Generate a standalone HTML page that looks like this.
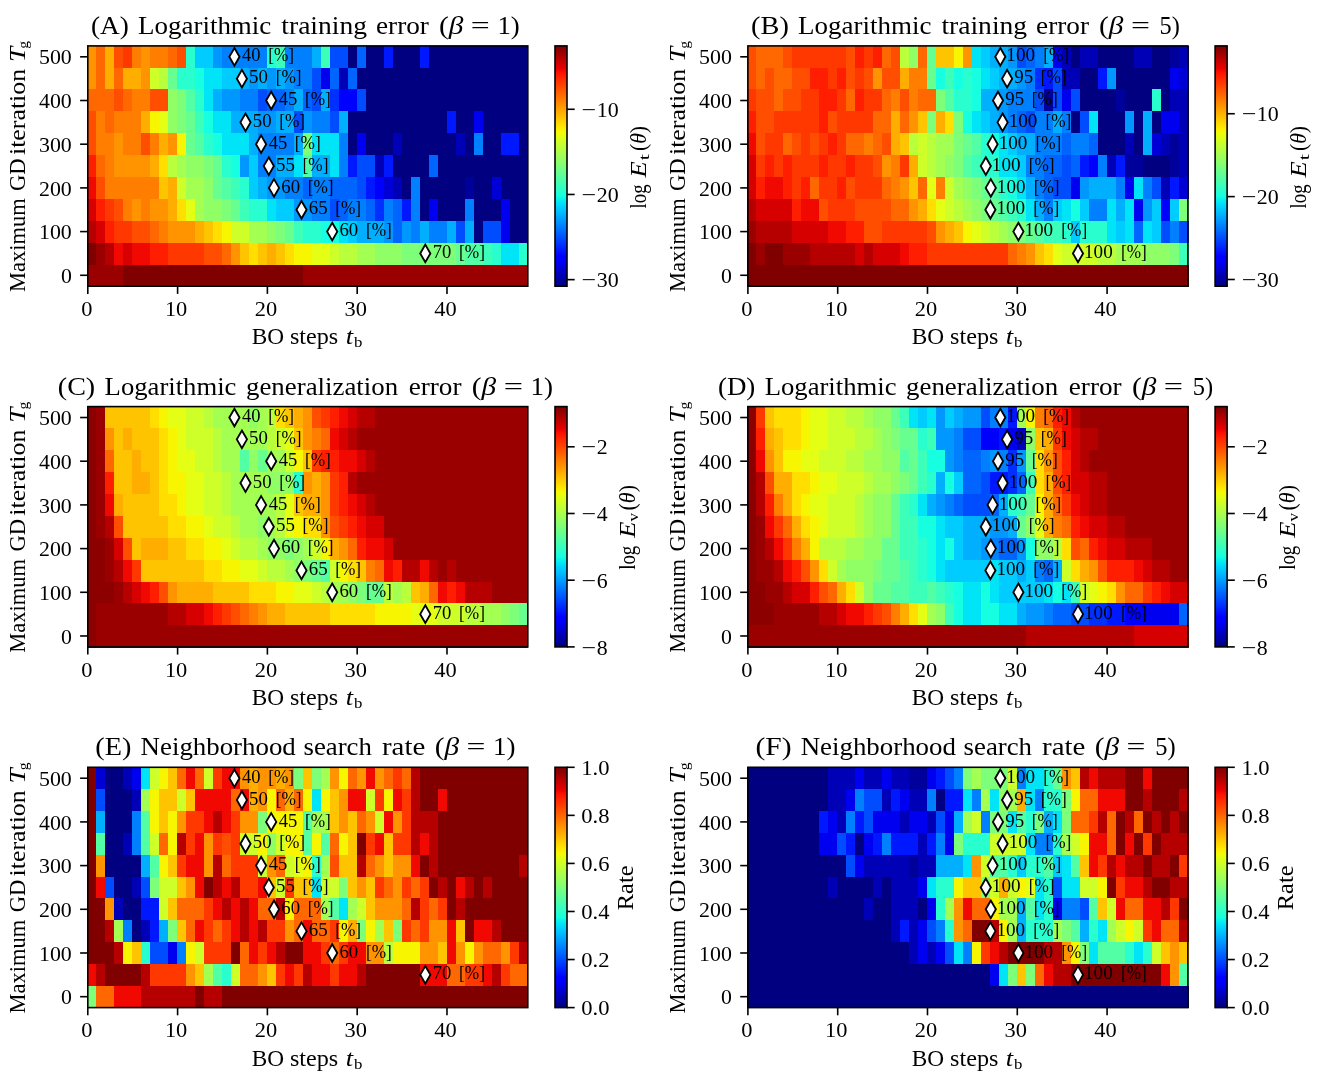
<!DOCTYPE html>
<html lang="en"><head><meta charset="utf-8"><title>Figure</title>
<style>html,body{margin:0;padding:0;background:#fff}svg{display:block}text{font-family:"Liberation Serif", "DejaVu Serif", serif;fill:#000}.t{font-size:21.5px}.l{font-size:22.5px}.ti{font-size:26px}.s{font-size:15px}.a{font-size:18.5px}</style></head><body>
<svg width="1324" height="1080" viewBox="0 0 1324 1080">
<rect width="1324" height="1080" fill="#fff"/>
<defs><linearGradient id="jet" x1="0" y1="1" x2="0" y2="0">
<stop offset="0.0000" stop-color="#000080"/>
<stop offset="0.0156" stop-color="#000092"/>
<stop offset="0.0312" stop-color="#0000a4"/>
<stop offset="0.0469" stop-color="#0000b6"/>
<stop offset="0.0625" stop-color="#0000c8"/>
<stop offset="0.0781" stop-color="#0000da"/>
<stop offset="0.0938" stop-color="#0000ed"/>
<stop offset="0.1094" stop-color="#0000ff"/>
<stop offset="0.1250" stop-color="#0000ff"/>
<stop offset="0.1406" stop-color="#0010ff"/>
<stop offset="0.1562" stop-color="#0020ff"/>
<stop offset="0.1719" stop-color="#0030ff"/>
<stop offset="0.1875" stop-color="#0040ff"/>
<stop offset="0.2031" stop-color="#0050ff"/>
<stop offset="0.2188" stop-color="#0060ff"/>
<stop offset="0.2344" stop-color="#0070ff"/>
<stop offset="0.2500" stop-color="#0080ff"/>
<stop offset="0.2656" stop-color="#0090ff"/>
<stop offset="0.2812" stop-color="#00a0ff"/>
<stop offset="0.2969" stop-color="#00b0ff"/>
<stop offset="0.3125" stop-color="#00c0ff"/>
<stop offset="0.3281" stop-color="#00d0ff"/>
<stop offset="0.3438" stop-color="#00e0fb"/>
<stop offset="0.3594" stop-color="#09f0ee"/>
<stop offset="0.3750" stop-color="#16ffe1"/>
<stop offset="0.3906" stop-color="#23ffd4"/>
<stop offset="0.4062" stop-color="#30ffc7"/>
<stop offset="0.4219" stop-color="#3cffba"/>
<stop offset="0.4375" stop-color="#49ffad"/>
<stop offset="0.4531" stop-color="#56ffa0"/>
<stop offset="0.4688" stop-color="#63ff94"/>
<stop offset="0.4844" stop-color="#70ff87"/>
<stop offset="0.5000" stop-color="#7dff7a"/>
<stop offset="0.5156" stop-color="#8aff6d"/>
<stop offset="0.5312" stop-color="#97ff60"/>
<stop offset="0.5469" stop-color="#a4ff53"/>
<stop offset="0.5625" stop-color="#b1ff46"/>
<stop offset="0.5781" stop-color="#beff39"/>
<stop offset="0.5938" stop-color="#caff2c"/>
<stop offset="0.6094" stop-color="#d7ff1f"/>
<stop offset="0.6250" stop-color="#e4ff13"/>
<stop offset="0.6406" stop-color="#f1fc06"/>
<stop offset="0.6562" stop-color="#feed00"/>
<stop offset="0.6719" stop-color="#ffde00"/>
<stop offset="0.6875" stop-color="#ffd000"/>
<stop offset="0.7031" stop-color="#ffc100"/>
<stop offset="0.7188" stop-color="#ffb200"/>
<stop offset="0.7344" stop-color="#ffa300"/>
<stop offset="0.7500" stop-color="#ff9400"/>
<stop offset="0.7656" stop-color="#ff8600"/>
<stop offset="0.7812" stop-color="#ff7700"/>
<stop offset="0.7969" stop-color="#ff6800"/>
<stop offset="0.8125" stop-color="#ff5900"/>
<stop offset="0.8281" stop-color="#ff4a00"/>
<stop offset="0.8438" stop-color="#ff3b00"/>
<stop offset="0.8594" stop-color="#ff2d00"/>
<stop offset="0.8750" stop-color="#ff1e00"/>
<stop offset="0.8906" stop-color="#fa0f00"/>
<stop offset="0.9062" stop-color="#e80000"/>
<stop offset="0.9219" stop-color="#d60000"/>
<stop offset="0.9375" stop-color="#c40000"/>
<stop offset="0.9531" stop-color="#b20000"/>
<stop offset="0.9688" stop-color="#9f0000"/>
<stop offset="0.9844" stop-color="#8d0000"/>
<stop offset="1.0000" stop-color="#800000"/>
</linearGradient></defs>
<g shape-rendering="crispEdges">
<rect x="87.00" y="45.60" width="9.40" height="22.30" fill="#ff9400"/>
<rect x="96.00" y="45.60" width="9.40" height="22.30" fill="#ff6800"/>
<rect x="105.00" y="45.60" width="9.40" height="22.30" fill="#ffae00"/>
<rect x="114.00" y="45.60" width="9.40" height="22.30" fill="#ff4e00"/>
<rect x="123.00" y="45.60" width="9.40" height="22.30" fill="#ff3800"/>
<rect x="132.00" y="45.60" width="9.40" height="22.30" fill="#ff7e00"/>
<rect x="141.00" y="45.60" width="9.40" height="22.30" fill="#ff9400"/>
<rect x="150.00" y="45.60" width="18.40" height="22.30" fill="#ff7e00"/>
<rect x="168.00" y="45.60" width="9.40" height="22.30" fill="#ff6800"/>
<rect x="177.00" y="45.60" width="9.40" height="22.30" fill="#ff4e00"/>
<rect x="186.00" y="45.60" width="9.40" height="22.30" fill="#29ffce"/>
<rect x="195.00" y="45.60" width="18.40" height="22.30" fill="#00ccff"/>
<rect x="213.00" y="45.60" width="9.40" height="22.30" fill="#0098ff"/>
<rect x="222.00" y="45.60" width="45.40" height="22.30" fill="#0080ff"/>
<rect x="267.00" y="45.60" width="9.40" height="22.30" fill="#29ffce"/>
<rect x="276.00" y="45.60" width="9.40" height="22.30" fill="#3cffba"/>
<rect x="285.00" y="45.60" width="27.40" height="22.30" fill="#0080ff"/>
<rect x="312.00" y="45.60" width="9.40" height="22.30" fill="#00b0ff"/>
<rect x="321.00" y="45.60" width="9.40" height="22.30" fill="#3cffba"/>
<rect x="330.00" y="45.60" width="18.40" height="22.30" fill="#004cff"/>
<rect x="348.00" y="45.60" width="9.40" height="22.30" fill="#000080"/>
<rect x="357.00" y="45.60" width="9.40" height="22.30" fill="#0064ff"/>
<rect x="366.00" y="45.60" width="18.40" height="22.30" fill="#000080"/>
<rect x="384.00" y="45.60" width="9.40" height="22.30" fill="#0018ff"/>
<rect x="393.00" y="45.60" width="27.40" height="22.30" fill="#000080"/>
<rect x="420.00" y="45.60" width="9.40" height="22.30" fill="#0018ff"/>
<rect x="429.00" y="45.60" width="99.40" height="22.30" fill="#000080"/>
<rect x="87.00" y="67.50" width="9.40" height="22.30" fill="#ff9400"/>
<rect x="96.00" y="67.50" width="9.40" height="22.30" fill="#ff6800"/>
<rect x="105.00" y="67.50" width="9.40" height="22.30" fill="#ffae00"/>
<rect x="114.00" y="67.50" width="9.40" height="22.30" fill="#ff6800"/>
<rect x="123.00" y="67.50" width="18.40" height="22.30" fill="#ffae00"/>
<rect x="141.00" y="67.50" width="9.40" height="22.30" fill="#ff9400"/>
<rect x="150.00" y="67.50" width="9.40" height="22.30" fill="#ceff29"/>
<rect x="159.00" y="67.50" width="9.40" height="22.30" fill="#baff3c"/>
<rect x="168.00" y="67.50" width="9.40" height="22.30" fill="#66ff90"/>
<rect x="177.00" y="67.50" width="18.40" height="22.30" fill="#29ffce"/>
<rect x="195.00" y="67.50" width="9.40" height="22.30" fill="#16ffe1"/>
<rect x="204.00" y="67.50" width="18.40" height="22.30" fill="#00e4f8"/>
<rect x="222.00" y="67.50" width="18.40" height="22.30" fill="#00ccff"/>
<rect x="240.00" y="67.50" width="9.40" height="22.30" fill="#00b0ff"/>
<rect x="249.00" y="67.50" width="9.40" height="22.30" fill="#0098ff"/>
<rect x="258.00" y="67.50" width="9.40" height="22.30" fill="#00b0ff"/>
<rect x="267.00" y="67.50" width="9.40" height="22.30" fill="#0098ff"/>
<rect x="276.00" y="67.50" width="9.40" height="22.30" fill="#00b0ff"/>
<rect x="285.00" y="67.50" width="9.40" height="22.30" fill="#0098ff"/>
<rect x="294.00" y="67.50" width="18.40" height="22.30" fill="#0080ff"/>
<rect x="312.00" y="67.50" width="9.40" height="22.30" fill="#004cff"/>
<rect x="321.00" y="67.50" width="9.40" height="22.30" fill="#0000f1"/>
<rect x="330.00" y="67.50" width="9.40" height="22.30" fill="#0064ff"/>
<rect x="339.00" y="67.50" width="9.40" height="22.30" fill="#0000b6"/>
<rect x="348.00" y="67.50" width="9.40" height="22.30" fill="#0064ff"/>
<rect x="357.00" y="67.50" width="171.40" height="22.30" fill="#000080"/>
<rect x="87.00" y="89.40" width="27.40" height="22.30" fill="#ff6800"/>
<rect x="114.00" y="89.40" width="9.40" height="22.30" fill="#ff4e00"/>
<rect x="123.00" y="89.40" width="9.40" height="22.30" fill="#ff6800"/>
<rect x="132.00" y="89.40" width="18.40" height="22.30" fill="#ff7e00"/>
<rect x="150.00" y="89.40" width="18.40" height="22.30" fill="#ff4e00"/>
<rect x="168.00" y="89.40" width="9.40" height="22.30" fill="#90ff66"/>
<rect x="177.00" y="89.40" width="9.40" height="22.30" fill="#7dff7a"/>
<rect x="186.00" y="89.40" width="9.40" height="22.30" fill="#53ffa4"/>
<rect x="195.00" y="89.40" width="9.40" height="22.30" fill="#29ffce"/>
<rect x="204.00" y="89.40" width="9.40" height="22.30" fill="#00e4f8"/>
<rect x="213.00" y="89.40" width="9.40" height="22.30" fill="#00b0ff"/>
<rect x="222.00" y="89.40" width="18.40" height="22.30" fill="#0098ff"/>
<rect x="240.00" y="89.40" width="18.40" height="22.30" fill="#0080ff"/>
<rect x="258.00" y="89.40" width="9.40" height="22.30" fill="#004cff"/>
<rect x="267.00" y="89.40" width="18.40" height="22.30" fill="#0064ff"/>
<rect x="285.00" y="89.40" width="9.40" height="22.30" fill="#0080ff"/>
<rect x="294.00" y="89.40" width="9.40" height="22.30" fill="#00b0ff"/>
<rect x="303.00" y="89.40" width="9.40" height="22.30" fill="#0064ff"/>
<rect x="312.00" y="89.40" width="9.40" height="22.30" fill="#004cff"/>
<rect x="321.00" y="89.40" width="9.40" height="22.30" fill="#00b0ff"/>
<rect x="330.00" y="89.40" width="9.40" height="22.30" fill="#0030ff"/>
<rect x="339.00" y="89.40" width="18.40" height="22.30" fill="#0000ff"/>
<rect x="357.00" y="89.40" width="9.40" height="22.30" fill="#004cff"/>
<rect x="366.00" y="89.40" width="162.40" height="22.30" fill="#000080"/>
<rect x="87.00" y="111.30" width="9.40" height="22.30" fill="#ff4e00"/>
<rect x="96.00" y="111.30" width="9.40" height="22.30" fill="#ff7e00"/>
<rect x="105.00" y="111.30" width="9.40" height="22.30" fill="#ff6800"/>
<rect x="114.00" y="111.30" width="27.40" height="22.30" fill="#ff7e00"/>
<rect x="141.00" y="111.30" width="9.40" height="22.30" fill="#ffae00"/>
<rect x="150.00" y="111.30" width="9.40" height="22.30" fill="#f8f500"/>
<rect x="159.00" y="111.30" width="9.40" height="22.30" fill="#e4ff13"/>
<rect x="168.00" y="111.30" width="9.40" height="22.30" fill="#90ff66"/>
<rect x="177.00" y="111.30" width="9.40" height="22.30" fill="#7dff7a"/>
<rect x="186.00" y="111.30" width="9.40" height="22.30" fill="#66ff90"/>
<rect x="195.00" y="111.30" width="9.40" height="22.30" fill="#3cffba"/>
<rect x="204.00" y="111.30" width="9.40" height="22.30" fill="#16ffe1"/>
<rect x="213.00" y="111.30" width="18.40" height="22.30" fill="#00e4f8"/>
<rect x="231.00" y="111.30" width="27.40" height="22.30" fill="#00b0ff"/>
<rect x="258.00" y="111.30" width="18.40" height="22.30" fill="#0098ff"/>
<rect x="276.00" y="111.30" width="18.40" height="22.30" fill="#00b0ff"/>
<rect x="294.00" y="111.30" width="9.40" height="22.30" fill="#004cff"/>
<rect x="303.00" y="111.30" width="9.40" height="22.30" fill="#0098ff"/>
<rect x="312.00" y="111.30" width="18.40" height="22.30" fill="#0080ff"/>
<rect x="330.00" y="111.30" width="9.40" height="22.30" fill="#004cff"/>
<rect x="339.00" y="111.30" width="9.40" height="22.30" fill="#00b0ff"/>
<rect x="348.00" y="111.30" width="99.40" height="22.30" fill="#000080"/>
<rect x="447.00" y="111.30" width="9.40" height="22.30" fill="#0018ff"/>
<rect x="456.00" y="111.30" width="18.40" height="22.30" fill="#000080"/>
<rect x="474.00" y="111.30" width="9.40" height="22.30" fill="#0000f1"/>
<rect x="483.00" y="111.30" width="45.40" height="22.30" fill="#000080"/>
<rect x="87.00" y="133.20" width="9.40" height="22.30" fill="#ff4e00"/>
<rect x="96.00" y="133.20" width="18.40" height="22.30" fill="#ff7e00"/>
<rect x="114.00" y="133.20" width="9.40" height="22.30" fill="#ff9400"/>
<rect x="123.00" y="133.20" width="18.40" height="22.30" fill="#ff7e00"/>
<rect x="141.00" y="133.20" width="9.40" height="22.30" fill="#ff4e00"/>
<rect x="150.00" y="133.20" width="9.40" height="22.30" fill="#ff7e00"/>
<rect x="159.00" y="133.20" width="9.40" height="22.30" fill="#ffae00"/>
<rect x="168.00" y="133.20" width="9.40" height="22.30" fill="#ff9400"/>
<rect x="177.00" y="133.20" width="9.40" height="22.30" fill="#f8f500"/>
<rect x="186.00" y="133.20" width="9.40" height="22.30" fill="#66ff90"/>
<rect x="195.00" y="133.20" width="9.40" height="22.30" fill="#53ffa4"/>
<rect x="204.00" y="133.20" width="9.40" height="22.30" fill="#29ffce"/>
<rect x="213.00" y="133.20" width="9.40" height="22.30" fill="#16ffe1"/>
<rect x="222.00" y="133.20" width="27.40" height="22.30" fill="#00e4f8"/>
<rect x="249.00" y="133.20" width="9.40" height="22.30" fill="#00b0ff"/>
<rect x="258.00" y="133.20" width="36.40" height="22.30" fill="#0080ff"/>
<rect x="294.00" y="133.20" width="9.40" height="22.30" fill="#00b0ff"/>
<rect x="303.00" y="133.20" width="9.40" height="22.30" fill="#7dff7a"/>
<rect x="312.00" y="133.20" width="27.40" height="22.30" fill="#00e4f8"/>
<rect x="339.00" y="133.20" width="9.40" height="22.30" fill="#0080ff"/>
<rect x="348.00" y="133.20" width="9.40" height="22.30" fill="#000080"/>
<rect x="357.00" y="133.20" width="9.40" height="22.30" fill="#0000f1"/>
<rect x="366.00" y="133.20" width="27.40" height="22.30" fill="#000080"/>
<rect x="393.00" y="133.20" width="9.40" height="22.30" fill="#0000b6"/>
<rect x="402.00" y="133.20" width="54.40" height="22.30" fill="#000080"/>
<rect x="456.00" y="133.20" width="9.40" height="22.30" fill="#0000b6"/>
<rect x="465.00" y="133.20" width="9.40" height="22.30" fill="#000080"/>
<rect x="474.00" y="133.20" width="9.40" height="22.30" fill="#0080ff"/>
<rect x="483.00" y="133.20" width="18.40" height="22.30" fill="#000080"/>
<rect x="501.00" y="133.20" width="18.40" height="22.30" fill="#0018ff"/>
<rect x="519.00" y="133.20" width="9.40" height="22.30" fill="#000080"/>
<rect x="87.00" y="155.10" width="9.40" height="22.30" fill="#ff1e00"/>
<rect x="96.00" y="155.10" width="9.40" height="22.30" fill="#ff6800"/>
<rect x="105.00" y="155.10" width="9.40" height="22.30" fill="#ff7e00"/>
<rect x="114.00" y="155.10" width="36.40" height="22.30" fill="#ff9400"/>
<rect x="150.00" y="155.10" width="9.40" height="22.30" fill="#ffae00"/>
<rect x="159.00" y="155.10" width="9.40" height="22.30" fill="#ffde00"/>
<rect x="168.00" y="155.10" width="9.40" height="22.30" fill="#baff3c"/>
<rect x="177.00" y="155.10" width="9.40" height="22.30" fill="#a4ff53"/>
<rect x="186.00" y="155.10" width="18.40" height="22.30" fill="#90ff66"/>
<rect x="204.00" y="155.10" width="9.40" height="22.30" fill="#7dff7a"/>
<rect x="213.00" y="155.10" width="9.40" height="22.30" fill="#66ff90"/>
<rect x="222.00" y="155.10" width="9.40" height="22.30" fill="#29ffce"/>
<rect x="231.00" y="155.10" width="9.40" height="22.30" fill="#16ffe1"/>
<rect x="240.00" y="155.10" width="9.40" height="22.30" fill="#0098ff"/>
<rect x="249.00" y="155.10" width="9.40" height="22.30" fill="#00ccff"/>
<rect x="258.00" y="155.10" width="18.40" height="22.30" fill="#0080ff"/>
<rect x="276.00" y="155.10" width="18.40" height="22.30" fill="#00b0ff"/>
<rect x="294.00" y="155.10" width="9.40" height="22.30" fill="#00e4f8"/>
<rect x="303.00" y="155.10" width="9.40" height="22.30" fill="#53ffa4"/>
<rect x="312.00" y="155.10" width="18.40" height="22.30" fill="#00b0ff"/>
<rect x="330.00" y="155.10" width="9.40" height="22.30" fill="#00e4f8"/>
<rect x="339.00" y="155.10" width="9.40" height="22.30" fill="#0080ff"/>
<rect x="348.00" y="155.10" width="9.40" height="22.30" fill="#0018ff"/>
<rect x="357.00" y="155.10" width="18.40" height="22.30" fill="#004cff"/>
<rect x="375.00" y="155.10" width="9.40" height="22.30" fill="#0000b6"/>
<rect x="384.00" y="155.10" width="9.40" height="22.30" fill="#0018ff"/>
<rect x="393.00" y="155.10" width="36.40" height="22.30" fill="#000080"/>
<rect x="429.00" y="155.10" width="9.40" height="22.30" fill="#0064ff"/>
<rect x="438.00" y="155.10" width="90.40" height="22.30" fill="#000080"/>
<rect x="87.00" y="177.00" width="9.40" height="22.30" fill="#f10800"/>
<rect x="96.00" y="177.00" width="9.40" height="22.30" fill="#ff4e00"/>
<rect x="105.00" y="177.00" width="54.40" height="22.30" fill="#ff7e00"/>
<rect x="159.00" y="177.00" width="9.40" height="22.30" fill="#ffc400"/>
<rect x="168.00" y="177.00" width="9.40" height="22.30" fill="#ffae00"/>
<rect x="177.00" y="177.00" width="9.40" height="22.30" fill="#ceff29"/>
<rect x="186.00" y="177.00" width="18.40" height="22.30" fill="#a4ff53"/>
<rect x="204.00" y="177.00" width="9.40" height="22.30" fill="#90ff66"/>
<rect x="213.00" y="177.00" width="9.40" height="22.30" fill="#66ff90"/>
<rect x="222.00" y="177.00" width="9.40" height="22.30" fill="#53ffa4"/>
<rect x="231.00" y="177.00" width="9.40" height="22.30" fill="#3cffba"/>
<rect x="240.00" y="177.00" width="9.40" height="22.30" fill="#29ffce"/>
<rect x="249.00" y="177.00" width="9.40" height="22.30" fill="#00ccff"/>
<rect x="258.00" y="177.00" width="9.40" height="22.30" fill="#00b0ff"/>
<rect x="267.00" y="177.00" width="18.40" height="22.30" fill="#0098ff"/>
<rect x="285.00" y="177.00" width="18.40" height="22.30" fill="#0080ff"/>
<rect x="303.00" y="177.00" width="9.40" height="22.30" fill="#0064ff"/>
<rect x="312.00" y="177.00" width="18.40" height="22.30" fill="#0080ff"/>
<rect x="330.00" y="177.00" width="27.40" height="22.30" fill="#0064ff"/>
<rect x="357.00" y="177.00" width="9.40" height="22.30" fill="#004cff"/>
<rect x="366.00" y="177.00" width="9.40" height="22.30" fill="#0018ff"/>
<rect x="375.00" y="177.00" width="9.40" height="22.30" fill="#0000ff"/>
<rect x="384.00" y="177.00" width="9.40" height="22.30" fill="#0000d6"/>
<rect x="393.00" y="177.00" width="9.40" height="22.30" fill="#0000b6"/>
<rect x="402.00" y="177.00" width="9.40" height="22.30" fill="#000080"/>
<rect x="411.00" y="177.00" width="9.40" height="22.30" fill="#0080ff"/>
<rect x="420.00" y="177.00" width="45.40" height="22.30" fill="#000080"/>
<rect x="465.00" y="177.00" width="9.40" height="22.30" fill="#00009b"/>
<rect x="474.00" y="177.00" width="18.40" height="22.30" fill="#000080"/>
<rect x="492.00" y="177.00" width="9.40" height="22.30" fill="#0000d6"/>
<rect x="501.00" y="177.00" width="27.40" height="22.30" fill="#000080"/>
<rect x="87.00" y="198.90" width="9.40" height="22.30" fill="#d60000"/>
<rect x="96.00" y="198.90" width="9.40" height="22.30" fill="#ff1e00"/>
<rect x="105.00" y="198.90" width="9.40" height="22.30" fill="#ff3800"/>
<rect x="114.00" y="198.90" width="9.40" height="22.30" fill="#ff4e00"/>
<rect x="123.00" y="198.90" width="9.40" height="22.30" fill="#ff7e00"/>
<rect x="132.00" y="198.90" width="9.40" height="22.30" fill="#ff9400"/>
<rect x="141.00" y="198.90" width="9.40" height="22.30" fill="#ff7e00"/>
<rect x="150.00" y="198.90" width="18.40" height="22.30" fill="#ff9400"/>
<rect x="168.00" y="198.90" width="9.40" height="22.30" fill="#ffae00"/>
<rect x="177.00" y="198.90" width="9.40" height="22.30" fill="#ffde00"/>
<rect x="186.00" y="198.90" width="9.40" height="22.30" fill="#e4ff13"/>
<rect x="195.00" y="198.90" width="9.40" height="22.30" fill="#a4ff53"/>
<rect x="204.00" y="198.90" width="18.40" height="22.30" fill="#90ff66"/>
<rect x="222.00" y="198.90" width="9.40" height="22.30" fill="#7dff7a"/>
<rect x="231.00" y="198.90" width="9.40" height="22.30" fill="#66ff90"/>
<rect x="240.00" y="198.90" width="9.40" height="22.30" fill="#3cffba"/>
<rect x="249.00" y="198.90" width="18.40" height="22.30" fill="#29ffce"/>
<rect x="267.00" y="198.90" width="9.40" height="22.30" fill="#00e4f8"/>
<rect x="276.00" y="198.90" width="18.40" height="22.30" fill="#00ccff"/>
<rect x="294.00" y="198.90" width="18.40" height="22.30" fill="#0098ff"/>
<rect x="312.00" y="198.90" width="18.40" height="22.30" fill="#0080ff"/>
<rect x="330.00" y="198.90" width="9.40" height="22.30" fill="#004cff"/>
<rect x="339.00" y="198.90" width="9.40" height="22.30" fill="#0064ff"/>
<rect x="348.00" y="198.90" width="18.40" height="22.30" fill="#0080ff"/>
<rect x="366.00" y="198.90" width="9.40" height="22.30" fill="#0064ff"/>
<rect x="375.00" y="198.90" width="9.40" height="22.30" fill="#0030ff"/>
<rect x="384.00" y="198.90" width="9.40" height="22.30" fill="#0080ff"/>
<rect x="393.00" y="198.90" width="9.40" height="22.30" fill="#0064ff"/>
<rect x="402.00" y="198.90" width="9.40" height="22.30" fill="#0018ff"/>
<rect x="411.00" y="198.90" width="9.40" height="22.30" fill="#0080ff"/>
<rect x="420.00" y="198.90" width="9.40" height="22.30" fill="#000080"/>
<rect x="429.00" y="198.90" width="9.40" height="22.30" fill="#0000f1"/>
<rect x="438.00" y="198.90" width="27.40" height="22.30" fill="#000080"/>
<rect x="465.00" y="198.90" width="9.40" height="22.30" fill="#0080ff"/>
<rect x="474.00" y="198.90" width="27.40" height="22.30" fill="#000080"/>
<rect x="501.00" y="198.90" width="9.40" height="22.30" fill="#0000f1"/>
<rect x="510.00" y="198.90" width="18.40" height="22.30" fill="#000080"/>
<rect x="87.00" y="220.80" width="9.40" height="22.30" fill="#b60000"/>
<rect x="96.00" y="220.80" width="9.40" height="22.30" fill="#d60000"/>
<rect x="105.00" y="220.80" width="9.40" height="22.30" fill="#ff1e00"/>
<rect x="114.00" y="220.80" width="18.40" height="22.30" fill="#ff3800"/>
<rect x="132.00" y="220.80" width="18.40" height="22.30" fill="#ff4e00"/>
<rect x="150.00" y="220.80" width="9.40" height="22.30" fill="#ff6800"/>
<rect x="159.00" y="220.80" width="9.40" height="22.30" fill="#ff7e00"/>
<rect x="168.00" y="220.80" width="27.40" height="22.30" fill="#ff9400"/>
<rect x="195.00" y="220.80" width="9.40" height="22.30" fill="#ffae00"/>
<rect x="204.00" y="220.80" width="9.40" height="22.30" fill="#ffc400"/>
<rect x="213.00" y="220.80" width="9.40" height="22.30" fill="#ffde00"/>
<rect x="222.00" y="220.80" width="9.40" height="22.30" fill="#f8f500"/>
<rect x="231.00" y="220.80" width="18.40" height="22.30" fill="#ceff29"/>
<rect x="249.00" y="220.80" width="18.40" height="22.30" fill="#a4ff53"/>
<rect x="267.00" y="220.80" width="9.40" height="22.30" fill="#90ff66"/>
<rect x="276.00" y="220.80" width="9.40" height="22.30" fill="#7dff7a"/>
<rect x="285.00" y="220.80" width="9.40" height="22.30" fill="#66ff90"/>
<rect x="294.00" y="220.80" width="9.40" height="22.30" fill="#3cffba"/>
<rect x="303.00" y="220.80" width="18.40" height="22.30" fill="#29ffce"/>
<rect x="321.00" y="220.80" width="18.40" height="22.30" fill="#16ffe1"/>
<rect x="339.00" y="220.80" width="9.40" height="22.30" fill="#00e4f8"/>
<rect x="348.00" y="220.80" width="9.40" height="22.30" fill="#00ccff"/>
<rect x="357.00" y="220.80" width="27.40" height="22.30" fill="#00b0ff"/>
<rect x="384.00" y="220.80" width="9.40" height="22.30" fill="#0098ff"/>
<rect x="393.00" y="220.80" width="9.40" height="22.30" fill="#0064ff"/>
<rect x="402.00" y="220.80" width="9.40" height="22.30" fill="#0098ff"/>
<rect x="411.00" y="220.80" width="9.40" height="22.30" fill="#0080ff"/>
<rect x="420.00" y="220.80" width="9.40" height="22.30" fill="#00b0ff"/>
<rect x="429.00" y="220.80" width="18.40" height="22.30" fill="#0080ff"/>
<rect x="447.00" y="220.80" width="9.40" height="22.30" fill="#00b0ff"/>
<rect x="456.00" y="220.80" width="9.40" height="22.30" fill="#004cff"/>
<rect x="465.00" y="220.80" width="9.40" height="22.30" fill="#00b0ff"/>
<rect x="474.00" y="220.80" width="9.40" height="22.30" fill="#000080"/>
<rect x="483.00" y="220.80" width="18.40" height="22.30" fill="#004cff"/>
<rect x="501.00" y="220.80" width="9.40" height="22.30" fill="#0000f1"/>
<rect x="510.00" y="220.80" width="18.40" height="22.30" fill="#000080"/>
<rect x="87.00" y="242.70" width="9.40" height="22.30" fill="#800000"/>
<rect x="96.00" y="242.70" width="9.40" height="22.30" fill="#9b0000"/>
<rect x="105.00" y="242.70" width="9.40" height="22.30" fill="#b60000"/>
<rect x="114.00" y="242.70" width="9.40" height="22.30" fill="#f10800"/>
<rect x="123.00" y="242.70" width="9.40" height="22.30" fill="#d60000"/>
<rect x="132.00" y="242.70" width="18.40" height="22.30" fill="#f10800"/>
<rect x="150.00" y="242.70" width="18.40" height="22.30" fill="#ff1e00"/>
<rect x="168.00" y="242.70" width="36.40" height="22.30" fill="#ff3800"/>
<rect x="204.00" y="242.70" width="18.40" height="22.30" fill="#ff4e00"/>
<rect x="222.00" y="242.70" width="9.40" height="22.30" fill="#ff6800"/>
<rect x="231.00" y="242.70" width="9.40" height="22.30" fill="#ff9400"/>
<rect x="240.00" y="242.70" width="9.40" height="22.30" fill="#ffc400"/>
<rect x="249.00" y="242.70" width="9.40" height="22.30" fill="#ffde00"/>
<rect x="258.00" y="242.70" width="9.40" height="22.30" fill="#ffc400"/>
<rect x="267.00" y="242.70" width="9.40" height="22.30" fill="#ffae00"/>
<rect x="276.00" y="242.70" width="9.40" height="22.30" fill="#ffc400"/>
<rect x="285.00" y="242.70" width="9.40" height="22.30" fill="#ffde00"/>
<rect x="294.00" y="242.70" width="18.40" height="22.30" fill="#f8f500"/>
<rect x="312.00" y="242.70" width="18.40" height="22.30" fill="#e4ff13"/>
<rect x="330.00" y="242.70" width="9.40" height="22.30" fill="#ceff29"/>
<rect x="339.00" y="242.70" width="18.40" height="22.30" fill="#baff3c"/>
<rect x="357.00" y="242.70" width="18.40" height="22.30" fill="#a4ff53"/>
<rect x="375.00" y="242.70" width="27.40" height="22.30" fill="#90ff66"/>
<rect x="402.00" y="242.70" width="54.40" height="22.30" fill="#7dff7a"/>
<rect x="456.00" y="242.70" width="9.40" height="22.30" fill="#66ff90"/>
<rect x="465.00" y="242.70" width="18.40" height="22.30" fill="#53ffa4"/>
<rect x="483.00" y="242.70" width="9.40" height="22.30" fill="#3cffba"/>
<rect x="492.00" y="242.70" width="9.40" height="22.30" fill="#29ffce"/>
<rect x="501.00" y="242.70" width="18.40" height="22.30" fill="#00e4f8"/>
<rect x="519.00" y="242.70" width="9.40" height="22.30" fill="#29ffce"/>
<rect x="87.00" y="264.60" width="36.40" height="22.30" fill="#9b0000"/>
<rect x="123.00" y="264.60" width="180.40" height="22.30" fill="#800000"/>
<rect x="303.00" y="264.60" width="225.40" height="22.30" fill="#9b0000"/>
</g>
<path d="M234.40 48.02L239.50 56.82L234.40 65.62L229.30 56.82Z" fill="#fff" stroke="#000" stroke-width="1.85" stroke-linejoin="miter"/>
<text class="a" x="241.98" y="61.42" textLength="18.5" lengthAdjust="spacingAndGlyphs">40</text>
<text class="a" x="268.13" y="61.42" textLength="25.9" lengthAdjust="spacingAndGlyphs">[%]</text>
<path d="M241.90 69.87L247.00 78.67L241.90 87.47L236.80 78.67Z" fill="#fff" stroke="#000" stroke-width="1.85" stroke-linejoin="miter"/>
<text class="a" x="249.14" y="83.27" textLength="18.8" lengthAdjust="spacingAndGlyphs">50</text>
<text class="a" x="275.63" y="83.27" textLength="25.9" lengthAdjust="spacingAndGlyphs">[%]</text>
<path d="M271.20 91.71L276.30 100.51L271.20 109.31L266.10 100.51Z" fill="#fff" stroke="#000" stroke-width="1.85" stroke-linejoin="miter"/>
<text class="a" x="278.78" y="105.11" textLength="18.6" lengthAdjust="spacingAndGlyphs">45</text>
<text class="a" x="304.93" y="105.11" textLength="25.9" lengthAdjust="spacingAndGlyphs">[%]</text>
<path d="M245.50 113.56L250.60 122.36L245.50 131.16L240.40 122.36Z" fill="#fff" stroke="#000" stroke-width="1.85" stroke-linejoin="miter"/>
<text class="a" x="252.75" y="126.96" textLength="18.8" lengthAdjust="spacingAndGlyphs">50</text>
<text class="a" x="279.23" y="126.96" textLength="25.9" lengthAdjust="spacingAndGlyphs">[%]</text>
<path d="M261.10 135.40L266.20 144.20L261.10 153.00L256.00 144.20Z" fill="#fff" stroke="#000" stroke-width="1.85" stroke-linejoin="miter"/>
<text class="a" x="268.68" y="148.80" textLength="18.6" lengthAdjust="spacingAndGlyphs">45</text>
<text class="a" x="294.83" y="148.80" textLength="25.9" lengthAdjust="spacingAndGlyphs">[%]</text>
<path d="M268.80 157.25L273.90 166.05L268.80 174.85L263.70 166.05Z" fill="#fff" stroke="#000" stroke-width="1.85" stroke-linejoin="miter"/>
<text class="a" x="276.05" y="170.65" textLength="18.9" lengthAdjust="spacingAndGlyphs">55</text>
<text class="a" x="302.53" y="170.65" textLength="25.9" lengthAdjust="spacingAndGlyphs">[%]</text>
<path d="M274.00 179.10L279.10 187.90L274.00 196.70L268.90 187.90Z" fill="#fff" stroke="#000" stroke-width="1.85" stroke-linejoin="miter"/>
<text class="a" x="281.25" y="192.50" textLength="18.8" lengthAdjust="spacingAndGlyphs">60</text>
<text class="a" x="307.73" y="192.50" textLength="25.9" lengthAdjust="spacingAndGlyphs">[%]</text>
<path d="M301.50 200.94L306.60 209.74L301.50 218.54L296.40 209.74Z" fill="#fff" stroke="#000" stroke-width="1.85" stroke-linejoin="miter"/>
<text class="a" x="308.75" y="214.34" textLength="18.9" lengthAdjust="spacingAndGlyphs">65</text>
<text class="a" x="335.23" y="214.34" textLength="25.9" lengthAdjust="spacingAndGlyphs">[%]</text>
<path d="M332.20 222.79L337.30 231.59L332.20 240.39L327.10 231.59Z" fill="#fff" stroke="#000" stroke-width="1.85" stroke-linejoin="miter"/>
<text class="a" x="339.44" y="236.19" textLength="18.8" lengthAdjust="spacingAndGlyphs">60</text>
<text class="a" x="365.93" y="236.19" textLength="25.9" lengthAdjust="spacingAndGlyphs">[%]</text>
<path d="M425.30 244.63L430.40 253.43L425.30 262.23L420.20 253.43Z" fill="#fff" stroke="#000" stroke-width="1.85" stroke-linejoin="miter"/>
<text class="a" x="432.73" y="258.03" textLength="18.6" lengthAdjust="spacingAndGlyphs">70</text>
<text class="a" x="459.03" y="258.03" textLength="25.9" lengthAdjust="spacingAndGlyphs">[%]</text>
<rect x="87.80" y="45.90" width="440.00" height="240.30" fill="none" stroke="#000" stroke-width="1.6"/>
<line x1="87.80" y1="286.20" x2="87.80" y2="293.90" stroke="#000" stroke-width="1.6"/>
<text class="t" x="86.75" y="316.00" text-anchor="middle" textLength="11.2" lengthAdjust="spacingAndGlyphs">0</text>
<line x1="177.60" y1="286.20" x2="177.60" y2="293.90" stroke="#000" stroke-width="1.6"/>
<text class="t" x="176.10" y="316.00" text-anchor="middle" textLength="22.4" lengthAdjust="spacingAndGlyphs">10</text>
<line x1="267.39" y1="286.20" x2="267.39" y2="293.90" stroke="#000" stroke-width="1.6"/>
<text class="t" x="265.89" y="316.00" text-anchor="middle" textLength="22.4" lengthAdjust="spacingAndGlyphs">20</text>
<line x1="357.19" y1="286.20" x2="357.19" y2="293.90" stroke="#000" stroke-width="1.6"/>
<text class="t" x="355.69" y="316.00" text-anchor="middle" textLength="22.4" lengthAdjust="spacingAndGlyphs">30</text>
<line x1="446.98" y1="286.20" x2="446.98" y2="293.90" stroke="#000" stroke-width="1.6"/>
<text class="t" x="445.48" y="316.00" text-anchor="middle" textLength="22.4" lengthAdjust="spacingAndGlyphs">40</text>
<line x1="80.10" y1="275.28" x2="87.80" y2="275.28" stroke="#000" stroke-width="1.6"/>
<text class="t" x="71.80" y="282.88" text-anchor="end" textLength="10.9" lengthAdjust="spacingAndGlyphs">0</text>
<line x1="80.10" y1="231.59" x2="87.80" y2="231.59" stroke="#000" stroke-width="1.6"/>
<text class="t" x="71.80" y="239.19" text-anchor="end" textLength="32.8" lengthAdjust="spacingAndGlyphs">100</text>
<line x1="80.10" y1="187.90" x2="87.80" y2="187.90" stroke="#000" stroke-width="1.6"/>
<text class="t" x="71.80" y="195.50" text-anchor="end" textLength="32.8" lengthAdjust="spacingAndGlyphs">200</text>
<line x1="80.10" y1="144.20" x2="87.80" y2="144.20" stroke="#000" stroke-width="1.6"/>
<text class="t" x="71.80" y="151.80" text-anchor="end" textLength="32.8" lengthAdjust="spacingAndGlyphs">300</text>
<line x1="80.10" y1="100.51" x2="87.80" y2="100.51" stroke="#000" stroke-width="1.6"/>
<text class="t" x="71.80" y="108.11" text-anchor="end" textLength="32.8" lengthAdjust="spacingAndGlyphs">400</text>
<line x1="80.10" y1="56.82" x2="87.80" y2="56.82" stroke="#000" stroke-width="1.6"/>
<text class="t" x="71.80" y="64.42" text-anchor="end" textLength="32.8" lengthAdjust="spacingAndGlyphs">500</text>
<text class="l" x="251.72" y="344.30" textLength="32.4" lengthAdjust="spacingAndGlyphs">BO</text>
<text class="l" x="289.98" y="344.30" textLength="48.3" lengthAdjust="spacingAndGlyphs">steps</text>
<text class="l" x="345.73" y="344.30" textLength="7.4" lengthAdjust="spacingAndGlyphs"><tspan font-style="italic">t</tspan></text>
<text class="s" x="353.91" y="347.30" textLength="8.4" lengthAdjust="spacingAndGlyphs">b</text>
<g transform="translate(25.20 166.05) rotate(-90)">
<text class="l" x="-126.07" y="0.00" textLength="93.8" lengthAdjust="spacingAndGlyphs">Maximum</text>
<text class="l" x="-24.88" y="0.00" textLength="32.6" lengthAdjust="spacingAndGlyphs">GD</text>
<text class="l" x="11.06" y="0.00" textLength="86.1" lengthAdjust="spacingAndGlyphs">iteration</text>
<text class="l" x="104.05" y="0.00" textLength="15.2" lengthAdjust="spacingAndGlyphs"><tspan font-style="italic">T</tspan></text>
<text class="s" x="117.19" y="3.20" textLength="7.8" lengthAdjust="spacingAndGlyphs">g</text>
</g>
<text class="ti" x="90.95" y="33.90" textLength="37.8" lengthAdjust="spacingAndGlyphs">(A)</text>
<text class="ti" x="138.00" y="33.90" textLength="133.3" lengthAdjust="spacingAndGlyphs">Logarithmic</text>
<text class="ti" x="281.30" y="33.90" textLength="85.7" lengthAdjust="spacingAndGlyphs">training</text>
<text class="ti" x="376.00" y="33.90" textLength="52.9" lengthAdjust="spacingAndGlyphs">error</text>
<text class="ti" x="439.00" y="33.90" textLength="24.4" lengthAdjust="spacingAndGlyphs">(<tspan font-style="italic">β</tspan></text>
<text class="ti" x="470.80" y="33.90" textLength="19.0" lengthAdjust="spacingAndGlyphs">=</text>
<text class="ti" x="497.40" y="33.90" textLength="22.4" lengthAdjust="spacingAndGlyphs">1)</text>
<rect x="555.00" y="45.90" width="12.00" height="240.30" fill="url(#jet)" stroke="#000" stroke-width="1.6"/>
<line x1="567.00" y1="109.28" x2="574.70" y2="109.28" stroke="#000" stroke-width="1.6"/>
<text class="t" x="581.60" y="116.88" textLength="14.6" lengthAdjust="spacingAndGlyphs">−</text>
<text class="t" x="596.70" y="116.88" textLength="21.9" lengthAdjust="spacingAndGlyphs">10</text>
<line x1="567.00" y1="194.46" x2="574.70" y2="194.46" stroke="#000" stroke-width="1.6"/>
<text class="t" x="581.60" y="202.06" textLength="14.6" lengthAdjust="spacingAndGlyphs">−</text>
<text class="t" x="596.70" y="202.06" textLength="21.9" lengthAdjust="spacingAndGlyphs">20</text>
<line x1="567.00" y1="279.64" x2="574.70" y2="279.64" stroke="#000" stroke-width="1.6"/>
<text class="t" x="581.60" y="287.24" textLength="14.6" lengthAdjust="spacingAndGlyphs">−</text>
<text class="t" x="596.70" y="287.24" textLength="21.9" lengthAdjust="spacingAndGlyphs">30</text>
<g transform="translate(645.60 166.05) rotate(-90)">
<text class="l" x="-42.35" y="0.00" textLength="23.9" lengthAdjust="spacingAndGlyphs">log</text>
<text class="l" x="-11.40" y="0.00" textLength="16.2" lengthAdjust="spacingAndGlyphs"><tspan font-style="italic">E</tspan></text>
<text class="s" x="5.92" y="3.20" textLength="6.2" lengthAdjust="spacingAndGlyphs">t</text>
<text class="l" x="14.98" y="0.00" textLength="25.2" lengthAdjust="spacingAndGlyphs">(<tspan font-style="italic">θ</tspan>)</text>
</g>
<g shape-rendering="crispEdges">
<rect x="747.10" y="45.60" width="9.40" height="22.30" fill="#ff4e00"/>
<rect x="756.10" y="45.60" width="27.40" height="22.30" fill="#ff6800"/>
<rect x="783.10" y="45.60" width="9.40" height="22.30" fill="#ff4e00"/>
<rect x="792.10" y="45.60" width="54.40" height="22.30" fill="#ff3800"/>
<rect x="846.10" y="45.60" width="9.40" height="22.30" fill="#ff4e00"/>
<rect x="855.10" y="45.60" width="9.40" height="22.30" fill="#ff1e00"/>
<rect x="864.10" y="45.60" width="9.40" height="22.30" fill="#ff3800"/>
<rect x="873.10" y="45.60" width="9.40" height="22.30" fill="#ff1e00"/>
<rect x="882.10" y="45.60" width="9.40" height="22.30" fill="#ff6800"/>
<rect x="891.10" y="45.60" width="9.40" height="22.30" fill="#ff4e00"/>
<rect x="900.10" y="45.60" width="9.40" height="22.30" fill="#baff3c"/>
<rect x="909.10" y="45.60" width="9.40" height="22.30" fill="#90ff66"/>
<rect x="918.10" y="45.60" width="9.40" height="22.30" fill="#ff6800"/>
<rect x="927.10" y="45.60" width="9.40" height="22.30" fill="#66ff90"/>
<rect x="936.10" y="45.60" width="18.40" height="22.30" fill="#ffc400"/>
<rect x="954.10" y="45.60" width="9.40" height="22.30" fill="#f8f500"/>
<rect x="963.10" y="45.60" width="9.40" height="22.30" fill="#ff9400"/>
<rect x="972.10" y="45.60" width="9.40" height="22.30" fill="#00e4f8"/>
<rect x="981.10" y="45.60" width="9.40" height="22.30" fill="#00ccff"/>
<rect x="990.10" y="45.60" width="18.40" height="22.30" fill="#00b0ff"/>
<rect x="1008.10" y="45.60" width="9.40" height="22.30" fill="#0098ff"/>
<rect x="1017.10" y="45.60" width="9.40" height="22.30" fill="#004cff"/>
<rect x="1026.10" y="45.60" width="9.40" height="22.30" fill="#0064ff"/>
<rect x="1035.10" y="45.60" width="9.40" height="22.30" fill="#0080ff"/>
<rect x="1044.10" y="45.60" width="9.40" height="22.30" fill="#00b0ff"/>
<rect x="1053.10" y="45.60" width="9.40" height="22.30" fill="#0000f1"/>
<rect x="1062.10" y="45.60" width="9.40" height="22.30" fill="#0000b6"/>
<rect x="1071.10" y="45.60" width="9.40" height="22.30" fill="#000080"/>
<rect x="1080.10" y="45.60" width="18.40" height="22.30" fill="#0000b6"/>
<rect x="1098.10" y="45.60" width="36.40" height="22.30" fill="#000080"/>
<rect x="1134.10" y="45.60" width="18.40" height="22.30" fill="#0000b6"/>
<rect x="1152.10" y="45.60" width="18.40" height="22.30" fill="#000080"/>
<rect x="1170.10" y="45.60" width="9.40" height="22.30" fill="#00009b"/>
<rect x="1179.10" y="45.60" width="9.40" height="22.30" fill="#0000b6"/>
<rect x="747.10" y="67.50" width="9.40" height="22.30" fill="#ff4e00"/>
<rect x="756.10" y="67.50" width="9.40" height="22.30" fill="#ff6800"/>
<rect x="765.10" y="67.50" width="9.40" height="22.30" fill="#ff4e00"/>
<rect x="774.10" y="67.50" width="18.40" height="22.30" fill="#ff6800"/>
<rect x="792.10" y="67.50" width="18.40" height="22.30" fill="#ff4e00"/>
<rect x="810.10" y="67.50" width="18.40" height="22.30" fill="#ff1e00"/>
<rect x="828.10" y="67.50" width="9.40" height="22.30" fill="#ff3800"/>
<rect x="837.10" y="67.50" width="9.40" height="22.30" fill="#ff1e00"/>
<rect x="846.10" y="67.50" width="9.40" height="22.30" fill="#ff4e00"/>
<rect x="855.10" y="67.50" width="9.40" height="22.30" fill="#ff3800"/>
<rect x="864.10" y="67.50" width="9.40" height="22.30" fill="#ff4e00"/>
<rect x="873.10" y="67.50" width="9.40" height="22.30" fill="#ff9400"/>
<rect x="882.10" y="67.50" width="18.40" height="22.30" fill="#ff4e00"/>
<rect x="900.10" y="67.50" width="9.40" height="22.30" fill="#ffae00"/>
<rect x="909.10" y="67.50" width="18.40" height="22.30" fill="#ff7e00"/>
<rect x="927.10" y="67.50" width="9.40" height="22.30" fill="#66ff90"/>
<rect x="936.10" y="67.50" width="9.40" height="22.30" fill="#16ffe1"/>
<rect x="945.10" y="67.50" width="9.40" height="22.30" fill="#3cffba"/>
<rect x="954.10" y="67.50" width="9.40" height="22.30" fill="#16ffe1"/>
<rect x="963.10" y="67.50" width="9.40" height="22.30" fill="#29ffce"/>
<rect x="972.10" y="67.50" width="9.40" height="22.30" fill="#16ffe1"/>
<rect x="981.10" y="67.50" width="9.40" height="22.30" fill="#00e4f8"/>
<rect x="990.10" y="67.50" width="9.40" height="22.30" fill="#00ccff"/>
<rect x="999.10" y="67.50" width="18.40" height="22.30" fill="#00b0ff"/>
<rect x="1017.10" y="67.50" width="9.40" height="22.30" fill="#0098ff"/>
<rect x="1026.10" y="67.50" width="9.40" height="22.30" fill="#0080ff"/>
<rect x="1035.10" y="67.50" width="9.40" height="22.30" fill="#0030ff"/>
<rect x="1044.10" y="67.50" width="9.40" height="22.30" fill="#0018ff"/>
<rect x="1053.10" y="67.50" width="9.40" height="22.30" fill="#004cff"/>
<rect x="1062.10" y="67.50" width="18.40" height="22.30" fill="#0000b6"/>
<rect x="1080.10" y="67.50" width="18.40" height="22.30" fill="#000080"/>
<rect x="1098.10" y="67.50" width="9.40" height="22.30" fill="#0018ff"/>
<rect x="1107.10" y="67.50" width="9.40" height="22.30" fill="#0098ff"/>
<rect x="1116.10" y="67.50" width="54.40" height="22.30" fill="#000080"/>
<rect x="1170.10" y="67.50" width="9.40" height="22.30" fill="#0000f1"/>
<rect x="1179.10" y="67.50" width="9.40" height="22.30" fill="#0000d6"/>
<rect x="747.10" y="89.40" width="9.40" height="22.30" fill="#ff3800"/>
<rect x="756.10" y="89.40" width="18.40" height="22.30" fill="#ff4e00"/>
<rect x="774.10" y="89.40" width="9.40" height="22.30" fill="#ff6800"/>
<rect x="783.10" y="89.40" width="18.40" height="22.30" fill="#ff4e00"/>
<rect x="801.10" y="89.40" width="18.40" height="22.30" fill="#ff3800"/>
<rect x="819.10" y="89.40" width="18.40" height="22.30" fill="#ff1e00"/>
<rect x="837.10" y="89.40" width="9.40" height="22.30" fill="#ff3800"/>
<rect x="846.10" y="89.40" width="9.40" height="22.30" fill="#ff6800"/>
<rect x="855.10" y="89.40" width="9.40" height="22.30" fill="#ff1e00"/>
<rect x="864.10" y="89.40" width="18.40" height="22.30" fill="#ff3800"/>
<rect x="882.10" y="89.40" width="9.40" height="22.30" fill="#ff6800"/>
<rect x="891.10" y="89.40" width="9.40" height="22.30" fill="#ff7e00"/>
<rect x="900.10" y="89.40" width="9.40" height="22.30" fill="#ff4e00"/>
<rect x="909.10" y="89.40" width="9.40" height="22.30" fill="#ff7e00"/>
<rect x="918.10" y="89.40" width="18.40" height="22.30" fill="#ff6800"/>
<rect x="936.10" y="89.40" width="9.40" height="22.30" fill="#7dff7a"/>
<rect x="945.10" y="89.40" width="9.40" height="22.30" fill="#53ffa4"/>
<rect x="954.10" y="89.40" width="18.40" height="22.30" fill="#29ffce"/>
<rect x="972.10" y="89.40" width="9.40" height="22.30" fill="#16ffe1"/>
<rect x="981.10" y="89.40" width="18.40" height="22.30" fill="#00b0ff"/>
<rect x="999.10" y="89.40" width="9.40" height="22.30" fill="#0098ff"/>
<rect x="1008.10" y="89.40" width="27.40" height="22.30" fill="#0080ff"/>
<rect x="1035.10" y="89.40" width="9.40" height="22.30" fill="#004cff"/>
<rect x="1044.10" y="89.40" width="9.40" height="22.30" fill="#00009b"/>
<rect x="1053.10" y="89.40" width="9.40" height="22.30" fill="#004cff"/>
<rect x="1062.10" y="89.40" width="9.40" height="22.30" fill="#0000f1"/>
<rect x="1071.10" y="89.40" width="9.40" height="22.30" fill="#004cff"/>
<rect x="1080.10" y="89.40" width="36.40" height="22.30" fill="#000080"/>
<rect x="1116.10" y="89.40" width="9.40" height="22.30" fill="#00009b"/>
<rect x="1125.10" y="89.40" width="27.40" height="22.30" fill="#000080"/>
<rect x="1152.10" y="89.40" width="9.40" height="22.30" fill="#29ffce"/>
<rect x="1161.10" y="89.40" width="9.40" height="22.30" fill="#000080"/>
<rect x="1170.10" y="89.40" width="18.40" height="22.30" fill="#0000b6"/>
<rect x="747.10" y="111.30" width="9.40" height="22.30" fill="#ff1e00"/>
<rect x="756.10" y="111.30" width="18.40" height="22.30" fill="#ff4e00"/>
<rect x="774.10" y="111.30" width="45.40" height="22.30" fill="#ff3800"/>
<rect x="819.10" y="111.30" width="9.40" height="22.30" fill="#ff1e00"/>
<rect x="828.10" y="111.30" width="9.40" height="22.30" fill="#ff4e00"/>
<rect x="837.10" y="111.30" width="36.40" height="22.30" fill="#ff3800"/>
<rect x="873.10" y="111.30" width="18.40" height="22.30" fill="#ff6800"/>
<rect x="891.10" y="111.30" width="9.40" height="22.30" fill="#ffae00"/>
<rect x="900.10" y="111.30" width="9.40" height="22.30" fill="#ff6800"/>
<rect x="909.10" y="111.30" width="9.40" height="22.30" fill="#ff9400"/>
<rect x="918.10" y="111.30" width="9.40" height="22.30" fill="#ffc400"/>
<rect x="927.10" y="111.30" width="9.40" height="22.30" fill="#7dff7a"/>
<rect x="936.10" y="111.30" width="9.40" height="22.30" fill="#ffae00"/>
<rect x="945.10" y="111.30" width="9.40" height="22.30" fill="#ffde00"/>
<rect x="954.10" y="111.30" width="9.40" height="22.30" fill="#7dff7a"/>
<rect x="963.10" y="111.30" width="9.40" height="22.30" fill="#16ffe1"/>
<rect x="972.10" y="111.30" width="9.40" height="22.30" fill="#00e4f8"/>
<rect x="981.10" y="111.30" width="9.40" height="22.30" fill="#00ccff"/>
<rect x="990.10" y="111.30" width="9.40" height="22.30" fill="#00b0ff"/>
<rect x="999.10" y="111.30" width="9.40" height="22.30" fill="#0098ff"/>
<rect x="1008.10" y="111.30" width="9.40" height="22.30" fill="#0080ff"/>
<rect x="1017.10" y="111.30" width="9.40" height="22.30" fill="#0064ff"/>
<rect x="1026.10" y="111.30" width="9.40" height="22.30" fill="#004cff"/>
<rect x="1035.10" y="111.30" width="18.40" height="22.30" fill="#0080ff"/>
<rect x="1053.10" y="111.30" width="9.40" height="22.30" fill="#00b0ff"/>
<rect x="1062.10" y="111.30" width="9.40" height="22.30" fill="#0080ff"/>
<rect x="1071.10" y="111.30" width="9.40" height="22.30" fill="#000080"/>
<rect x="1080.10" y="111.30" width="9.40" height="22.30" fill="#004cff"/>
<rect x="1089.10" y="111.30" width="9.40" height="22.30" fill="#00e4f8"/>
<rect x="1098.10" y="111.30" width="27.40" height="22.30" fill="#000080"/>
<rect x="1125.10" y="111.30" width="9.40" height="22.30" fill="#0098ff"/>
<rect x="1134.10" y="111.30" width="9.40" height="22.30" fill="#000080"/>
<rect x="1143.10" y="111.30" width="9.40" height="22.30" fill="#00b0ff"/>
<rect x="1152.10" y="111.30" width="9.40" height="22.30" fill="#000080"/>
<rect x="1161.10" y="111.30" width="18.40" height="22.30" fill="#0000f1"/>
<rect x="1179.10" y="111.30" width="9.40" height="22.30" fill="#0000b6"/>
<rect x="747.10" y="133.20" width="9.40" height="22.30" fill="#f10800"/>
<rect x="756.10" y="133.20" width="9.40" height="22.30" fill="#ff4e00"/>
<rect x="765.10" y="133.20" width="18.40" height="22.30" fill="#ff3800"/>
<rect x="783.10" y="133.20" width="9.40" height="22.30" fill="#ff6800"/>
<rect x="792.10" y="133.20" width="9.40" height="22.30" fill="#ff4e00"/>
<rect x="801.10" y="133.20" width="9.40" height="22.30" fill="#ff3800"/>
<rect x="810.10" y="133.20" width="9.40" height="22.30" fill="#ff4e00"/>
<rect x="819.10" y="133.20" width="9.40" height="22.30" fill="#ff3800"/>
<rect x="828.10" y="133.20" width="9.40" height="22.30" fill="#ff1e00"/>
<rect x="837.10" y="133.20" width="9.40" height="22.30" fill="#ff3800"/>
<rect x="846.10" y="133.20" width="18.40" height="22.30" fill="#ff6800"/>
<rect x="864.10" y="133.20" width="9.40" height="22.30" fill="#ff7e00"/>
<rect x="873.10" y="133.20" width="9.40" height="22.30" fill="#ff6800"/>
<rect x="882.10" y="133.20" width="9.40" height="22.30" fill="#ff4e00"/>
<rect x="891.10" y="133.20" width="9.40" height="22.30" fill="#ffae00"/>
<rect x="900.10" y="133.20" width="9.40" height="22.30" fill="#ffc400"/>
<rect x="909.10" y="133.20" width="9.40" height="22.30" fill="#baff3c"/>
<rect x="918.10" y="133.20" width="9.40" height="22.30" fill="#ceff29"/>
<rect x="927.10" y="133.20" width="9.40" height="22.30" fill="#baff3c"/>
<rect x="936.10" y="133.20" width="18.40" height="22.30" fill="#a4ff53"/>
<rect x="954.10" y="133.20" width="9.40" height="22.30" fill="#7dff7a"/>
<rect x="963.10" y="133.20" width="9.40" height="22.30" fill="#66ff90"/>
<rect x="972.10" y="133.20" width="9.40" height="22.30" fill="#53ffa4"/>
<rect x="981.10" y="133.20" width="9.40" height="22.30" fill="#29ffce"/>
<rect x="990.10" y="133.20" width="9.40" height="22.30" fill="#16ffe1"/>
<rect x="999.10" y="133.20" width="9.40" height="22.30" fill="#00e4f8"/>
<rect x="1008.10" y="133.20" width="9.40" height="22.30" fill="#00ccff"/>
<rect x="1017.10" y="133.20" width="18.40" height="22.30" fill="#00b0ff"/>
<rect x="1035.10" y="133.20" width="27.40" height="22.30" fill="#0080ff"/>
<rect x="1062.10" y="133.20" width="9.40" height="22.30" fill="#0064ff"/>
<rect x="1071.10" y="133.20" width="18.40" height="22.30" fill="#0080ff"/>
<rect x="1089.10" y="133.20" width="9.40" height="22.30" fill="#0064ff"/>
<rect x="1098.10" y="133.20" width="27.40" height="22.30" fill="#000080"/>
<rect x="1125.10" y="133.20" width="9.40" height="22.30" fill="#0000b6"/>
<rect x="1134.10" y="133.20" width="9.40" height="22.30" fill="#000080"/>
<rect x="1143.10" y="133.20" width="9.40" height="22.30" fill="#00b0ff"/>
<rect x="1152.10" y="133.20" width="9.40" height="22.30" fill="#0000d6"/>
<rect x="1161.10" y="133.20" width="9.40" height="22.30" fill="#0000b6"/>
<rect x="1170.10" y="133.20" width="9.40" height="22.30" fill="#00009b"/>
<rect x="1179.10" y="133.20" width="9.40" height="22.30" fill="#0000b6"/>
<rect x="747.10" y="155.10" width="9.40" height="22.30" fill="#d60000"/>
<rect x="756.10" y="155.10" width="9.40" height="22.30" fill="#ff3800"/>
<rect x="765.10" y="155.10" width="9.40" height="22.30" fill="#ff1e00"/>
<rect x="774.10" y="155.10" width="9.40" height="22.30" fill="#ff3800"/>
<rect x="783.10" y="155.10" width="9.40" height="22.30" fill="#ff1e00"/>
<rect x="792.10" y="155.10" width="27.40" height="22.30" fill="#ff3800"/>
<rect x="819.10" y="155.10" width="9.40" height="22.30" fill="#ff1e00"/>
<rect x="828.10" y="155.10" width="18.40" height="22.30" fill="#ff3800"/>
<rect x="846.10" y="155.10" width="9.40" height="22.30" fill="#ff1e00"/>
<rect x="855.10" y="155.10" width="18.40" height="22.30" fill="#ff3800"/>
<rect x="873.10" y="155.10" width="9.40" height="22.30" fill="#ff4e00"/>
<rect x="882.10" y="155.10" width="9.40" height="22.30" fill="#ff9400"/>
<rect x="891.10" y="155.10" width="9.40" height="22.30" fill="#ff7e00"/>
<rect x="900.10" y="155.10" width="9.40" height="22.30" fill="#ff3800"/>
<rect x="909.10" y="155.10" width="9.40" height="22.30" fill="#ffae00"/>
<rect x="918.10" y="155.10" width="9.40" height="22.30" fill="#ceff29"/>
<rect x="927.10" y="155.10" width="9.40" height="22.30" fill="#baff3c"/>
<rect x="936.10" y="155.10" width="9.40" height="22.30" fill="#a4ff53"/>
<rect x="945.10" y="155.10" width="9.40" height="22.30" fill="#90ff66"/>
<rect x="954.10" y="155.10" width="9.40" height="22.30" fill="#7dff7a"/>
<rect x="963.10" y="155.10" width="9.40" height="22.30" fill="#53ffa4"/>
<rect x="972.10" y="155.10" width="9.40" height="22.30" fill="#3cffba"/>
<rect x="981.10" y="155.10" width="18.40" height="22.30" fill="#29ffce"/>
<rect x="999.10" y="155.10" width="18.40" height="22.30" fill="#00e4f8"/>
<rect x="1017.10" y="155.10" width="9.40" height="22.30" fill="#00ccff"/>
<rect x="1026.10" y="155.10" width="18.40" height="22.30" fill="#0080ff"/>
<rect x="1044.10" y="155.10" width="18.40" height="22.30" fill="#0064ff"/>
<rect x="1062.10" y="155.10" width="9.40" height="22.30" fill="#004cff"/>
<rect x="1071.10" y="155.10" width="9.40" height="22.30" fill="#0064ff"/>
<rect x="1080.10" y="155.10" width="9.40" height="22.30" fill="#0018ff"/>
<rect x="1089.10" y="155.10" width="9.40" height="22.30" fill="#0000ff"/>
<rect x="1098.10" y="155.10" width="9.40" height="22.30" fill="#0080ff"/>
<rect x="1107.10" y="155.10" width="9.40" height="22.30" fill="#0000b6"/>
<rect x="1116.10" y="155.10" width="9.40" height="22.30" fill="#0018ff"/>
<rect x="1125.10" y="155.10" width="18.40" height="22.30" fill="#00009b"/>
<rect x="1143.10" y="155.10" width="27.40" height="22.30" fill="#000080"/>
<rect x="1170.10" y="155.10" width="9.40" height="22.30" fill="#00009b"/>
<rect x="1179.10" y="155.10" width="9.40" height="22.30" fill="#0000b6"/>
<rect x="747.10" y="177.00" width="9.40" height="22.30" fill="#d60000"/>
<rect x="756.10" y="177.00" width="9.40" height="22.30" fill="#ff1e00"/>
<rect x="765.10" y="177.00" width="18.40" height="22.30" fill="#f10800"/>
<rect x="783.10" y="177.00" width="9.40" height="22.30" fill="#ff1e00"/>
<rect x="792.10" y="177.00" width="9.40" height="22.30" fill="#ff3800"/>
<rect x="801.10" y="177.00" width="9.40" height="22.30" fill="#ff1e00"/>
<rect x="810.10" y="177.00" width="9.40" height="22.30" fill="#ff6800"/>
<rect x="819.10" y="177.00" width="18.40" height="22.30" fill="#ff3800"/>
<rect x="837.10" y="177.00" width="9.40" height="22.30" fill="#ff1e00"/>
<rect x="846.10" y="177.00" width="9.40" height="22.30" fill="#ff4e00"/>
<rect x="855.10" y="177.00" width="27.40" height="22.30" fill="#ff3800"/>
<rect x="882.10" y="177.00" width="9.40" height="22.30" fill="#ff6800"/>
<rect x="891.10" y="177.00" width="9.40" height="22.30" fill="#ff7e00"/>
<rect x="900.10" y="177.00" width="9.40" height="22.30" fill="#ff9400"/>
<rect x="909.10" y="177.00" width="9.40" height="22.30" fill="#ffc400"/>
<rect x="918.10" y="177.00" width="9.40" height="22.30" fill="#ff6800"/>
<rect x="927.10" y="177.00" width="9.40" height="22.30" fill="#e4ff13"/>
<rect x="936.10" y="177.00" width="9.40" height="22.30" fill="#ff7e00"/>
<rect x="945.10" y="177.00" width="9.40" height="22.30" fill="#ceff29"/>
<rect x="954.10" y="177.00" width="9.40" height="22.30" fill="#a4ff53"/>
<rect x="963.10" y="177.00" width="9.40" height="22.30" fill="#90ff66"/>
<rect x="972.10" y="177.00" width="9.40" height="22.30" fill="#7dff7a"/>
<rect x="981.10" y="177.00" width="9.40" height="22.30" fill="#66ff90"/>
<rect x="990.10" y="177.00" width="9.40" height="22.30" fill="#53ffa4"/>
<rect x="999.10" y="177.00" width="9.40" height="22.30" fill="#29ffce"/>
<rect x="1008.10" y="177.00" width="9.40" height="22.30" fill="#16ffe1"/>
<rect x="1017.10" y="177.00" width="9.40" height="22.30" fill="#00e4f8"/>
<rect x="1026.10" y="177.00" width="9.40" height="22.30" fill="#00b0ff"/>
<rect x="1035.10" y="177.00" width="9.40" height="22.30" fill="#0080ff"/>
<rect x="1044.10" y="177.00" width="9.40" height="22.30" fill="#0064ff"/>
<rect x="1053.10" y="177.00" width="18.40" height="22.30" fill="#004cff"/>
<rect x="1071.10" y="177.00" width="9.40" height="22.30" fill="#0000f1"/>
<rect x="1080.10" y="177.00" width="9.40" height="22.30" fill="#0098ff"/>
<rect x="1089.10" y="177.00" width="27.40" height="22.30" fill="#00b0ff"/>
<rect x="1116.10" y="177.00" width="9.40" height="22.30" fill="#0080ff"/>
<rect x="1125.10" y="177.00" width="9.40" height="22.30" fill="#0000f1"/>
<rect x="1134.10" y="177.00" width="9.40" height="22.30" fill="#00e4f8"/>
<rect x="1143.10" y="177.00" width="9.40" height="22.30" fill="#0080ff"/>
<rect x="1152.10" y="177.00" width="9.40" height="22.30" fill="#004cff"/>
<rect x="1161.10" y="177.00" width="9.40" height="22.30" fill="#0000b6"/>
<rect x="1170.10" y="177.00" width="9.40" height="22.30" fill="#0018ff"/>
<rect x="1179.10" y="177.00" width="9.40" height="22.30" fill="#0000d6"/>
<rect x="747.10" y="198.90" width="9.40" height="22.30" fill="#b60000"/>
<rect x="756.10" y="198.90" width="36.40" height="22.30" fill="#d60000"/>
<rect x="792.10" y="198.90" width="9.40" height="22.30" fill="#ff1e00"/>
<rect x="801.10" y="198.90" width="18.40" height="22.30" fill="#f10800"/>
<rect x="819.10" y="198.90" width="9.40" height="22.30" fill="#ff4e00"/>
<rect x="828.10" y="198.90" width="27.40" height="22.30" fill="#ff3800"/>
<rect x="855.10" y="198.90" width="36.40" height="22.30" fill="#ff4e00"/>
<rect x="891.10" y="198.90" width="18.40" height="22.30" fill="#ff6800"/>
<rect x="909.10" y="198.90" width="9.40" height="22.30" fill="#ff9400"/>
<rect x="918.10" y="198.90" width="9.40" height="22.30" fill="#ffae00"/>
<rect x="927.10" y="198.90" width="9.40" height="22.30" fill="#ffde00"/>
<rect x="936.10" y="198.90" width="9.40" height="22.30" fill="#e4ff13"/>
<rect x="945.10" y="198.90" width="9.40" height="22.30" fill="#ceff29"/>
<rect x="954.10" y="198.90" width="9.40" height="22.30" fill="#baff3c"/>
<rect x="963.10" y="198.90" width="9.40" height="22.30" fill="#a4ff53"/>
<rect x="972.10" y="198.90" width="9.40" height="22.30" fill="#90ff66"/>
<rect x="981.10" y="198.90" width="9.40" height="22.30" fill="#7dff7a"/>
<rect x="990.10" y="198.90" width="9.40" height="22.30" fill="#66ff90"/>
<rect x="999.10" y="198.90" width="9.40" height="22.30" fill="#53ffa4"/>
<rect x="1008.10" y="198.90" width="9.40" height="22.30" fill="#3cffba"/>
<rect x="1017.10" y="198.90" width="9.40" height="22.30" fill="#29ffce"/>
<rect x="1026.10" y="198.90" width="9.40" height="22.30" fill="#00e4f8"/>
<rect x="1035.10" y="198.90" width="9.40" height="22.30" fill="#00b0ff"/>
<rect x="1044.10" y="198.90" width="9.40" height="22.30" fill="#0080ff"/>
<rect x="1053.10" y="198.90" width="9.40" height="22.30" fill="#00ccff"/>
<rect x="1062.10" y="198.90" width="9.40" height="22.30" fill="#00e4f8"/>
<rect x="1071.10" y="198.90" width="9.40" height="22.30" fill="#16ffe1"/>
<rect x="1080.10" y="198.90" width="9.40" height="22.30" fill="#00ccff"/>
<rect x="1089.10" y="198.90" width="18.40" height="22.30" fill="#0080ff"/>
<rect x="1107.10" y="198.90" width="9.40" height="22.30" fill="#00e4f8"/>
<rect x="1116.10" y="198.90" width="9.40" height="22.30" fill="#00b0ff"/>
<rect x="1125.10" y="198.90" width="9.40" height="22.30" fill="#00e4f8"/>
<rect x="1134.10" y="198.90" width="9.40" height="22.30" fill="#0000f1"/>
<rect x="1143.10" y="198.90" width="9.40" height="22.30" fill="#0098ff"/>
<rect x="1152.10" y="198.90" width="9.40" height="22.30" fill="#00ccff"/>
<rect x="1161.10" y="198.90" width="9.40" height="22.30" fill="#0000ff"/>
<rect x="1170.10" y="198.90" width="9.40" height="22.30" fill="#00ccff"/>
<rect x="1179.10" y="198.90" width="9.40" height="22.30" fill="#7dff7a"/>
<rect x="747.10" y="220.80" width="9.40" height="22.30" fill="#9b0000"/>
<rect x="756.10" y="220.80" width="36.40" height="22.30" fill="#b60000"/>
<rect x="792.10" y="220.80" width="36.40" height="22.30" fill="#d60000"/>
<rect x="828.10" y="220.80" width="18.40" height="22.30" fill="#f10800"/>
<rect x="846.10" y="220.80" width="18.40" height="22.30" fill="#ff1e00"/>
<rect x="864.10" y="220.80" width="18.40" height="22.30" fill="#ff4e00"/>
<rect x="882.10" y="220.80" width="45.40" height="22.30" fill="#ff3800"/>
<rect x="927.10" y="220.80" width="9.40" height="22.30" fill="#ff4e00"/>
<rect x="936.10" y="220.80" width="9.40" height="22.30" fill="#ff9400"/>
<rect x="945.10" y="220.80" width="9.40" height="22.30" fill="#ffae00"/>
<rect x="954.10" y="220.80" width="9.40" height="22.30" fill="#ffc400"/>
<rect x="963.10" y="220.80" width="9.40" height="22.30" fill="#f8f500"/>
<rect x="972.10" y="220.80" width="9.40" height="22.30" fill="#e4ff13"/>
<rect x="981.10" y="220.80" width="9.40" height="22.30" fill="#ceff29"/>
<rect x="990.10" y="220.80" width="9.40" height="22.30" fill="#baff3c"/>
<rect x="999.10" y="220.80" width="9.40" height="22.30" fill="#a4ff53"/>
<rect x="1008.10" y="220.80" width="9.40" height="22.30" fill="#90ff66"/>
<rect x="1017.10" y="220.80" width="9.40" height="22.30" fill="#7dff7a"/>
<rect x="1026.10" y="220.80" width="9.40" height="22.30" fill="#66ff90"/>
<rect x="1035.10" y="220.80" width="9.40" height="22.30" fill="#53ffa4"/>
<rect x="1044.10" y="220.80" width="18.40" height="22.30" fill="#3cffba"/>
<rect x="1062.10" y="220.80" width="9.40" height="22.30" fill="#29ffce"/>
<rect x="1071.10" y="220.80" width="9.40" height="22.30" fill="#00ccff"/>
<rect x="1080.10" y="220.80" width="27.40" height="22.30" fill="#29ffce"/>
<rect x="1107.10" y="220.80" width="9.40" height="22.30" fill="#00e4f8"/>
<rect x="1116.10" y="220.80" width="9.40" height="22.30" fill="#00ccff"/>
<rect x="1125.10" y="220.80" width="9.40" height="22.30" fill="#00e4f8"/>
<rect x="1134.10" y="220.80" width="9.40" height="22.30" fill="#0064ff"/>
<rect x="1143.10" y="220.80" width="9.40" height="22.30" fill="#00e4f8"/>
<rect x="1152.10" y="220.80" width="9.40" height="22.30" fill="#00ccff"/>
<rect x="1161.10" y="220.80" width="9.40" height="22.30" fill="#004cff"/>
<rect x="1170.10" y="220.80" width="9.40" height="22.30" fill="#0080ff"/>
<rect x="1179.10" y="220.80" width="9.40" height="22.30" fill="#004cff"/>
<rect x="747.10" y="242.70" width="9.40" height="22.30" fill="#800000"/>
<rect x="756.10" y="242.70" width="9.40" height="22.30" fill="#9b0000"/>
<rect x="765.10" y="242.70" width="18.40" height="22.30" fill="#800000"/>
<rect x="783.10" y="242.70" width="27.40" height="22.30" fill="#9b0000"/>
<rect x="810.10" y="242.70" width="45.40" height="22.30" fill="#b60000"/>
<rect x="855.10" y="242.70" width="9.40" height="22.30" fill="#d60000"/>
<rect x="864.10" y="242.70" width="9.40" height="22.30" fill="#b60000"/>
<rect x="873.10" y="242.70" width="27.40" height="22.30" fill="#d60000"/>
<rect x="900.10" y="242.70" width="9.40" height="22.30" fill="#f10800"/>
<rect x="909.10" y="242.70" width="18.40" height="22.30" fill="#ff1e00"/>
<rect x="927.10" y="242.70" width="81.40" height="22.30" fill="#ff3800"/>
<rect x="1008.10" y="242.70" width="9.40" height="22.30" fill="#ff6800"/>
<rect x="1017.10" y="242.70" width="9.40" height="22.30" fill="#ff7e00"/>
<rect x="1026.10" y="242.70" width="9.40" height="22.30" fill="#ff9400"/>
<rect x="1035.10" y="242.70" width="9.40" height="22.30" fill="#ffc400"/>
<rect x="1044.10" y="242.70" width="9.40" height="22.30" fill="#ffde00"/>
<rect x="1053.10" y="242.70" width="9.40" height="22.30" fill="#e4ff13"/>
<rect x="1062.10" y="242.70" width="36.40" height="22.30" fill="#ceff29"/>
<rect x="1098.10" y="242.70" width="18.40" height="22.30" fill="#baff3c"/>
<rect x="1116.10" y="242.70" width="27.40" height="22.30" fill="#a4ff53"/>
<rect x="1143.10" y="242.70" width="27.40" height="22.30" fill="#90ff66"/>
<rect x="1170.10" y="242.70" width="9.40" height="22.30" fill="#7dff7a"/>
<rect x="1179.10" y="242.70" width="9.40" height="22.30" fill="#3cffba"/>
<rect x="747.10" y="264.60" width="441.40" height="22.30" fill="#800000"/>
</g>
<path d="M1000.30 48.02L1005.40 56.82L1000.30 65.62L995.20 56.82Z" fill="#fff" stroke="#000" stroke-width="1.85" stroke-linejoin="miter"/>
<text class="a" x="1006.37" y="61.42" textLength="28.7" lengthAdjust="spacingAndGlyphs">100</text>
<text class="a" x="1043.23" y="61.42" textLength="25.8" lengthAdjust="spacingAndGlyphs">[%]</text>
<path d="M1007.10 69.87L1012.20 78.67L1007.10 87.47L1002.00 78.67Z" fill="#fff" stroke="#000" stroke-width="1.85" stroke-linejoin="miter"/>
<text class="a" x="1014.34" y="83.27" textLength="18.9" lengthAdjust="spacingAndGlyphs">95</text>
<text class="a" x="1040.84" y="83.27" textLength="25.9" lengthAdjust="spacingAndGlyphs">[%]</text>
<path d="M998.00 91.71L1003.10 100.51L998.00 109.31L992.90 100.51Z" fill="#fff" stroke="#000" stroke-width="1.85" stroke-linejoin="miter"/>
<text class="a" x="1005.25" y="105.11" textLength="18.9" lengthAdjust="spacingAndGlyphs">95</text>
<text class="a" x="1031.74" y="105.11" textLength="25.9" lengthAdjust="spacingAndGlyphs">[%]</text>
<path d="M1002.60 113.56L1007.70 122.36L1002.60 131.16L997.50 122.36Z" fill="#fff" stroke="#000" stroke-width="1.85" stroke-linejoin="miter"/>
<text class="a" x="1008.66" y="126.96" textLength="28.7" lengthAdjust="spacingAndGlyphs">100</text>
<text class="a" x="1045.53" y="126.96" textLength="25.8" lengthAdjust="spacingAndGlyphs">[%]</text>
<path d="M992.60 135.40L997.70 144.20L992.60 153.00L987.50 144.20Z" fill="#fff" stroke="#000" stroke-width="1.85" stroke-linejoin="miter"/>
<text class="a" x="998.66" y="148.80" textLength="28.7" lengthAdjust="spacingAndGlyphs">100</text>
<text class="a" x="1035.53" y="148.80" textLength="25.8" lengthAdjust="spacingAndGlyphs">[%]</text>
<path d="M985.80 157.25L990.90 166.05L985.80 174.85L980.70 166.05Z" fill="#fff" stroke="#000" stroke-width="1.85" stroke-linejoin="miter"/>
<text class="a" x="991.87" y="170.65" textLength="28.7" lengthAdjust="spacingAndGlyphs">100</text>
<text class="a" x="1028.73" y="170.65" textLength="25.8" lengthAdjust="spacingAndGlyphs">[%]</text>
<path d="M990.80 179.10L995.90 187.90L990.80 196.70L985.70 187.90Z" fill="#fff" stroke="#000" stroke-width="1.85" stroke-linejoin="miter"/>
<text class="a" x="996.87" y="192.50" textLength="28.7" lengthAdjust="spacingAndGlyphs">100</text>
<text class="a" x="1033.73" y="192.50" textLength="25.8" lengthAdjust="spacingAndGlyphs">[%]</text>
<path d="M990.40 200.94L995.50 209.74L990.40 218.54L985.30 209.74Z" fill="#fff" stroke="#000" stroke-width="1.85" stroke-linejoin="miter"/>
<text class="a" x="996.47" y="214.34" textLength="28.7" lengthAdjust="spacingAndGlyphs">100</text>
<text class="a" x="1033.34" y="214.34" textLength="25.8" lengthAdjust="spacingAndGlyphs">[%]</text>
<path d="M1018.40 222.79L1023.50 231.59L1018.40 240.39L1013.30 231.59Z" fill="#fff" stroke="#000" stroke-width="1.85" stroke-linejoin="miter"/>
<text class="a" x="1024.46" y="236.19" textLength="28.7" lengthAdjust="spacingAndGlyphs">100</text>
<text class="a" x="1061.34" y="236.19" textLength="25.8" lengthAdjust="spacingAndGlyphs">[%]</text>
<path d="M1078.00 244.63L1083.10 253.43L1078.00 262.23L1072.90 253.43Z" fill="#fff" stroke="#000" stroke-width="1.85" stroke-linejoin="miter"/>
<text class="a" x="1084.06" y="258.03" textLength="28.7" lengthAdjust="spacingAndGlyphs">100</text>
<text class="a" x="1120.93" y="258.03" textLength="25.8" lengthAdjust="spacingAndGlyphs">[%]</text>
<rect x="747.90" y="45.90" width="440.00" height="240.30" fill="none" stroke="#000" stroke-width="1.6"/>
<line x1="747.90" y1="286.20" x2="747.90" y2="293.90" stroke="#000" stroke-width="1.6"/>
<text class="t" x="746.85" y="316.00" text-anchor="middle" textLength="11.2" lengthAdjust="spacingAndGlyphs">0</text>
<line x1="837.70" y1="286.20" x2="837.70" y2="293.90" stroke="#000" stroke-width="1.6"/>
<text class="t" x="836.20" y="316.00" text-anchor="middle" textLength="22.4" lengthAdjust="spacingAndGlyphs">10</text>
<line x1="927.49" y1="286.20" x2="927.49" y2="293.90" stroke="#000" stroke-width="1.6"/>
<text class="t" x="925.99" y="316.00" text-anchor="middle" textLength="22.4" lengthAdjust="spacingAndGlyphs">20</text>
<line x1="1017.29" y1="286.20" x2="1017.29" y2="293.90" stroke="#000" stroke-width="1.6"/>
<text class="t" x="1015.79" y="316.00" text-anchor="middle" textLength="22.4" lengthAdjust="spacingAndGlyphs">30</text>
<line x1="1107.08" y1="286.20" x2="1107.08" y2="293.90" stroke="#000" stroke-width="1.6"/>
<text class="t" x="1105.58" y="316.00" text-anchor="middle" textLength="22.4" lengthAdjust="spacingAndGlyphs">40</text>
<line x1="740.20" y1="275.28" x2="747.90" y2="275.28" stroke="#000" stroke-width="1.6"/>
<text class="t" x="731.90" y="282.88" text-anchor="end" textLength="10.9" lengthAdjust="spacingAndGlyphs">0</text>
<line x1="740.20" y1="231.59" x2="747.90" y2="231.59" stroke="#000" stroke-width="1.6"/>
<text class="t" x="731.90" y="239.19" text-anchor="end" textLength="32.8" lengthAdjust="spacingAndGlyphs">100</text>
<line x1="740.20" y1="187.90" x2="747.90" y2="187.90" stroke="#000" stroke-width="1.6"/>
<text class="t" x="731.90" y="195.50" text-anchor="end" textLength="32.8" lengthAdjust="spacingAndGlyphs">200</text>
<line x1="740.20" y1="144.20" x2="747.90" y2="144.20" stroke="#000" stroke-width="1.6"/>
<text class="t" x="731.90" y="151.80" text-anchor="end" textLength="32.8" lengthAdjust="spacingAndGlyphs">300</text>
<line x1="740.20" y1="100.51" x2="747.90" y2="100.51" stroke="#000" stroke-width="1.6"/>
<text class="t" x="731.90" y="108.11" text-anchor="end" textLength="32.8" lengthAdjust="spacingAndGlyphs">400</text>
<line x1="740.20" y1="56.82" x2="747.90" y2="56.82" stroke="#000" stroke-width="1.6"/>
<text class="t" x="731.90" y="64.42" text-anchor="end" textLength="32.8" lengthAdjust="spacingAndGlyphs">500</text>
<text class="l" x="911.82" y="344.30" textLength="32.4" lengthAdjust="spacingAndGlyphs">BO</text>
<text class="l" x="950.08" y="344.30" textLength="48.3" lengthAdjust="spacingAndGlyphs">steps</text>
<text class="l" x="1005.83" y="344.30" textLength="7.4" lengthAdjust="spacingAndGlyphs"><tspan font-style="italic">t</tspan></text>
<text class="s" x="1014.01" y="347.30" textLength="8.4" lengthAdjust="spacingAndGlyphs">b</text>
<g transform="translate(685.30 166.05) rotate(-90)">
<text class="l" x="-126.07" y="0.00" textLength="93.8" lengthAdjust="spacingAndGlyphs">Maximum</text>
<text class="l" x="-24.88" y="0.00" textLength="32.6" lengthAdjust="spacingAndGlyphs">GD</text>
<text class="l" x="11.06" y="0.00" textLength="86.1" lengthAdjust="spacingAndGlyphs">iteration</text>
<text class="l" x="104.05" y="0.00" textLength="15.2" lengthAdjust="spacingAndGlyphs"><tspan font-style="italic">T</tspan></text>
<text class="s" x="117.19" y="3.20" textLength="7.8" lengthAdjust="spacingAndGlyphs">g</text>
</g>
<text class="ti" x="751.05" y="33.90" textLength="37.8" lengthAdjust="spacingAndGlyphs">(B)</text>
<text class="ti" x="798.10" y="33.90" textLength="133.3" lengthAdjust="spacingAndGlyphs">Logarithmic</text>
<text class="ti" x="941.40" y="33.90" textLength="85.7" lengthAdjust="spacingAndGlyphs">training</text>
<text class="ti" x="1036.10" y="33.90" textLength="52.9" lengthAdjust="spacingAndGlyphs">error</text>
<text class="ti" x="1099.10" y="33.90" textLength="24.4" lengthAdjust="spacingAndGlyphs">(<tspan font-style="italic">β</tspan></text>
<text class="ti" x="1130.90" y="33.90" textLength="19.0" lengthAdjust="spacingAndGlyphs">=</text>
<text class="ti" x="1159.60" y="33.90" textLength="20.3" lengthAdjust="spacingAndGlyphs">5)</text>
<rect x="1215.10" y="45.90" width="12.00" height="240.30" fill="url(#jet)" stroke="#000" stroke-width="1.6"/>
<line x1="1227.10" y1="113.73" x2="1234.80" y2="113.73" stroke="#000" stroke-width="1.6"/>
<text class="t" x="1241.70" y="121.33" textLength="14.6" lengthAdjust="spacingAndGlyphs">−</text>
<text class="t" x="1256.80" y="121.33" textLength="21.9" lengthAdjust="spacingAndGlyphs">10</text>
<line x1="1227.10" y1="196.61" x2="1234.80" y2="196.61" stroke="#000" stroke-width="1.6"/>
<text class="t" x="1241.70" y="204.21" textLength="14.6" lengthAdjust="spacingAndGlyphs">−</text>
<text class="t" x="1256.80" y="204.21" textLength="21.9" lengthAdjust="spacingAndGlyphs">20</text>
<line x1="1227.10" y1="279.49" x2="1234.80" y2="279.49" stroke="#000" stroke-width="1.6"/>
<text class="t" x="1241.70" y="287.09" textLength="14.6" lengthAdjust="spacingAndGlyphs">−</text>
<text class="t" x="1256.80" y="287.09" textLength="21.9" lengthAdjust="spacingAndGlyphs">30</text>
<g transform="translate(1305.70 166.05) rotate(-90)">
<text class="l" x="-42.35" y="0.00" textLength="23.9" lengthAdjust="spacingAndGlyphs">log</text>
<text class="l" x="-11.40" y="0.00" textLength="16.2" lengthAdjust="spacingAndGlyphs"><tspan font-style="italic">E</tspan></text>
<text class="s" x="5.92" y="3.20" textLength="6.2" lengthAdjust="spacingAndGlyphs">t</text>
<text class="l" x="14.98" y="0.00" textLength="25.2" lengthAdjust="spacingAndGlyphs">(<tspan font-style="italic">θ</tspan>)</text>
</g>
<g shape-rendering="crispEdges">
<rect x="87.00" y="406.30" width="9.40" height="22.30" fill="#8d0000"/>
<rect x="96.00" y="406.30" width="9.40" height="22.30" fill="#9b0000"/>
<rect x="105.00" y="406.30" width="45.40" height="22.30" fill="#ffc400"/>
<rect x="150.00" y="406.30" width="9.40" height="22.30" fill="#ffde00"/>
<rect x="159.00" y="406.30" width="9.40" height="22.30" fill="#f8f500"/>
<rect x="168.00" y="406.30" width="18.40" height="22.30" fill="#e4ff13"/>
<rect x="186.00" y="406.30" width="18.40" height="22.30" fill="#ceff29"/>
<rect x="204.00" y="406.30" width="9.40" height="22.30" fill="#baff3c"/>
<rect x="213.00" y="406.30" width="36.40" height="22.30" fill="#a4ff53"/>
<rect x="249.00" y="406.30" width="9.40" height="22.30" fill="#90ff66"/>
<rect x="258.00" y="406.30" width="9.40" height="22.30" fill="#a4ff53"/>
<rect x="267.00" y="406.30" width="9.40" height="22.30" fill="#baff3c"/>
<rect x="276.00" y="406.30" width="9.40" height="22.30" fill="#ffde00"/>
<rect x="285.00" y="406.30" width="9.40" height="22.30" fill="#ffc400"/>
<rect x="294.00" y="406.30" width="9.40" height="22.30" fill="#ffae00"/>
<rect x="303.00" y="406.30" width="9.40" height="22.30" fill="#ff9400"/>
<rect x="312.00" y="406.30" width="9.40" height="22.30" fill="#ff4e00"/>
<rect x="321.00" y="406.30" width="9.40" height="22.30" fill="#ff3800"/>
<rect x="330.00" y="406.30" width="9.40" height="22.30" fill="#ff1e00"/>
<rect x="339.00" y="406.30" width="9.40" height="22.30" fill="#f10800"/>
<rect x="348.00" y="406.30" width="9.40" height="22.30" fill="#d60000"/>
<rect x="357.00" y="406.30" width="18.40" height="22.30" fill="#b60000"/>
<rect x="375.00" y="406.30" width="153.40" height="22.30" fill="#9b0000"/>
<rect x="87.00" y="428.20" width="9.40" height="22.30" fill="#8d0000"/>
<rect x="96.00" y="428.20" width="9.40" height="22.30" fill="#9b0000"/>
<rect x="105.00" y="428.20" width="9.40" height="22.30" fill="#ff9400"/>
<rect x="114.00" y="428.20" width="9.40" height="22.30" fill="#ffc400"/>
<rect x="123.00" y="428.20" width="9.40" height="22.30" fill="#ffae00"/>
<rect x="132.00" y="428.20" width="27.40" height="22.30" fill="#ffc400"/>
<rect x="159.00" y="428.20" width="9.40" height="22.30" fill="#ffde00"/>
<rect x="168.00" y="428.20" width="9.40" height="22.30" fill="#f8f500"/>
<rect x="177.00" y="428.20" width="9.40" height="22.30" fill="#e4ff13"/>
<rect x="186.00" y="428.20" width="27.40" height="22.30" fill="#ceff29"/>
<rect x="213.00" y="428.20" width="9.40" height="22.30" fill="#baff3c"/>
<rect x="222.00" y="428.20" width="45.40" height="22.30" fill="#a4ff53"/>
<rect x="267.00" y="428.20" width="9.40" height="22.30" fill="#baff3c"/>
<rect x="276.00" y="428.20" width="9.40" height="22.30" fill="#ceff29"/>
<rect x="285.00" y="428.20" width="9.40" height="22.30" fill="#e4ff13"/>
<rect x="294.00" y="428.20" width="9.40" height="22.30" fill="#ffc400"/>
<rect x="303.00" y="428.20" width="9.40" height="22.30" fill="#ff9400"/>
<rect x="312.00" y="428.20" width="9.40" height="22.30" fill="#ff7e00"/>
<rect x="321.00" y="428.20" width="9.40" height="22.30" fill="#ff6800"/>
<rect x="330.00" y="428.20" width="9.40" height="22.30" fill="#f10800"/>
<rect x="339.00" y="428.20" width="9.40" height="22.30" fill="#d60000"/>
<rect x="348.00" y="428.20" width="9.40" height="22.30" fill="#b60000"/>
<rect x="357.00" y="428.20" width="171.40" height="22.30" fill="#9b0000"/>
<rect x="87.00" y="450.10" width="9.40" height="22.30" fill="#8d0000"/>
<rect x="96.00" y="450.10" width="9.40" height="22.30" fill="#9b0000"/>
<rect x="105.00" y="450.10" width="9.40" height="22.30" fill="#ff6800"/>
<rect x="114.00" y="450.10" width="18.40" height="22.30" fill="#ffc400"/>
<rect x="132.00" y="450.10" width="9.40" height="22.30" fill="#ffae00"/>
<rect x="141.00" y="450.10" width="18.40" height="22.30" fill="#ffc400"/>
<rect x="159.00" y="450.10" width="9.40" height="22.30" fill="#ffde00"/>
<rect x="168.00" y="450.10" width="9.40" height="22.30" fill="#f8f500"/>
<rect x="177.00" y="450.10" width="18.40" height="22.30" fill="#e4ff13"/>
<rect x="195.00" y="450.10" width="18.40" height="22.30" fill="#ceff29"/>
<rect x="213.00" y="450.10" width="9.40" height="22.30" fill="#baff3c"/>
<rect x="222.00" y="450.10" width="18.40" height="22.30" fill="#a4ff53"/>
<rect x="240.00" y="450.10" width="9.40" height="22.30" fill="#53ffa4"/>
<rect x="249.00" y="450.10" width="9.40" height="22.30" fill="#90ff66"/>
<rect x="258.00" y="450.10" width="9.40" height="22.30" fill="#66ff90"/>
<rect x="267.00" y="450.10" width="18.40" height="22.30" fill="#a4ff53"/>
<rect x="285.00" y="450.10" width="9.40" height="22.30" fill="#ceff29"/>
<rect x="294.00" y="450.10" width="9.40" height="22.30" fill="#f8f500"/>
<rect x="303.00" y="450.10" width="9.40" height="22.30" fill="#ffc400"/>
<rect x="312.00" y="450.10" width="9.40" height="22.30" fill="#ff3800"/>
<rect x="321.00" y="450.10" width="18.40" height="22.30" fill="#ff1e00"/>
<rect x="339.00" y="450.10" width="18.40" height="22.30" fill="#f10800"/>
<rect x="357.00" y="450.10" width="9.40" height="22.30" fill="#d60000"/>
<rect x="366.00" y="450.10" width="9.40" height="22.30" fill="#b60000"/>
<rect x="375.00" y="450.10" width="153.40" height="22.30" fill="#9b0000"/>
<rect x="87.00" y="472.00" width="9.40" height="22.30" fill="#8d0000"/>
<rect x="96.00" y="472.00" width="9.40" height="22.30" fill="#9b0000"/>
<rect x="105.00" y="472.00" width="9.40" height="22.30" fill="#ff1e00"/>
<rect x="114.00" y="472.00" width="18.40" height="22.30" fill="#ffc400"/>
<rect x="132.00" y="472.00" width="18.40" height="22.30" fill="#ffae00"/>
<rect x="150.00" y="472.00" width="9.40" height="22.30" fill="#ffc400"/>
<rect x="159.00" y="472.00" width="9.40" height="22.30" fill="#ffde00"/>
<rect x="168.00" y="472.00" width="18.40" height="22.30" fill="#f8f500"/>
<rect x="186.00" y="472.00" width="18.40" height="22.30" fill="#e4ff13"/>
<rect x="204.00" y="472.00" width="18.40" height="22.30" fill="#ceff29"/>
<rect x="222.00" y="472.00" width="9.40" height="22.30" fill="#baff3c"/>
<rect x="231.00" y="472.00" width="36.40" height="22.30" fill="#a4ff53"/>
<rect x="267.00" y="472.00" width="27.40" height="22.30" fill="#90ff66"/>
<rect x="294.00" y="472.00" width="9.40" height="22.30" fill="#29ffce"/>
<rect x="303.00" y="472.00" width="9.40" height="22.30" fill="#ff9400"/>
<rect x="312.00" y="472.00" width="9.40" height="22.30" fill="#ffae00"/>
<rect x="321.00" y="472.00" width="9.40" height="22.30" fill="#ff9400"/>
<rect x="330.00" y="472.00" width="9.40" height="22.30" fill="#ff3800"/>
<rect x="339.00" y="472.00" width="9.40" height="22.30" fill="#ff1e00"/>
<rect x="348.00" y="472.00" width="9.40" height="22.30" fill="#b60000"/>
<rect x="357.00" y="472.00" width="171.40" height="22.30" fill="#9b0000"/>
<rect x="87.00" y="493.90" width="9.40" height="22.30" fill="#8d0000"/>
<rect x="96.00" y="493.90" width="9.40" height="22.30" fill="#9b0000"/>
<rect x="105.00" y="493.90" width="9.40" height="22.30" fill="#f10800"/>
<rect x="114.00" y="493.90" width="9.40" height="22.30" fill="#ffae00"/>
<rect x="123.00" y="493.90" width="36.40" height="22.30" fill="#ffc400"/>
<rect x="159.00" y="493.90" width="18.40" height="22.30" fill="#ffde00"/>
<rect x="177.00" y="493.90" width="9.40" height="22.30" fill="#f8f500"/>
<rect x="186.00" y="493.90" width="18.40" height="22.30" fill="#e4ff13"/>
<rect x="204.00" y="493.90" width="18.40" height="22.30" fill="#ceff29"/>
<rect x="222.00" y="493.90" width="9.40" height="22.30" fill="#baff3c"/>
<rect x="231.00" y="493.90" width="45.40" height="22.30" fill="#a4ff53"/>
<rect x="276.00" y="493.90" width="9.40" height="22.30" fill="#baff3c"/>
<rect x="285.00" y="493.90" width="9.40" height="22.30" fill="#e4ff13"/>
<rect x="294.00" y="493.90" width="9.40" height="22.30" fill="#ffc400"/>
<rect x="303.00" y="493.90" width="18.40" height="22.30" fill="#ffae00"/>
<rect x="321.00" y="493.90" width="9.40" height="22.30" fill="#ff9400"/>
<rect x="330.00" y="493.90" width="9.40" height="22.30" fill="#ff3800"/>
<rect x="339.00" y="493.90" width="9.40" height="22.30" fill="#ff1e00"/>
<rect x="348.00" y="493.90" width="9.40" height="22.30" fill="#f10800"/>
<rect x="357.00" y="493.90" width="9.40" height="22.30" fill="#d60000"/>
<rect x="366.00" y="493.90" width="9.40" height="22.30" fill="#b60000"/>
<rect x="375.00" y="493.90" width="153.40" height="22.30" fill="#9b0000"/>
<rect x="87.00" y="515.80" width="9.40" height="22.30" fill="#8d0000"/>
<rect x="96.00" y="515.80" width="9.40" height="22.30" fill="#9b0000"/>
<rect x="105.00" y="515.80" width="9.40" height="22.30" fill="#b60000"/>
<rect x="114.00" y="515.80" width="9.40" height="22.30" fill="#ff4e00"/>
<rect x="123.00" y="515.80" width="45.40" height="22.30" fill="#ffc400"/>
<rect x="168.00" y="515.80" width="18.40" height="22.30" fill="#ffde00"/>
<rect x="186.00" y="515.80" width="18.40" height="22.30" fill="#f8f500"/>
<rect x="204.00" y="515.80" width="9.40" height="22.30" fill="#e4ff13"/>
<rect x="213.00" y="515.80" width="18.40" height="22.30" fill="#ceff29"/>
<rect x="231.00" y="515.80" width="9.40" height="22.30" fill="#baff3c"/>
<rect x="240.00" y="515.80" width="18.40" height="22.30" fill="#a4ff53"/>
<rect x="258.00" y="515.80" width="9.40" height="22.30" fill="#90ff66"/>
<rect x="267.00" y="515.80" width="9.40" height="22.30" fill="#a4ff53"/>
<rect x="276.00" y="515.80" width="9.40" height="22.30" fill="#baff3c"/>
<rect x="285.00" y="515.80" width="9.40" height="22.30" fill="#e4ff13"/>
<rect x="294.00" y="515.80" width="9.40" height="22.30" fill="#f8f500"/>
<rect x="303.00" y="515.80" width="18.40" height="22.30" fill="#ffde00"/>
<rect x="321.00" y="515.80" width="9.40" height="22.30" fill="#ff9400"/>
<rect x="330.00" y="515.80" width="9.40" height="22.30" fill="#ff4e00"/>
<rect x="339.00" y="515.80" width="9.40" height="22.30" fill="#ff3800"/>
<rect x="348.00" y="515.80" width="9.40" height="22.30" fill="#ff1e00"/>
<rect x="357.00" y="515.80" width="9.40" height="22.30" fill="#f10800"/>
<rect x="366.00" y="515.80" width="18.40" height="22.30" fill="#d60000"/>
<rect x="384.00" y="515.80" width="144.40" height="22.30" fill="#9b0000"/>
<rect x="87.00" y="537.70" width="18.40" height="22.30" fill="#8d0000"/>
<rect x="105.00" y="537.70" width="9.40" height="22.30" fill="#9b0000"/>
<rect x="114.00" y="537.70" width="9.40" height="22.30" fill="#d60000"/>
<rect x="123.00" y="537.70" width="9.40" height="22.30" fill="#ff4e00"/>
<rect x="132.00" y="537.70" width="9.40" height="22.30" fill="#ffc400"/>
<rect x="141.00" y="537.70" width="27.40" height="22.30" fill="#ffae00"/>
<rect x="168.00" y="537.70" width="18.40" height="22.30" fill="#ffc400"/>
<rect x="186.00" y="537.70" width="18.40" height="22.30" fill="#ffde00"/>
<rect x="204.00" y="537.70" width="18.40" height="22.30" fill="#f8f500"/>
<rect x="222.00" y="537.70" width="9.40" height="22.30" fill="#e4ff13"/>
<rect x="231.00" y="537.70" width="9.40" height="22.30" fill="#ceff29"/>
<rect x="240.00" y="537.70" width="18.40" height="22.30" fill="#baff3c"/>
<rect x="258.00" y="537.70" width="9.40" height="22.30" fill="#a4ff53"/>
<rect x="267.00" y="537.70" width="18.40" height="22.30" fill="#90ff66"/>
<rect x="285.00" y="537.70" width="9.40" height="22.30" fill="#7dff7a"/>
<rect x="294.00" y="537.70" width="9.40" height="22.30" fill="#90ff66"/>
<rect x="303.00" y="537.70" width="9.40" height="22.30" fill="#a4ff53"/>
<rect x="312.00" y="537.70" width="9.40" height="22.30" fill="#ceff29"/>
<rect x="321.00" y="537.70" width="9.40" height="22.30" fill="#f8f500"/>
<rect x="330.00" y="537.70" width="9.40" height="22.30" fill="#ffae00"/>
<rect x="339.00" y="537.70" width="9.40" height="22.30" fill="#ff9400"/>
<rect x="348.00" y="537.70" width="9.40" height="22.30" fill="#ff6800"/>
<rect x="357.00" y="537.70" width="9.40" height="22.30" fill="#ff1e00"/>
<rect x="366.00" y="537.70" width="18.40" height="22.30" fill="#f10800"/>
<rect x="384.00" y="537.70" width="9.40" height="22.30" fill="#d60000"/>
<rect x="393.00" y="537.70" width="135.40" height="22.30" fill="#9b0000"/>
<rect x="87.00" y="559.60" width="18.40" height="22.30" fill="#8d0000"/>
<rect x="105.00" y="559.60" width="9.40" height="22.30" fill="#9b0000"/>
<rect x="114.00" y="559.60" width="9.40" height="22.30" fill="#b60000"/>
<rect x="123.00" y="559.60" width="9.40" height="22.30" fill="#f10800"/>
<rect x="132.00" y="559.60" width="9.40" height="22.30" fill="#ff3800"/>
<rect x="141.00" y="559.60" width="63.40" height="22.30" fill="#ffc400"/>
<rect x="204.00" y="559.60" width="18.40" height="22.30" fill="#ffde00"/>
<rect x="222.00" y="559.60" width="18.40" height="22.30" fill="#f8f500"/>
<rect x="240.00" y="559.60" width="18.40" height="22.30" fill="#e4ff13"/>
<rect x="258.00" y="559.60" width="9.40" height="22.30" fill="#ceff29"/>
<rect x="267.00" y="559.60" width="18.40" height="22.30" fill="#baff3c"/>
<rect x="285.00" y="559.60" width="9.40" height="22.30" fill="#a4ff53"/>
<rect x="294.00" y="559.60" width="9.40" height="22.30" fill="#90ff66"/>
<rect x="303.00" y="559.60" width="9.40" height="22.30" fill="#7dff7a"/>
<rect x="312.00" y="559.60" width="9.40" height="22.30" fill="#66ff90"/>
<rect x="321.00" y="559.60" width="9.40" height="22.30" fill="#53ffa4"/>
<rect x="330.00" y="559.60" width="9.40" height="22.30" fill="#ceff29"/>
<rect x="339.00" y="559.60" width="9.40" height="22.30" fill="#f8f500"/>
<rect x="348.00" y="559.60" width="9.40" height="22.30" fill="#ffde00"/>
<rect x="357.00" y="559.60" width="9.40" height="22.30" fill="#ffc400"/>
<rect x="366.00" y="559.60" width="9.40" height="22.30" fill="#ff7e00"/>
<rect x="375.00" y="559.60" width="9.40" height="22.30" fill="#ff6800"/>
<rect x="384.00" y="559.60" width="9.40" height="22.30" fill="#f10800"/>
<rect x="393.00" y="559.60" width="9.40" height="22.30" fill="#ff1e00"/>
<rect x="402.00" y="559.60" width="18.40" height="22.30" fill="#b60000"/>
<rect x="420.00" y="559.60" width="9.40" height="22.30" fill="#f10800"/>
<rect x="429.00" y="559.60" width="9.40" height="22.30" fill="#b60000"/>
<rect x="438.00" y="559.60" width="9.40" height="22.30" fill="#9b0000"/>
<rect x="447.00" y="559.60" width="9.40" height="22.30" fill="#b60000"/>
<rect x="456.00" y="559.60" width="72.40" height="22.30" fill="#9b0000"/>
<rect x="87.00" y="581.50" width="27.40" height="22.30" fill="#8d0000"/>
<rect x="114.00" y="581.50" width="9.40" height="22.30" fill="#9b0000"/>
<rect x="123.00" y="581.50" width="9.40" height="22.30" fill="#b60000"/>
<rect x="132.00" y="581.50" width="9.40" height="22.30" fill="#d60000"/>
<rect x="141.00" y="581.50" width="9.40" height="22.30" fill="#f10800"/>
<rect x="150.00" y="581.50" width="9.40" height="22.30" fill="#ff1e00"/>
<rect x="159.00" y="581.50" width="9.40" height="22.30" fill="#ff4e00"/>
<rect x="168.00" y="581.50" width="9.40" height="22.30" fill="#ff9400"/>
<rect x="177.00" y="581.50" width="36.40" height="22.30" fill="#ffae00"/>
<rect x="213.00" y="581.50" width="36.40" height="22.30" fill="#ffc400"/>
<rect x="249.00" y="581.50" width="27.40" height="22.30" fill="#ffde00"/>
<rect x="276.00" y="581.50" width="18.40" height="22.30" fill="#f8f500"/>
<rect x="294.00" y="581.50" width="18.40" height="22.30" fill="#e4ff13"/>
<rect x="312.00" y="581.50" width="9.40" height="22.30" fill="#ceff29"/>
<rect x="321.00" y="581.50" width="9.40" height="22.30" fill="#baff3c"/>
<rect x="330.00" y="581.50" width="18.40" height="22.30" fill="#a4ff53"/>
<rect x="348.00" y="581.50" width="9.40" height="22.30" fill="#90ff66"/>
<rect x="357.00" y="581.50" width="9.40" height="22.30" fill="#7dff7a"/>
<rect x="366.00" y="581.50" width="18.40" height="22.30" fill="#66ff90"/>
<rect x="384.00" y="581.50" width="9.40" height="22.30" fill="#baff3c"/>
<rect x="393.00" y="581.50" width="9.40" height="22.30" fill="#a4ff53"/>
<rect x="402.00" y="581.50" width="9.40" height="22.30" fill="#baff3c"/>
<rect x="411.00" y="581.50" width="9.40" height="22.30" fill="#ffc400"/>
<rect x="420.00" y="581.50" width="9.40" height="22.30" fill="#ffae00"/>
<rect x="429.00" y="581.50" width="9.40" height="22.30" fill="#ff6800"/>
<rect x="438.00" y="581.50" width="9.40" height="22.30" fill="#f10800"/>
<rect x="447.00" y="581.50" width="9.40" height="22.30" fill="#ff1e00"/>
<rect x="456.00" y="581.50" width="9.40" height="22.30" fill="#f10800"/>
<rect x="465.00" y="581.50" width="27.40" height="22.30" fill="#b60000"/>
<rect x="492.00" y="581.50" width="36.40" height="22.30" fill="#9b0000"/>
<rect x="87.00" y="603.40" width="9.40" height="22.30" fill="#8d0000"/>
<rect x="96.00" y="603.40" width="72.40" height="22.30" fill="#9b0000"/>
<rect x="168.00" y="603.40" width="18.40" height="22.30" fill="#b60000"/>
<rect x="186.00" y="603.40" width="18.40" height="22.30" fill="#d60000"/>
<rect x="204.00" y="603.40" width="9.40" height="22.30" fill="#f10800"/>
<rect x="213.00" y="603.40" width="9.40" height="22.30" fill="#ff1e00"/>
<rect x="222.00" y="603.40" width="9.40" height="22.30" fill="#ff3800"/>
<rect x="231.00" y="603.40" width="9.40" height="22.30" fill="#ff4e00"/>
<rect x="240.00" y="603.40" width="9.40" height="22.30" fill="#ff6800"/>
<rect x="249.00" y="603.40" width="9.40" height="22.30" fill="#ff7e00"/>
<rect x="258.00" y="603.40" width="9.40" height="22.30" fill="#ff9400"/>
<rect x="267.00" y="603.40" width="18.40" height="22.30" fill="#ffae00"/>
<rect x="285.00" y="603.40" width="45.40" height="22.30" fill="#ffc400"/>
<rect x="330.00" y="603.40" width="45.40" height="22.30" fill="#ffde00"/>
<rect x="375.00" y="603.40" width="36.40" height="22.30" fill="#f8f500"/>
<rect x="411.00" y="603.40" width="27.40" height="22.30" fill="#e4ff13"/>
<rect x="438.00" y="603.40" width="27.40" height="22.30" fill="#ceff29"/>
<rect x="465.00" y="603.40" width="18.40" height="22.30" fill="#baff3c"/>
<rect x="483.00" y="603.40" width="18.40" height="22.30" fill="#a4ff53"/>
<rect x="501.00" y="603.40" width="9.40" height="22.30" fill="#90ff66"/>
<rect x="510.00" y="603.40" width="9.40" height="22.30" fill="#7dff7a"/>
<rect x="519.00" y="603.40" width="9.40" height="22.30" fill="#66ff90"/>
<rect x="87.00" y="625.30" width="9.40" height="22.30" fill="#8d0000"/>
<rect x="96.00" y="625.30" width="432.40" height="22.30" fill="#9b0000"/>
</g>
<path d="M234.40 408.72L239.50 417.52L234.40 426.32L229.30 417.52Z" fill="#fff" stroke="#000" stroke-width="1.85" stroke-linejoin="miter"/>
<text class="a" x="241.98" y="422.12" textLength="18.5" lengthAdjust="spacingAndGlyphs">40</text>
<text class="a" x="268.13" y="422.12" textLength="25.9" lengthAdjust="spacingAndGlyphs">[%]</text>
<path d="M241.90 430.57L247.00 439.37L241.90 448.17L236.80 439.37Z" fill="#fff" stroke="#000" stroke-width="1.85" stroke-linejoin="miter"/>
<text class="a" x="249.14" y="443.97" textLength="18.8" lengthAdjust="spacingAndGlyphs">50</text>
<text class="a" x="275.63" y="443.97" textLength="25.9" lengthAdjust="spacingAndGlyphs">[%]</text>
<path d="M271.20 452.41L276.30 461.21L271.20 470.01L266.10 461.21Z" fill="#fff" stroke="#000" stroke-width="1.85" stroke-linejoin="miter"/>
<text class="a" x="278.78" y="465.81" textLength="18.6" lengthAdjust="spacingAndGlyphs">45</text>
<text class="a" x="304.93" y="465.81" textLength="25.9" lengthAdjust="spacingAndGlyphs">[%]</text>
<path d="M245.50 474.26L250.60 483.06L245.50 491.86L240.40 483.06Z" fill="#fff" stroke="#000" stroke-width="1.85" stroke-linejoin="miter"/>
<text class="a" x="252.75" y="487.66" textLength="18.8" lengthAdjust="spacingAndGlyphs">50</text>
<text class="a" x="279.23" y="487.66" textLength="25.9" lengthAdjust="spacingAndGlyphs">[%]</text>
<path d="M261.10 496.10L266.20 504.90L261.10 513.70L256.00 504.90Z" fill="#fff" stroke="#000" stroke-width="1.85" stroke-linejoin="miter"/>
<text class="a" x="268.68" y="509.50" textLength="18.6" lengthAdjust="spacingAndGlyphs">45</text>
<text class="a" x="294.83" y="509.50" textLength="25.9" lengthAdjust="spacingAndGlyphs">[%]</text>
<path d="M268.80 517.95L273.90 526.75L268.80 535.55L263.70 526.75Z" fill="#fff" stroke="#000" stroke-width="1.85" stroke-linejoin="miter"/>
<text class="a" x="276.05" y="531.35" textLength="18.9" lengthAdjust="spacingAndGlyphs">55</text>
<text class="a" x="302.53" y="531.35" textLength="25.9" lengthAdjust="spacingAndGlyphs">[%]</text>
<path d="M274.00 539.80L279.10 548.60L274.00 557.40L268.90 548.60Z" fill="#fff" stroke="#000" stroke-width="1.85" stroke-linejoin="miter"/>
<text class="a" x="281.25" y="553.20" textLength="18.8" lengthAdjust="spacingAndGlyphs">60</text>
<text class="a" x="307.73" y="553.20" textLength="25.9" lengthAdjust="spacingAndGlyphs">[%]</text>
<path d="M301.50 561.64L306.60 570.44L301.50 579.24L296.40 570.44Z" fill="#fff" stroke="#000" stroke-width="1.85" stroke-linejoin="miter"/>
<text class="a" x="308.75" y="575.04" textLength="18.9" lengthAdjust="spacingAndGlyphs">65</text>
<text class="a" x="335.23" y="575.04" textLength="25.9" lengthAdjust="spacingAndGlyphs">[%]</text>
<path d="M332.20 583.49L337.30 592.29L332.20 601.09L327.10 592.29Z" fill="#fff" stroke="#000" stroke-width="1.85" stroke-linejoin="miter"/>
<text class="a" x="339.44" y="596.89" textLength="18.8" lengthAdjust="spacingAndGlyphs">60</text>
<text class="a" x="365.93" y="596.89" textLength="25.9" lengthAdjust="spacingAndGlyphs">[%]</text>
<path d="M425.30 605.33L430.40 614.13L425.30 622.93L420.20 614.13Z" fill="#fff" stroke="#000" stroke-width="1.85" stroke-linejoin="miter"/>
<text class="a" x="432.73" y="618.73" textLength="18.6" lengthAdjust="spacingAndGlyphs">70</text>
<text class="a" x="459.03" y="618.73" textLength="25.9" lengthAdjust="spacingAndGlyphs">[%]</text>
<rect x="87.80" y="406.60" width="440.00" height="240.30" fill="none" stroke="#000" stroke-width="1.6"/>
<line x1="87.80" y1="646.90" x2="87.80" y2="654.60" stroke="#000" stroke-width="1.6"/>
<text class="t" x="86.75" y="676.70" text-anchor="middle" textLength="11.2" lengthAdjust="spacingAndGlyphs">0</text>
<line x1="177.60" y1="646.90" x2="177.60" y2="654.60" stroke="#000" stroke-width="1.6"/>
<text class="t" x="176.10" y="676.70" text-anchor="middle" textLength="22.4" lengthAdjust="spacingAndGlyphs">10</text>
<line x1="267.39" y1="646.90" x2="267.39" y2="654.60" stroke="#000" stroke-width="1.6"/>
<text class="t" x="265.89" y="676.70" text-anchor="middle" textLength="22.4" lengthAdjust="spacingAndGlyphs">20</text>
<line x1="357.19" y1="646.90" x2="357.19" y2="654.60" stroke="#000" stroke-width="1.6"/>
<text class="t" x="355.69" y="676.70" text-anchor="middle" textLength="22.4" lengthAdjust="spacingAndGlyphs">30</text>
<line x1="446.98" y1="646.90" x2="446.98" y2="654.60" stroke="#000" stroke-width="1.6"/>
<text class="t" x="445.48" y="676.70" text-anchor="middle" textLength="22.4" lengthAdjust="spacingAndGlyphs">40</text>
<line x1="80.10" y1="635.98" x2="87.80" y2="635.98" stroke="#000" stroke-width="1.6"/>
<text class="t" x="71.80" y="643.58" text-anchor="end" textLength="10.9" lengthAdjust="spacingAndGlyphs">0</text>
<line x1="80.10" y1="592.29" x2="87.80" y2="592.29" stroke="#000" stroke-width="1.6"/>
<text class="t" x="71.80" y="599.89" text-anchor="end" textLength="32.8" lengthAdjust="spacingAndGlyphs">100</text>
<line x1="80.10" y1="548.60" x2="87.80" y2="548.60" stroke="#000" stroke-width="1.6"/>
<text class="t" x="71.80" y="556.20" text-anchor="end" textLength="32.8" lengthAdjust="spacingAndGlyphs">200</text>
<line x1="80.10" y1="504.90" x2="87.80" y2="504.90" stroke="#000" stroke-width="1.6"/>
<text class="t" x="71.80" y="512.50" text-anchor="end" textLength="32.8" lengthAdjust="spacingAndGlyphs">300</text>
<line x1="80.10" y1="461.21" x2="87.80" y2="461.21" stroke="#000" stroke-width="1.6"/>
<text class="t" x="71.80" y="468.81" text-anchor="end" textLength="32.8" lengthAdjust="spacingAndGlyphs">400</text>
<line x1="80.10" y1="417.52" x2="87.80" y2="417.52" stroke="#000" stroke-width="1.6"/>
<text class="t" x="71.80" y="425.12" text-anchor="end" textLength="32.8" lengthAdjust="spacingAndGlyphs">500</text>
<text class="l" x="251.72" y="705.00" textLength="32.4" lengthAdjust="spacingAndGlyphs">BO</text>
<text class="l" x="289.98" y="705.00" textLength="48.3" lengthAdjust="spacingAndGlyphs">steps</text>
<text class="l" x="345.73" y="705.00" textLength="7.4" lengthAdjust="spacingAndGlyphs"><tspan font-style="italic">t</tspan></text>
<text class="s" x="353.91" y="708.00" textLength="8.4" lengthAdjust="spacingAndGlyphs">b</text>
<g transform="translate(25.20 526.75) rotate(-90)">
<text class="l" x="-126.07" y="0.00" textLength="93.8" lengthAdjust="spacingAndGlyphs">Maximum</text>
<text class="l" x="-24.88" y="0.00" textLength="32.6" lengthAdjust="spacingAndGlyphs">GD</text>
<text class="l" x="11.06" y="0.00" textLength="86.1" lengthAdjust="spacingAndGlyphs">iteration</text>
<text class="l" x="104.05" y="0.00" textLength="15.2" lengthAdjust="spacingAndGlyphs"><tspan font-style="italic">T</tspan></text>
<text class="s" x="117.19" y="3.20" textLength="7.8" lengthAdjust="spacingAndGlyphs">g</text>
</g>
<text class="ti" x="57.84" y="394.60" textLength="37.4" lengthAdjust="spacingAndGlyphs">(C)</text>
<text class="ti" x="104.60" y="394.60" textLength="131.8" lengthAdjust="spacingAndGlyphs">Logarithmic</text>
<text class="ti" x="246.00" y="394.60" textLength="152.1" lengthAdjust="spacingAndGlyphs">generalization</text>
<text class="ti" x="408.70" y="394.60" textLength="52.8" lengthAdjust="spacingAndGlyphs">error</text>
<text class="ti" x="471.80" y="394.60" textLength="24.4" lengthAdjust="spacingAndGlyphs">(<tspan font-style="italic">β</tspan></text>
<text class="ti" x="503.70" y="394.60" textLength="19.3" lengthAdjust="spacingAndGlyphs">=</text>
<text class="ti" x="530.50" y="394.60" textLength="22.5" lengthAdjust="spacingAndGlyphs">1)</text>
<rect x="555.00" y="406.60" width="12.00" height="240.30" fill="url(#jet)" stroke="#000" stroke-width="1.6"/>
<line x1="567.00" y1="446.79" x2="574.70" y2="446.79" stroke="#000" stroke-width="1.6"/>
<text class="t" x="581.60" y="454.39" textLength="14.6" lengthAdjust="spacingAndGlyphs">−</text>
<text class="t" x="596.70" y="454.39" textLength="10.9" lengthAdjust="spacingAndGlyphs">2</text>
<line x1="567.00" y1="513.49" x2="574.70" y2="513.49" stroke="#000" stroke-width="1.6"/>
<text class="t" x="581.60" y="521.09" textLength="14.6" lengthAdjust="spacingAndGlyphs">−</text>
<text class="t" x="596.70" y="521.09" textLength="10.9" lengthAdjust="spacingAndGlyphs">4</text>
<line x1="567.00" y1="580.20" x2="574.70" y2="580.20" stroke="#000" stroke-width="1.6"/>
<text class="t" x="581.60" y="587.80" textLength="14.6" lengthAdjust="spacingAndGlyphs">−</text>
<text class="t" x="596.70" y="587.80" textLength="10.9" lengthAdjust="spacingAndGlyphs">6</text>
<line x1="567.00" y1="646.90" x2="574.70" y2="646.90" stroke="#000" stroke-width="1.6"/>
<text class="t" x="581.60" y="654.50" textLength="14.6" lengthAdjust="spacingAndGlyphs">−</text>
<text class="t" x="596.70" y="654.50" textLength="10.9" lengthAdjust="spacingAndGlyphs">8</text>
<g transform="translate(634.60 526.75) rotate(-90)">
<text class="l" x="-43.05" y="0.00" textLength="24.1" lengthAdjust="spacingAndGlyphs">log</text>
<text class="l" x="-11.10" y="0.00" textLength="16.2" lengthAdjust="spacingAndGlyphs"><tspan font-style="italic">E</tspan></text>
<text class="s" x="5.35" y="3.20" textLength="8.6" lengthAdjust="spacingAndGlyphs">v</text>
<text class="l" x="16.27" y="0.00" textLength="25.5" lengthAdjust="spacingAndGlyphs">(<tspan font-style="italic">θ</tspan>)</text>
</g>
<g shape-rendering="crispEdges">
<rect x="747.10" y="406.30" width="9.40" height="22.30" fill="#8d0000"/>
<rect x="756.10" y="406.30" width="9.40" height="22.30" fill="#ff3800"/>
<rect x="765.10" y="406.30" width="9.40" height="22.30" fill="#ffc400"/>
<rect x="774.10" y="406.30" width="27.40" height="22.30" fill="#ffde00"/>
<rect x="801.10" y="406.30" width="9.40" height="22.30" fill="#f8f500"/>
<rect x="810.10" y="406.30" width="18.40" height="22.30" fill="#e4ff13"/>
<rect x="828.10" y="406.30" width="18.40" height="22.30" fill="#ceff29"/>
<rect x="846.10" y="406.30" width="18.40" height="22.30" fill="#baff3c"/>
<rect x="864.10" y="406.30" width="9.40" height="22.30" fill="#a4ff53"/>
<rect x="873.10" y="406.30" width="18.40" height="22.30" fill="#90ff66"/>
<rect x="891.10" y="406.30" width="9.40" height="22.30" fill="#66ff90"/>
<rect x="900.10" y="406.30" width="9.40" height="22.30" fill="#3cffba"/>
<rect x="909.10" y="406.30" width="9.40" height="22.30" fill="#00e4f8"/>
<rect x="918.10" y="406.30" width="9.40" height="22.30" fill="#00ccff"/>
<rect x="927.10" y="406.30" width="9.40" height="22.30" fill="#00e4f8"/>
<rect x="936.10" y="406.30" width="9.40" height="22.30" fill="#0098ff"/>
<rect x="945.10" y="406.30" width="9.40" height="22.30" fill="#00ccff"/>
<rect x="954.10" y="406.30" width="9.40" height="22.30" fill="#00b0ff"/>
<rect x="963.10" y="406.30" width="18.40" height="22.30" fill="#0098ff"/>
<rect x="981.10" y="406.30" width="9.40" height="22.30" fill="#004cff"/>
<rect x="990.10" y="406.30" width="18.40" height="22.30" fill="#0080ff"/>
<rect x="1008.10" y="406.30" width="9.40" height="22.30" fill="#0018ff"/>
<rect x="1017.10" y="406.30" width="9.40" height="22.30" fill="#a4ff53"/>
<rect x="1026.10" y="406.30" width="9.40" height="22.30" fill="#f8f500"/>
<rect x="1035.10" y="406.30" width="9.40" height="22.30" fill="#ff7e00"/>
<rect x="1044.10" y="406.30" width="9.40" height="22.30" fill="#ff6800"/>
<rect x="1053.10" y="406.30" width="9.40" height="22.30" fill="#ff1e00"/>
<rect x="1062.10" y="406.30" width="9.40" height="22.30" fill="#f10800"/>
<rect x="1071.10" y="406.30" width="9.40" height="22.30" fill="#b60000"/>
<rect x="1080.10" y="406.30" width="108.40" height="22.30" fill="#9b0000"/>
<rect x="747.10" y="428.20" width="9.40" height="22.30" fill="#8d0000"/>
<rect x="756.10" y="428.20" width="9.40" height="22.30" fill="#ff1e00"/>
<rect x="765.10" y="428.20" width="9.40" height="22.30" fill="#ffae00"/>
<rect x="774.10" y="428.20" width="9.40" height="22.30" fill="#ffc400"/>
<rect x="783.10" y="428.20" width="18.40" height="22.30" fill="#ffde00"/>
<rect x="801.10" y="428.20" width="9.40" height="22.30" fill="#f8f500"/>
<rect x="810.10" y="428.20" width="18.40" height="22.30" fill="#e4ff13"/>
<rect x="828.10" y="428.20" width="27.40" height="22.30" fill="#ceff29"/>
<rect x="855.10" y="428.20" width="18.40" height="22.30" fill="#baff3c"/>
<rect x="873.10" y="428.20" width="9.40" height="22.30" fill="#a4ff53"/>
<rect x="882.10" y="428.20" width="9.40" height="22.30" fill="#90ff66"/>
<rect x="891.10" y="428.20" width="9.40" height="22.30" fill="#7dff7a"/>
<rect x="900.10" y="428.20" width="18.40" height="22.30" fill="#66ff90"/>
<rect x="918.10" y="428.20" width="9.40" height="22.30" fill="#29ffce"/>
<rect x="927.10" y="428.20" width="9.40" height="22.30" fill="#3cffba"/>
<rect x="936.10" y="428.20" width="18.40" height="22.30" fill="#0098ff"/>
<rect x="954.10" y="428.20" width="9.40" height="22.30" fill="#0080ff"/>
<rect x="963.10" y="428.20" width="18.40" height="22.30" fill="#004cff"/>
<rect x="981.10" y="428.20" width="18.40" height="22.30" fill="#0000ff"/>
<rect x="999.10" y="428.20" width="9.40" height="22.30" fill="#0018ff"/>
<rect x="1008.10" y="428.20" width="9.40" height="22.30" fill="#0000f1"/>
<rect x="1017.10" y="428.20" width="9.40" height="22.30" fill="#0000b6"/>
<rect x="1026.10" y="428.20" width="9.40" height="22.30" fill="#90ff66"/>
<rect x="1035.10" y="428.20" width="9.40" height="22.30" fill="#ffc400"/>
<rect x="1044.10" y="428.20" width="9.40" height="22.30" fill="#ffae00"/>
<rect x="1053.10" y="428.20" width="9.40" height="22.30" fill="#ff3800"/>
<rect x="1062.10" y="428.20" width="9.40" height="22.30" fill="#f10800"/>
<rect x="1071.10" y="428.20" width="9.40" height="22.30" fill="#d60000"/>
<rect x="1080.10" y="428.20" width="18.40" height="22.30" fill="#b60000"/>
<rect x="1098.10" y="428.20" width="90.40" height="22.30" fill="#9b0000"/>
<rect x="747.10" y="450.10" width="9.40" height="22.30" fill="#8d0000"/>
<rect x="756.10" y="450.10" width="9.40" height="22.30" fill="#f10800"/>
<rect x="765.10" y="450.10" width="9.40" height="22.30" fill="#ff9400"/>
<rect x="774.10" y="450.10" width="9.40" height="22.30" fill="#ffc400"/>
<rect x="783.10" y="450.10" width="18.40" height="22.30" fill="#f8f500"/>
<rect x="801.10" y="450.10" width="18.40" height="22.30" fill="#e4ff13"/>
<rect x="819.10" y="450.10" width="27.40" height="22.30" fill="#ceff29"/>
<rect x="846.10" y="450.10" width="18.40" height="22.30" fill="#baff3c"/>
<rect x="864.10" y="450.10" width="18.40" height="22.30" fill="#a4ff53"/>
<rect x="882.10" y="450.10" width="18.40" height="22.30" fill="#90ff66"/>
<rect x="900.10" y="450.10" width="9.40" height="22.30" fill="#53ffa4"/>
<rect x="909.10" y="450.10" width="9.40" height="22.30" fill="#66ff90"/>
<rect x="918.10" y="450.10" width="9.40" height="22.30" fill="#3cffba"/>
<rect x="927.10" y="450.10" width="18.40" height="22.30" fill="#16ffe1"/>
<rect x="945.10" y="450.10" width="9.40" height="22.30" fill="#0098ff"/>
<rect x="954.10" y="450.10" width="9.40" height="22.30" fill="#0080ff"/>
<rect x="963.10" y="450.10" width="18.40" height="22.30" fill="#0064ff"/>
<rect x="981.10" y="450.10" width="9.40" height="22.30" fill="#0080ff"/>
<rect x="990.10" y="450.10" width="9.40" height="22.30" fill="#0098ff"/>
<rect x="999.10" y="450.10" width="9.40" height="22.30" fill="#0080ff"/>
<rect x="1008.10" y="450.10" width="9.40" height="22.30" fill="#0030ff"/>
<rect x="1017.10" y="450.10" width="9.40" height="22.30" fill="#0098ff"/>
<rect x="1026.10" y="450.10" width="9.40" height="22.30" fill="#66ff90"/>
<rect x="1035.10" y="450.10" width="9.40" height="22.30" fill="#ffde00"/>
<rect x="1044.10" y="450.10" width="9.40" height="22.30" fill="#ff9400"/>
<rect x="1053.10" y="450.10" width="9.40" height="22.30" fill="#ff4e00"/>
<rect x="1062.10" y="450.10" width="9.40" height="22.30" fill="#ff1e00"/>
<rect x="1071.10" y="450.10" width="9.40" height="22.30" fill="#d60000"/>
<rect x="1080.10" y="450.10" width="9.40" height="22.30" fill="#b60000"/>
<rect x="1089.10" y="450.10" width="99.40" height="22.30" fill="#9b0000"/>
<rect x="747.10" y="472.00" width="9.40" height="22.30" fill="#8d0000"/>
<rect x="756.10" y="472.00" width="9.40" height="22.30" fill="#b60000"/>
<rect x="765.10" y="472.00" width="9.40" height="22.30" fill="#ff4e00"/>
<rect x="774.10" y="472.00" width="18.40" height="22.30" fill="#ffae00"/>
<rect x="792.10" y="472.00" width="18.40" height="22.30" fill="#ffde00"/>
<rect x="810.10" y="472.00" width="9.40" height="22.30" fill="#f8f500"/>
<rect x="819.10" y="472.00" width="18.40" height="22.30" fill="#e4ff13"/>
<rect x="837.10" y="472.00" width="27.40" height="22.30" fill="#ceff29"/>
<rect x="864.10" y="472.00" width="9.40" height="22.30" fill="#baff3c"/>
<rect x="873.10" y="472.00" width="18.40" height="22.30" fill="#a4ff53"/>
<rect x="891.10" y="472.00" width="9.40" height="22.30" fill="#90ff66"/>
<rect x="900.10" y="472.00" width="9.40" height="22.30" fill="#7dff7a"/>
<rect x="909.10" y="472.00" width="9.40" height="22.30" fill="#66ff90"/>
<rect x="918.10" y="472.00" width="9.40" height="22.30" fill="#3cffba"/>
<rect x="927.10" y="472.00" width="9.40" height="22.30" fill="#29ffce"/>
<rect x="936.10" y="472.00" width="9.40" height="22.30" fill="#00b0ff"/>
<rect x="945.10" y="472.00" width="9.40" height="22.30" fill="#16ffe1"/>
<rect x="954.10" y="472.00" width="9.40" height="22.30" fill="#00ccff"/>
<rect x="963.10" y="472.00" width="18.40" height="22.30" fill="#0064ff"/>
<rect x="981.10" y="472.00" width="9.40" height="22.30" fill="#004cff"/>
<rect x="990.10" y="472.00" width="18.40" height="22.30" fill="#0018ff"/>
<rect x="1008.10" y="472.00" width="9.40" height="22.30" fill="#0030ff"/>
<rect x="1017.10" y="472.00" width="9.40" height="22.30" fill="#0064ff"/>
<rect x="1026.10" y="472.00" width="9.40" height="22.30" fill="#3cffba"/>
<rect x="1035.10" y="472.00" width="9.40" height="22.30" fill="#ffde00"/>
<rect x="1044.10" y="472.00" width="9.40" height="22.30" fill="#ffae00"/>
<rect x="1053.10" y="472.00" width="9.40" height="22.30" fill="#ff4e00"/>
<rect x="1062.10" y="472.00" width="9.40" height="22.30" fill="#ff1e00"/>
<rect x="1071.10" y="472.00" width="18.40" height="22.30" fill="#d60000"/>
<rect x="1089.10" y="472.00" width="18.40" height="22.30" fill="#b60000"/>
<rect x="1107.10" y="472.00" width="81.40" height="22.30" fill="#9b0000"/>
<rect x="747.10" y="493.90" width="9.40" height="22.30" fill="#8d0000"/>
<rect x="756.10" y="493.90" width="9.40" height="22.30" fill="#b60000"/>
<rect x="765.10" y="493.90" width="9.40" height="22.30" fill="#ff1e00"/>
<rect x="774.10" y="493.90" width="9.40" height="22.30" fill="#ff7e00"/>
<rect x="783.10" y="493.90" width="9.40" height="22.30" fill="#ffae00"/>
<rect x="792.10" y="493.90" width="9.40" height="22.30" fill="#ffde00"/>
<rect x="801.10" y="493.90" width="9.40" height="22.30" fill="#f8f500"/>
<rect x="810.10" y="493.90" width="18.40" height="22.30" fill="#e4ff13"/>
<rect x="828.10" y="493.90" width="27.40" height="22.30" fill="#ceff29"/>
<rect x="855.10" y="493.90" width="9.40" height="22.30" fill="#baff3c"/>
<rect x="864.10" y="493.90" width="9.40" height="22.30" fill="#a4ff53"/>
<rect x="873.10" y="493.90" width="18.40" height="22.30" fill="#90ff66"/>
<rect x="891.10" y="493.90" width="9.40" height="22.30" fill="#66ff90"/>
<rect x="900.10" y="493.90" width="9.40" height="22.30" fill="#3cffba"/>
<rect x="909.10" y="493.90" width="9.40" height="22.30" fill="#29ffce"/>
<rect x="918.10" y="493.90" width="9.40" height="22.30" fill="#00e4f8"/>
<rect x="927.10" y="493.90" width="9.40" height="22.30" fill="#00b0ff"/>
<rect x="936.10" y="493.90" width="9.40" height="22.30" fill="#0098ff"/>
<rect x="945.10" y="493.90" width="9.40" height="22.30" fill="#0080ff"/>
<rect x="954.10" y="493.90" width="9.40" height="22.30" fill="#0064ff"/>
<rect x="963.10" y="493.90" width="27.40" height="22.30" fill="#004cff"/>
<rect x="990.10" y="493.90" width="9.40" height="22.30" fill="#0064ff"/>
<rect x="999.10" y="493.90" width="9.40" height="22.30" fill="#00b0ff"/>
<rect x="1008.10" y="493.90" width="9.40" height="22.30" fill="#29ffce"/>
<rect x="1017.10" y="493.90" width="9.40" height="22.30" fill="#3cffba"/>
<rect x="1026.10" y="493.90" width="9.40" height="22.30" fill="#66ff90"/>
<rect x="1035.10" y="493.90" width="9.40" height="22.30" fill="#f8f500"/>
<rect x="1044.10" y="493.90" width="9.40" height="22.30" fill="#ffae00"/>
<rect x="1053.10" y="493.90" width="9.40" height="22.30" fill="#ff6800"/>
<rect x="1062.10" y="493.90" width="9.40" height="22.30" fill="#ff3800"/>
<rect x="1071.10" y="493.90" width="9.40" height="22.30" fill="#f10800"/>
<rect x="1080.10" y="493.90" width="9.40" height="22.30" fill="#d60000"/>
<rect x="1089.10" y="493.90" width="18.40" height="22.30" fill="#b60000"/>
<rect x="1107.10" y="493.90" width="81.40" height="22.30" fill="#9b0000"/>
<rect x="747.10" y="515.80" width="9.40" height="22.30" fill="#8d0000"/>
<rect x="756.10" y="515.80" width="9.40" height="22.30" fill="#9b0000"/>
<rect x="765.10" y="515.80" width="9.40" height="22.30" fill="#f10800"/>
<rect x="774.10" y="515.80" width="9.40" height="22.30" fill="#ff3800"/>
<rect x="783.10" y="515.80" width="9.40" height="22.30" fill="#ff6800"/>
<rect x="792.10" y="515.80" width="9.40" height="22.30" fill="#ffae00"/>
<rect x="801.10" y="515.80" width="9.40" height="22.30" fill="#ffde00"/>
<rect x="810.10" y="515.80" width="9.40" height="22.30" fill="#f8f500"/>
<rect x="819.10" y="515.80" width="9.40" height="22.30" fill="#e4ff13"/>
<rect x="828.10" y="515.80" width="27.40" height="22.30" fill="#ceff29"/>
<rect x="855.10" y="515.80" width="9.40" height="22.30" fill="#baff3c"/>
<rect x="864.10" y="515.80" width="9.40" height="22.30" fill="#a4ff53"/>
<rect x="873.10" y="515.80" width="18.40" height="22.30" fill="#90ff66"/>
<rect x="891.10" y="515.80" width="9.40" height="22.30" fill="#66ff90"/>
<rect x="900.10" y="515.80" width="18.40" height="22.30" fill="#3cffba"/>
<rect x="918.10" y="515.80" width="18.40" height="22.30" fill="#16ffe1"/>
<rect x="936.10" y="515.80" width="9.40" height="22.30" fill="#00e4f8"/>
<rect x="945.10" y="515.80" width="18.40" height="22.30" fill="#00ccff"/>
<rect x="963.10" y="515.80" width="27.40" height="22.30" fill="#00b0ff"/>
<rect x="990.10" y="515.80" width="18.40" height="22.30" fill="#0098ff"/>
<rect x="1008.10" y="515.80" width="9.40" height="22.30" fill="#00b0ff"/>
<rect x="1017.10" y="515.80" width="9.40" height="22.30" fill="#66ff90"/>
<rect x="1026.10" y="515.80" width="9.40" height="22.30" fill="#90ff66"/>
<rect x="1035.10" y="515.80" width="9.40" height="22.30" fill="#e4ff13"/>
<rect x="1044.10" y="515.80" width="9.40" height="22.30" fill="#ffae00"/>
<rect x="1053.10" y="515.80" width="9.40" height="22.30" fill="#ff7e00"/>
<rect x="1062.10" y="515.80" width="9.40" height="22.30" fill="#ff6800"/>
<rect x="1071.10" y="515.80" width="9.40" height="22.30" fill="#ff1e00"/>
<rect x="1080.10" y="515.80" width="9.40" height="22.30" fill="#f10800"/>
<rect x="1089.10" y="515.80" width="18.40" height="22.30" fill="#d60000"/>
<rect x="1107.10" y="515.80" width="18.40" height="22.30" fill="#b60000"/>
<rect x="1125.10" y="515.80" width="63.40" height="22.30" fill="#9b0000"/>
<rect x="747.10" y="537.70" width="9.40" height="22.30" fill="#8d0000"/>
<rect x="756.10" y="537.70" width="9.40" height="22.30" fill="#9b0000"/>
<rect x="765.10" y="537.70" width="9.40" height="22.30" fill="#b60000"/>
<rect x="774.10" y="537.70" width="9.40" height="22.30" fill="#f10800"/>
<rect x="783.10" y="537.70" width="9.40" height="22.30" fill="#ff3800"/>
<rect x="792.10" y="537.70" width="9.40" height="22.30" fill="#ff7e00"/>
<rect x="801.10" y="537.70" width="9.40" height="22.30" fill="#ffae00"/>
<rect x="810.10" y="537.70" width="9.40" height="22.30" fill="#f8f500"/>
<rect x="819.10" y="537.70" width="27.40" height="22.30" fill="#baff3c"/>
<rect x="846.10" y="537.70" width="18.40" height="22.30" fill="#a4ff53"/>
<rect x="864.10" y="537.70" width="18.40" height="22.30" fill="#90ff66"/>
<rect x="882.10" y="537.70" width="18.40" height="22.30" fill="#66ff90"/>
<rect x="900.10" y="537.70" width="18.40" height="22.30" fill="#3cffba"/>
<rect x="918.10" y="537.70" width="9.40" height="22.30" fill="#29ffce"/>
<rect x="927.10" y="537.70" width="9.40" height="22.30" fill="#16ffe1"/>
<rect x="936.10" y="537.70" width="9.40" height="22.30" fill="#00e4f8"/>
<rect x="945.10" y="537.70" width="9.40" height="22.30" fill="#16ffe1"/>
<rect x="954.10" y="537.70" width="9.40" height="22.30" fill="#00ccff"/>
<rect x="963.10" y="537.70" width="18.40" height="22.30" fill="#00b0ff"/>
<rect x="981.10" y="537.70" width="9.40" height="22.30" fill="#0098ff"/>
<rect x="990.10" y="537.70" width="9.40" height="22.30" fill="#0080ff"/>
<rect x="999.10" y="537.70" width="18.40" height="22.30" fill="#0064ff"/>
<rect x="1017.10" y="537.70" width="9.40" height="22.30" fill="#0098ff"/>
<rect x="1026.10" y="537.70" width="9.40" height="22.30" fill="#16ffe1"/>
<rect x="1035.10" y="537.70" width="18.40" height="22.30" fill="#90ff66"/>
<rect x="1053.10" y="537.70" width="9.40" height="22.30" fill="#baff3c"/>
<rect x="1062.10" y="537.70" width="9.40" height="22.30" fill="#ffde00"/>
<rect x="1071.10" y="537.70" width="9.40" height="22.30" fill="#ff4e00"/>
<rect x="1080.10" y="537.70" width="9.40" height="22.30" fill="#ff6800"/>
<rect x="1089.10" y="537.70" width="9.40" height="22.30" fill="#ff1e00"/>
<rect x="1098.10" y="537.70" width="9.40" height="22.30" fill="#f10800"/>
<rect x="1107.10" y="537.70" width="18.40" height="22.30" fill="#d60000"/>
<rect x="1125.10" y="537.70" width="27.40" height="22.30" fill="#b60000"/>
<rect x="1152.10" y="537.70" width="36.40" height="22.30" fill="#9b0000"/>
<rect x="747.10" y="559.60" width="9.40" height="22.30" fill="#8d0000"/>
<rect x="756.10" y="559.60" width="18.40" height="22.30" fill="#9b0000"/>
<rect x="774.10" y="559.60" width="9.40" height="22.30" fill="#b60000"/>
<rect x="783.10" y="559.60" width="9.40" height="22.30" fill="#f10800"/>
<rect x="792.10" y="559.60" width="9.40" height="22.30" fill="#ff1e00"/>
<rect x="801.10" y="559.60" width="9.40" height="22.30" fill="#ff4e00"/>
<rect x="810.10" y="559.60" width="9.40" height="22.30" fill="#ff9400"/>
<rect x="819.10" y="559.60" width="9.40" height="22.30" fill="#ffde00"/>
<rect x="828.10" y="559.60" width="9.40" height="22.30" fill="#ceff29"/>
<rect x="837.10" y="559.60" width="9.40" height="22.30" fill="#a4ff53"/>
<rect x="846.10" y="559.60" width="27.40" height="22.30" fill="#90ff66"/>
<rect x="873.10" y="559.60" width="9.40" height="22.30" fill="#7dff7a"/>
<rect x="882.10" y="559.60" width="18.40" height="22.30" fill="#66ff90"/>
<rect x="900.10" y="559.60" width="9.40" height="22.30" fill="#53ffa4"/>
<rect x="909.10" y="559.60" width="9.40" height="22.30" fill="#3cffba"/>
<rect x="918.10" y="559.60" width="9.40" height="22.30" fill="#29ffce"/>
<rect x="927.10" y="559.60" width="9.40" height="22.30" fill="#16ffe1"/>
<rect x="936.10" y="559.60" width="9.40" height="22.30" fill="#00e4f8"/>
<rect x="945.10" y="559.60" width="45.40" height="22.30" fill="#00ccff"/>
<rect x="990.10" y="559.60" width="9.40" height="22.30" fill="#00e4f8"/>
<rect x="999.10" y="559.60" width="18.40" height="22.30" fill="#00ccff"/>
<rect x="1017.10" y="559.60" width="9.40" height="22.30" fill="#00b0ff"/>
<rect x="1026.10" y="559.60" width="9.40" height="22.30" fill="#00ccff"/>
<rect x="1035.10" y="559.60" width="9.40" height="22.30" fill="#0080ff"/>
<rect x="1044.10" y="559.60" width="9.40" height="22.30" fill="#0064ff"/>
<rect x="1053.10" y="559.60" width="9.40" height="22.30" fill="#00b0ff"/>
<rect x="1062.10" y="559.60" width="9.40" height="22.30" fill="#ceff29"/>
<rect x="1071.10" y="559.60" width="9.40" height="22.30" fill="#ffde00"/>
<rect x="1080.10" y="559.60" width="9.40" height="22.30" fill="#ffae00"/>
<rect x="1089.10" y="559.60" width="9.40" height="22.30" fill="#ff9400"/>
<rect x="1098.10" y="559.60" width="9.40" height="22.30" fill="#ff4e00"/>
<rect x="1107.10" y="559.60" width="27.40" height="22.30" fill="#ff1e00"/>
<rect x="1134.10" y="559.60" width="9.40" height="22.30" fill="#f10800"/>
<rect x="1143.10" y="559.60" width="9.40" height="22.30" fill="#d60000"/>
<rect x="1152.10" y="559.60" width="18.40" height="22.30" fill="#b60000"/>
<rect x="1170.10" y="559.60" width="18.40" height="22.30" fill="#9b0000"/>
<rect x="747.10" y="581.50" width="18.40" height="22.30" fill="#8d0000"/>
<rect x="765.10" y="581.50" width="18.40" height="22.30" fill="#9b0000"/>
<rect x="783.10" y="581.50" width="9.40" height="22.30" fill="#b60000"/>
<rect x="792.10" y="581.50" width="18.40" height="22.30" fill="#d60000"/>
<rect x="810.10" y="581.50" width="9.40" height="22.30" fill="#ff1e00"/>
<rect x="819.10" y="581.50" width="9.40" height="22.30" fill="#ff4e00"/>
<rect x="828.10" y="581.50" width="9.40" height="22.30" fill="#ff6800"/>
<rect x="837.10" y="581.50" width="9.40" height="22.30" fill="#ffae00"/>
<rect x="846.10" y="581.50" width="9.40" height="22.30" fill="#ffde00"/>
<rect x="855.10" y="581.50" width="9.40" height="22.30" fill="#ceff29"/>
<rect x="864.10" y="581.50" width="9.40" height="22.30" fill="#90ff66"/>
<rect x="873.10" y="581.50" width="18.40" height="22.30" fill="#66ff90"/>
<rect x="891.10" y="581.50" width="18.40" height="22.30" fill="#53ffa4"/>
<rect x="909.10" y="581.50" width="18.40" height="22.30" fill="#3cffba"/>
<rect x="927.10" y="581.50" width="9.40" height="22.30" fill="#53ffa4"/>
<rect x="936.10" y="581.50" width="9.40" height="22.30" fill="#3cffba"/>
<rect x="945.10" y="581.50" width="9.40" height="22.30" fill="#29ffce"/>
<rect x="954.10" y="581.50" width="9.40" height="22.30" fill="#16ffe1"/>
<rect x="963.10" y="581.50" width="18.40" height="22.30" fill="#00e4f8"/>
<rect x="981.10" y="581.50" width="9.40" height="22.30" fill="#16ffe1"/>
<rect x="990.10" y="581.50" width="9.40" height="22.30" fill="#00e4f8"/>
<rect x="999.10" y="581.50" width="45.40" height="22.30" fill="#00ccff"/>
<rect x="1044.10" y="581.50" width="9.40" height="22.30" fill="#00e4f8"/>
<rect x="1053.10" y="581.50" width="9.40" height="22.30" fill="#16ffe1"/>
<rect x="1062.10" y="581.50" width="9.40" height="22.30" fill="#00e4f8"/>
<rect x="1071.10" y="581.50" width="9.40" height="22.30" fill="#3cffba"/>
<rect x="1080.10" y="581.50" width="9.40" height="22.30" fill="#ceff29"/>
<rect x="1089.10" y="581.50" width="9.40" height="22.30" fill="#e4ff13"/>
<rect x="1098.10" y="581.50" width="9.40" height="22.30" fill="#f8f500"/>
<rect x="1107.10" y="581.50" width="9.40" height="22.30" fill="#ffde00"/>
<rect x="1116.10" y="581.50" width="9.40" height="22.30" fill="#ff9400"/>
<rect x="1125.10" y="581.50" width="18.40" height="22.30" fill="#ff6800"/>
<rect x="1143.10" y="581.50" width="9.40" height="22.30" fill="#ff3800"/>
<rect x="1152.10" y="581.50" width="9.40" height="22.30" fill="#ff1e00"/>
<rect x="1161.10" y="581.50" width="9.40" height="22.30" fill="#f10800"/>
<rect x="1170.10" y="581.50" width="18.40" height="22.30" fill="#d60000"/>
<rect x="747.10" y="603.40" width="27.40" height="22.30" fill="#8d0000"/>
<rect x="774.10" y="603.40" width="45.40" height="22.30" fill="#9b0000"/>
<rect x="819.10" y="603.40" width="18.40" height="22.30" fill="#b60000"/>
<rect x="837.10" y="603.40" width="9.40" height="22.30" fill="#d60000"/>
<rect x="846.10" y="603.40" width="18.40" height="22.30" fill="#f10800"/>
<rect x="864.10" y="603.40" width="9.40" height="22.30" fill="#ff1e00"/>
<rect x="873.10" y="603.40" width="9.40" height="22.30" fill="#ff3800"/>
<rect x="882.10" y="603.40" width="9.40" height="22.30" fill="#ff4e00"/>
<rect x="891.10" y="603.40" width="9.40" height="22.30" fill="#ff7e00"/>
<rect x="900.10" y="603.40" width="9.40" height="22.30" fill="#ffae00"/>
<rect x="909.10" y="603.40" width="9.40" height="22.30" fill="#ffde00"/>
<rect x="918.10" y="603.40" width="9.40" height="22.30" fill="#e4ff13"/>
<rect x="927.10" y="603.40" width="9.40" height="22.30" fill="#a4ff53"/>
<rect x="936.10" y="603.40" width="9.40" height="22.30" fill="#90ff66"/>
<rect x="945.10" y="603.40" width="9.40" height="22.30" fill="#3cffba"/>
<rect x="954.10" y="603.40" width="9.40" height="22.30" fill="#16ffe1"/>
<rect x="963.10" y="603.40" width="18.40" height="22.30" fill="#00e4f8"/>
<rect x="981.10" y="603.40" width="18.40" height="22.30" fill="#16ffe1"/>
<rect x="999.10" y="603.40" width="18.40" height="22.30" fill="#00e4f8"/>
<rect x="1017.10" y="603.40" width="9.40" height="22.30" fill="#00b0ff"/>
<rect x="1026.10" y="603.40" width="18.40" height="22.30" fill="#0098ff"/>
<rect x="1044.10" y="603.40" width="9.40" height="22.30" fill="#0080ff"/>
<rect x="1053.10" y="603.40" width="18.40" height="22.30" fill="#0064ff"/>
<rect x="1071.10" y="603.40" width="18.40" height="22.30" fill="#004cff"/>
<rect x="1089.10" y="603.40" width="18.40" height="22.30" fill="#0030ff"/>
<rect x="1107.10" y="603.40" width="18.40" height="22.30" fill="#0018ff"/>
<rect x="1125.10" y="603.40" width="18.40" height="22.30" fill="#0000ff"/>
<rect x="1143.10" y="603.40" width="36.40" height="22.30" fill="#0000f1"/>
<rect x="1179.10" y="603.40" width="9.40" height="22.30" fill="#0064ff"/>
<rect x="747.10" y="625.30" width="279.40" height="22.30" fill="#9b0000"/>
<rect x="1026.10" y="625.30" width="108.40" height="22.30" fill="#b60000"/>
<rect x="1134.10" y="625.30" width="54.40" height="22.30" fill="#d60000"/>
</g>
<path d="M1000.30 408.72L1005.40 417.52L1000.30 426.32L995.20 417.52Z" fill="#fff" stroke="#000" stroke-width="1.85" stroke-linejoin="miter"/>
<text class="a" x="1006.37" y="422.12" textLength="28.7" lengthAdjust="spacingAndGlyphs">100</text>
<text class="a" x="1043.23" y="422.12" textLength="25.8" lengthAdjust="spacingAndGlyphs">[%]</text>
<path d="M1007.10 430.57L1012.20 439.37L1007.10 448.17L1002.00 439.37Z" fill="#fff" stroke="#000" stroke-width="1.85" stroke-linejoin="miter"/>
<text class="a" x="1014.34" y="443.97" textLength="18.9" lengthAdjust="spacingAndGlyphs">95</text>
<text class="a" x="1040.84" y="443.97" textLength="25.9" lengthAdjust="spacingAndGlyphs">[%]</text>
<path d="M998.00 452.41L1003.10 461.21L998.00 470.01L992.90 461.21Z" fill="#fff" stroke="#000" stroke-width="1.85" stroke-linejoin="miter"/>
<text class="a" x="1005.25" y="465.81" textLength="18.9" lengthAdjust="spacingAndGlyphs">95</text>
<text class="a" x="1031.74" y="465.81" textLength="25.9" lengthAdjust="spacingAndGlyphs">[%]</text>
<path d="M1002.60 474.26L1007.70 483.06L1002.60 491.86L997.50 483.06Z" fill="#fff" stroke="#000" stroke-width="1.85" stroke-linejoin="miter"/>
<text class="a" x="1008.66" y="487.66" textLength="28.7" lengthAdjust="spacingAndGlyphs">100</text>
<text class="a" x="1045.53" y="487.66" textLength="25.8" lengthAdjust="spacingAndGlyphs">[%]</text>
<path d="M992.60 496.10L997.70 504.90L992.60 513.70L987.50 504.90Z" fill="#fff" stroke="#000" stroke-width="1.85" stroke-linejoin="miter"/>
<text class="a" x="998.66" y="509.50" textLength="28.7" lengthAdjust="spacingAndGlyphs">100</text>
<text class="a" x="1035.53" y="509.50" textLength="25.8" lengthAdjust="spacingAndGlyphs">[%]</text>
<path d="M985.80 517.95L990.90 526.75L985.80 535.55L980.70 526.75Z" fill="#fff" stroke="#000" stroke-width="1.85" stroke-linejoin="miter"/>
<text class="a" x="991.87" y="531.35" textLength="28.7" lengthAdjust="spacingAndGlyphs">100</text>
<text class="a" x="1028.73" y="531.35" textLength="25.8" lengthAdjust="spacingAndGlyphs">[%]</text>
<path d="M990.80 539.80L995.90 548.60L990.80 557.40L985.70 548.60Z" fill="#fff" stroke="#000" stroke-width="1.85" stroke-linejoin="miter"/>
<text class="a" x="996.87" y="553.20" textLength="28.7" lengthAdjust="spacingAndGlyphs">100</text>
<text class="a" x="1033.73" y="553.20" textLength="25.8" lengthAdjust="spacingAndGlyphs">[%]</text>
<path d="M990.40 561.64L995.50 570.44L990.40 579.24L985.30 570.44Z" fill="#fff" stroke="#000" stroke-width="1.85" stroke-linejoin="miter"/>
<text class="a" x="996.47" y="575.04" textLength="28.7" lengthAdjust="spacingAndGlyphs">100</text>
<text class="a" x="1033.34" y="575.04" textLength="25.8" lengthAdjust="spacingAndGlyphs">[%]</text>
<path d="M1018.40 583.49L1023.50 592.29L1018.40 601.09L1013.30 592.29Z" fill="#fff" stroke="#000" stroke-width="1.85" stroke-linejoin="miter"/>
<text class="a" x="1024.46" y="596.89" textLength="28.7" lengthAdjust="spacingAndGlyphs">100</text>
<text class="a" x="1061.34" y="596.89" textLength="25.8" lengthAdjust="spacingAndGlyphs">[%]</text>
<path d="M1078.00 605.33L1083.10 614.13L1078.00 622.93L1072.90 614.13Z" fill="#fff" stroke="#000" stroke-width="1.85" stroke-linejoin="miter"/>
<text class="a" x="1084.06" y="618.73" textLength="28.7" lengthAdjust="spacingAndGlyphs">100</text>
<text class="a" x="1120.93" y="618.73" textLength="25.8" lengthAdjust="spacingAndGlyphs">[%]</text>
<rect x="747.90" y="406.60" width="440.00" height="240.30" fill="none" stroke="#000" stroke-width="1.6"/>
<line x1="747.90" y1="646.90" x2="747.90" y2="654.60" stroke="#000" stroke-width="1.6"/>
<text class="t" x="746.85" y="676.70" text-anchor="middle" textLength="11.2" lengthAdjust="spacingAndGlyphs">0</text>
<line x1="837.70" y1="646.90" x2="837.70" y2="654.60" stroke="#000" stroke-width="1.6"/>
<text class="t" x="836.20" y="676.70" text-anchor="middle" textLength="22.4" lengthAdjust="spacingAndGlyphs">10</text>
<line x1="927.49" y1="646.90" x2="927.49" y2="654.60" stroke="#000" stroke-width="1.6"/>
<text class="t" x="925.99" y="676.70" text-anchor="middle" textLength="22.4" lengthAdjust="spacingAndGlyphs">20</text>
<line x1="1017.29" y1="646.90" x2="1017.29" y2="654.60" stroke="#000" stroke-width="1.6"/>
<text class="t" x="1015.79" y="676.70" text-anchor="middle" textLength="22.4" lengthAdjust="spacingAndGlyphs">30</text>
<line x1="1107.08" y1="646.90" x2="1107.08" y2="654.60" stroke="#000" stroke-width="1.6"/>
<text class="t" x="1105.58" y="676.70" text-anchor="middle" textLength="22.4" lengthAdjust="spacingAndGlyphs">40</text>
<line x1="740.20" y1="635.98" x2="747.90" y2="635.98" stroke="#000" stroke-width="1.6"/>
<text class="t" x="731.90" y="643.58" text-anchor="end" textLength="10.9" lengthAdjust="spacingAndGlyphs">0</text>
<line x1="740.20" y1="592.29" x2="747.90" y2="592.29" stroke="#000" stroke-width="1.6"/>
<text class="t" x="731.90" y="599.89" text-anchor="end" textLength="32.8" lengthAdjust="spacingAndGlyphs">100</text>
<line x1="740.20" y1="548.60" x2="747.90" y2="548.60" stroke="#000" stroke-width="1.6"/>
<text class="t" x="731.90" y="556.20" text-anchor="end" textLength="32.8" lengthAdjust="spacingAndGlyphs">200</text>
<line x1="740.20" y1="504.90" x2="747.90" y2="504.90" stroke="#000" stroke-width="1.6"/>
<text class="t" x="731.90" y="512.50" text-anchor="end" textLength="32.8" lengthAdjust="spacingAndGlyphs">300</text>
<line x1="740.20" y1="461.21" x2="747.90" y2="461.21" stroke="#000" stroke-width="1.6"/>
<text class="t" x="731.90" y="468.81" text-anchor="end" textLength="32.8" lengthAdjust="spacingAndGlyphs">400</text>
<line x1="740.20" y1="417.52" x2="747.90" y2="417.52" stroke="#000" stroke-width="1.6"/>
<text class="t" x="731.90" y="425.12" text-anchor="end" textLength="32.8" lengthAdjust="spacingAndGlyphs">500</text>
<text class="l" x="911.82" y="705.00" textLength="32.4" lengthAdjust="spacingAndGlyphs">BO</text>
<text class="l" x="950.08" y="705.00" textLength="48.3" lengthAdjust="spacingAndGlyphs">steps</text>
<text class="l" x="1005.83" y="705.00" textLength="7.4" lengthAdjust="spacingAndGlyphs"><tspan font-style="italic">t</tspan></text>
<text class="s" x="1014.01" y="708.00" textLength="8.4" lengthAdjust="spacingAndGlyphs">b</text>
<g transform="translate(685.30 526.75) rotate(-90)">
<text class="l" x="-126.07" y="0.00" textLength="93.8" lengthAdjust="spacingAndGlyphs">Maximum</text>
<text class="l" x="-24.88" y="0.00" textLength="32.6" lengthAdjust="spacingAndGlyphs">GD</text>
<text class="l" x="11.06" y="0.00" textLength="86.1" lengthAdjust="spacingAndGlyphs">iteration</text>
<text class="l" x="104.05" y="0.00" textLength="15.2" lengthAdjust="spacingAndGlyphs"><tspan font-style="italic">T</tspan></text>
<text class="s" x="117.19" y="3.20" textLength="7.8" lengthAdjust="spacingAndGlyphs">g</text>
</g>
<text class="ti" x="717.94" y="394.60" textLength="37.4" lengthAdjust="spacingAndGlyphs">(D)</text>
<text class="ti" x="764.70" y="394.60" textLength="131.8" lengthAdjust="spacingAndGlyphs">Logarithmic</text>
<text class="ti" x="906.10" y="394.60" textLength="152.1" lengthAdjust="spacingAndGlyphs">generalization</text>
<text class="ti" x="1068.80" y="394.60" textLength="52.8" lengthAdjust="spacingAndGlyphs">error</text>
<text class="ti" x="1131.90" y="394.60" textLength="24.4" lengthAdjust="spacingAndGlyphs">(<tspan font-style="italic">β</tspan></text>
<text class="ti" x="1163.80" y="394.60" textLength="19.3" lengthAdjust="spacingAndGlyphs">=</text>
<text class="ti" x="1192.70" y="394.60" textLength="20.4" lengthAdjust="spacingAndGlyphs">5)</text>
<rect x="1215.10" y="406.60" width="12.00" height="240.30" fill="url(#jet)" stroke="#000" stroke-width="1.6"/>
<line x1="1227.10" y1="446.79" x2="1234.80" y2="446.79" stroke="#000" stroke-width="1.6"/>
<text class="t" x="1241.70" y="454.39" textLength="14.6" lengthAdjust="spacingAndGlyphs">−</text>
<text class="t" x="1256.80" y="454.39" textLength="10.9" lengthAdjust="spacingAndGlyphs">2</text>
<line x1="1227.10" y1="513.49" x2="1234.80" y2="513.49" stroke="#000" stroke-width="1.6"/>
<text class="t" x="1241.70" y="521.09" textLength="14.6" lengthAdjust="spacingAndGlyphs">−</text>
<text class="t" x="1256.80" y="521.09" textLength="10.9" lengthAdjust="spacingAndGlyphs">4</text>
<line x1="1227.10" y1="580.20" x2="1234.80" y2="580.20" stroke="#000" stroke-width="1.6"/>
<text class="t" x="1241.70" y="587.80" textLength="14.6" lengthAdjust="spacingAndGlyphs">−</text>
<text class="t" x="1256.80" y="587.80" textLength="10.9" lengthAdjust="spacingAndGlyphs">6</text>
<line x1="1227.10" y1="646.90" x2="1234.80" y2="646.90" stroke="#000" stroke-width="1.6"/>
<text class="t" x="1241.70" y="654.50" textLength="14.6" lengthAdjust="spacingAndGlyphs">−</text>
<text class="t" x="1256.80" y="654.50" textLength="10.9" lengthAdjust="spacingAndGlyphs">8</text>
<g transform="translate(1294.70 526.75) rotate(-90)">
<text class="l" x="-43.05" y="0.00" textLength="24.1" lengthAdjust="spacingAndGlyphs">log</text>
<text class="l" x="-11.10" y="0.00" textLength="16.2" lengthAdjust="spacingAndGlyphs"><tspan font-style="italic">E</tspan></text>
<text class="s" x="5.35" y="3.20" textLength="8.6" lengthAdjust="spacingAndGlyphs">v</text>
<text class="l" x="16.27" y="0.00" textLength="25.5" lengthAdjust="spacingAndGlyphs">(<tspan font-style="italic">θ</tspan>)</text>
</g>
<g shape-rendering="crispEdges">
<rect x="87.00" y="767.00" width="9.40" height="22.30" fill="#800000"/>
<rect x="96.00" y="767.00" width="9.40" height="22.30" fill="#0000d6"/>
<rect x="105.00" y="767.00" width="18.40" height="22.30" fill="#000080"/>
<rect x="123.00" y="767.00" width="9.40" height="22.30" fill="#0000b6"/>
<rect x="132.00" y="767.00" width="9.40" height="22.30" fill="#0000f1"/>
<rect x="141.00" y="767.00" width="9.40" height="22.30" fill="#00e4f8"/>
<rect x="150.00" y="767.00" width="9.40" height="22.30" fill="#ceff29"/>
<rect x="159.00" y="767.00" width="9.40" height="22.30" fill="#f8f500"/>
<rect x="168.00" y="767.00" width="9.40" height="22.30" fill="#ffc400"/>
<rect x="177.00" y="767.00" width="9.40" height="22.30" fill="#ff6800"/>
<rect x="186.00" y="767.00" width="9.40" height="22.30" fill="#f10800"/>
<rect x="195.00" y="767.00" width="9.40" height="22.30" fill="#ff6800"/>
<rect x="204.00" y="767.00" width="9.40" height="22.30" fill="#ceff29"/>
<rect x="213.00" y="767.00" width="9.40" height="22.30" fill="#ff3800"/>
<rect x="222.00" y="767.00" width="18.40" height="22.30" fill="#f10800"/>
<rect x="240.00" y="767.00" width="9.40" height="22.30" fill="#ff9400"/>
<rect x="249.00" y="767.00" width="9.40" height="22.30" fill="#ffae00"/>
<rect x="258.00" y="767.00" width="18.40" height="22.30" fill="#ff9400"/>
<rect x="276.00" y="767.00" width="9.40" height="22.30" fill="#ffae00"/>
<rect x="285.00" y="767.00" width="9.40" height="22.30" fill="#ff9400"/>
<rect x="294.00" y="767.00" width="9.40" height="22.30" fill="#7dff7a"/>
<rect x="303.00" y="767.00" width="9.40" height="22.30" fill="#ffc400"/>
<rect x="312.00" y="767.00" width="9.40" height="22.30" fill="#7dff7a"/>
<rect x="321.00" y="767.00" width="9.40" height="22.30" fill="#a4ff53"/>
<rect x="330.00" y="767.00" width="9.40" height="22.30" fill="#ff9400"/>
<rect x="339.00" y="767.00" width="9.40" height="22.30" fill="#f8f500"/>
<rect x="348.00" y="767.00" width="9.40" height="22.30" fill="#ff6800"/>
<rect x="357.00" y="767.00" width="9.40" height="22.30" fill="#ff9400"/>
<rect x="366.00" y="767.00" width="9.40" height="22.30" fill="#f10800"/>
<rect x="375.00" y="767.00" width="9.40" height="22.30" fill="#ff9400"/>
<rect x="384.00" y="767.00" width="9.40" height="22.30" fill="#ff6800"/>
<rect x="393.00" y="767.00" width="9.40" height="22.30" fill="#ff3800"/>
<rect x="402.00" y="767.00" width="9.40" height="22.30" fill="#ff6800"/>
<rect x="411.00" y="767.00" width="9.40" height="22.30" fill="#b60000"/>
<rect x="420.00" y="767.00" width="108.40" height="22.30" fill="#800000"/>
<rect x="87.00" y="788.90" width="9.40" height="22.30" fill="#800000"/>
<rect x="96.00" y="788.90" width="9.40" height="22.30" fill="#004cff"/>
<rect x="105.00" y="788.90" width="27.40" height="22.30" fill="#000080"/>
<rect x="132.00" y="788.90" width="9.40" height="22.30" fill="#0000b6"/>
<rect x="141.00" y="788.90" width="9.40" height="22.30" fill="#a4ff53"/>
<rect x="150.00" y="788.90" width="9.40" height="22.30" fill="#f8f500"/>
<rect x="159.00" y="788.90" width="18.40" height="22.30" fill="#ffc400"/>
<rect x="177.00" y="788.90" width="9.40" height="22.30" fill="#ceff29"/>
<rect x="186.00" y="788.90" width="9.40" height="22.30" fill="#ffc400"/>
<rect x="195.00" y="788.90" width="36.40" height="22.30" fill="#f10800"/>
<rect x="231.00" y="788.90" width="9.40" height="22.30" fill="#ff6800"/>
<rect x="240.00" y="788.90" width="9.40" height="22.30" fill="#f10800"/>
<rect x="249.00" y="788.90" width="9.40" height="22.30" fill="#ffae00"/>
<rect x="258.00" y="788.90" width="9.40" height="22.30" fill="#ff9400"/>
<rect x="267.00" y="788.90" width="9.40" height="22.30" fill="#f8f500"/>
<rect x="276.00" y="788.90" width="9.40" height="22.30" fill="#ff6800"/>
<rect x="285.00" y="788.90" width="9.40" height="22.30" fill="#ffae00"/>
<rect x="294.00" y="788.90" width="9.40" height="22.30" fill="#ff6800"/>
<rect x="303.00" y="788.90" width="9.40" height="22.30" fill="#f8f500"/>
<rect x="312.00" y="788.90" width="9.40" height="22.30" fill="#00e4f8"/>
<rect x="321.00" y="788.90" width="9.40" height="22.30" fill="#f8f500"/>
<rect x="330.00" y="788.90" width="9.40" height="22.30" fill="#ffc400"/>
<rect x="339.00" y="788.90" width="9.40" height="22.30" fill="#ff9400"/>
<rect x="348.00" y="788.90" width="18.40" height="22.30" fill="#f10800"/>
<rect x="366.00" y="788.90" width="9.40" height="22.30" fill="#ceff29"/>
<rect x="375.00" y="788.90" width="9.40" height="22.30" fill="#ff3800"/>
<rect x="384.00" y="788.90" width="9.40" height="22.30" fill="#f8f500"/>
<rect x="393.00" y="788.90" width="9.40" height="22.30" fill="#f10800"/>
<rect x="402.00" y="788.90" width="9.40" height="22.30" fill="#ff3800"/>
<rect x="411.00" y="788.90" width="9.40" height="22.30" fill="#b60000"/>
<rect x="420.00" y="788.90" width="18.40" height="22.30" fill="#800000"/>
<rect x="438.00" y="788.90" width="9.40" height="22.30" fill="#f10800"/>
<rect x="447.00" y="788.90" width="81.40" height="22.30" fill="#800000"/>
<rect x="87.00" y="810.80" width="9.40" height="22.30" fill="#800000"/>
<rect x="96.00" y="810.80" width="9.40" height="22.30" fill="#00b0ff"/>
<rect x="105.00" y="810.80" width="27.40" height="22.30" fill="#000080"/>
<rect x="132.00" y="810.80" width="9.40" height="22.30" fill="#0080ff"/>
<rect x="141.00" y="810.80" width="9.40" height="22.30" fill="#53ffa4"/>
<rect x="150.00" y="810.80" width="9.40" height="22.30" fill="#f8f500"/>
<rect x="159.00" y="810.80" width="9.40" height="22.30" fill="#ffc400"/>
<rect x="168.00" y="810.80" width="9.40" height="22.30" fill="#f8f500"/>
<rect x="177.00" y="810.80" width="9.40" height="22.30" fill="#ff9400"/>
<rect x="186.00" y="810.80" width="18.40" height="22.30" fill="#ff3800"/>
<rect x="204.00" y="810.80" width="9.40" height="22.30" fill="#f10800"/>
<rect x="213.00" y="810.80" width="9.40" height="22.30" fill="#b60000"/>
<rect x="222.00" y="810.80" width="9.40" height="22.30" fill="#f10800"/>
<rect x="231.00" y="810.80" width="9.40" height="22.30" fill="#ff3800"/>
<rect x="240.00" y="810.80" width="18.40" height="22.30" fill="#ff9400"/>
<rect x="258.00" y="810.80" width="9.40" height="22.30" fill="#7dff7a"/>
<rect x="267.00" y="810.80" width="36.40" height="22.30" fill="#f8f500"/>
<rect x="303.00" y="810.80" width="9.40" height="22.30" fill="#53ffa4"/>
<rect x="312.00" y="810.80" width="18.40" height="22.30" fill="#a4ff53"/>
<rect x="330.00" y="810.80" width="9.40" height="22.30" fill="#ffc400"/>
<rect x="339.00" y="810.80" width="9.40" height="22.30" fill="#ff9400"/>
<rect x="348.00" y="810.80" width="9.40" height="22.30" fill="#ffc400"/>
<rect x="357.00" y="810.80" width="9.40" height="22.30" fill="#ff6800"/>
<rect x="366.00" y="810.80" width="9.40" height="22.30" fill="#ff9400"/>
<rect x="375.00" y="810.80" width="9.40" height="22.30" fill="#ceff29"/>
<rect x="384.00" y="810.80" width="9.40" height="22.30" fill="#f10800"/>
<rect x="393.00" y="810.80" width="9.40" height="22.30" fill="#ff9400"/>
<rect x="402.00" y="810.80" width="9.40" height="22.30" fill="#ff3800"/>
<rect x="411.00" y="810.80" width="27.40" height="22.30" fill="#b60000"/>
<rect x="438.00" y="810.80" width="90.40" height="22.30" fill="#800000"/>
<rect x="87.00" y="832.70" width="9.40" height="22.30" fill="#800000"/>
<rect x="96.00" y="832.70" width="9.40" height="22.30" fill="#53ffa4"/>
<rect x="105.00" y="832.70" width="18.40" height="22.30" fill="#000080"/>
<rect x="123.00" y="832.70" width="9.40" height="22.30" fill="#0000b6"/>
<rect x="132.00" y="832.70" width="9.40" height="22.30" fill="#0080ff"/>
<rect x="141.00" y="832.70" width="9.40" height="22.30" fill="#53ffa4"/>
<rect x="150.00" y="832.70" width="9.40" height="22.30" fill="#ceff29"/>
<rect x="159.00" y="832.70" width="9.40" height="22.30" fill="#ff6800"/>
<rect x="168.00" y="832.70" width="9.40" height="22.30" fill="#f8f500"/>
<rect x="177.00" y="832.70" width="9.40" height="22.30" fill="#b60000"/>
<rect x="186.00" y="832.70" width="9.40" height="22.30" fill="#ff3800"/>
<rect x="195.00" y="832.70" width="9.40" height="22.30" fill="#f10800"/>
<rect x="204.00" y="832.70" width="9.40" height="22.30" fill="#ff9400"/>
<rect x="213.00" y="832.70" width="9.40" height="22.30" fill="#ff3800"/>
<rect x="222.00" y="832.70" width="9.40" height="22.30" fill="#ff4e00"/>
<rect x="231.00" y="832.70" width="9.40" height="22.30" fill="#ff3800"/>
<rect x="240.00" y="832.70" width="18.40" height="22.30" fill="#ceff29"/>
<rect x="258.00" y="832.70" width="9.40" height="22.30" fill="#f8f500"/>
<rect x="267.00" y="832.70" width="9.40" height="22.30" fill="#90ff66"/>
<rect x="276.00" y="832.70" width="9.40" height="22.30" fill="#ceff29"/>
<rect x="285.00" y="832.70" width="18.40" height="22.30" fill="#f8f500"/>
<rect x="303.00" y="832.70" width="9.40" height="22.30" fill="#53ffa4"/>
<rect x="312.00" y="832.70" width="9.40" height="22.30" fill="#f8f500"/>
<rect x="321.00" y="832.70" width="9.40" height="22.30" fill="#53ffa4"/>
<rect x="330.00" y="832.70" width="9.40" height="22.30" fill="#ff6800"/>
<rect x="339.00" y="832.70" width="9.40" height="22.30" fill="#f8f500"/>
<rect x="348.00" y="832.70" width="9.40" height="22.30" fill="#ffc400"/>
<rect x="357.00" y="832.70" width="9.40" height="22.30" fill="#800000"/>
<rect x="366.00" y="832.70" width="9.40" height="22.30" fill="#ff3800"/>
<rect x="375.00" y="832.70" width="9.40" height="22.30" fill="#f10800"/>
<rect x="384.00" y="832.70" width="9.40" height="22.30" fill="#ffc400"/>
<rect x="393.00" y="832.70" width="18.40" height="22.30" fill="#ff3800"/>
<rect x="411.00" y="832.70" width="9.40" height="22.30" fill="#b60000"/>
<rect x="420.00" y="832.70" width="9.40" height="22.30" fill="#f10800"/>
<rect x="429.00" y="832.70" width="9.40" height="22.30" fill="#b60000"/>
<rect x="438.00" y="832.70" width="90.40" height="22.30" fill="#800000"/>
<rect x="87.00" y="854.60" width="9.40" height="22.30" fill="#800000"/>
<rect x="96.00" y="854.60" width="9.40" height="22.30" fill="#ff9400"/>
<rect x="105.00" y="854.60" width="36.40" height="22.30" fill="#000080"/>
<rect x="141.00" y="854.60" width="9.40" height="22.30" fill="#00b0ff"/>
<rect x="150.00" y="854.60" width="9.40" height="22.30" fill="#53ffa4"/>
<rect x="159.00" y="854.60" width="9.40" height="22.30" fill="#f8f500"/>
<rect x="168.00" y="854.60" width="9.40" height="22.30" fill="#ffc400"/>
<rect x="177.00" y="854.60" width="9.40" height="22.30" fill="#ff3800"/>
<rect x="186.00" y="854.60" width="18.40" height="22.30" fill="#f10800"/>
<rect x="204.00" y="854.60" width="9.40" height="22.30" fill="#ff9400"/>
<rect x="213.00" y="854.60" width="9.40" height="22.30" fill="#b60000"/>
<rect x="222.00" y="854.60" width="9.40" height="22.30" fill="#ff6800"/>
<rect x="231.00" y="854.60" width="27.40" height="22.30" fill="#ff3800"/>
<rect x="258.00" y="854.60" width="9.40" height="22.30" fill="#ceff29"/>
<rect x="267.00" y="854.60" width="9.40" height="22.30" fill="#ff9400"/>
<rect x="276.00" y="854.60" width="9.40" height="22.30" fill="#ff6800"/>
<rect x="285.00" y="854.60" width="9.40" height="22.30" fill="#ceff29"/>
<rect x="294.00" y="854.60" width="9.40" height="22.30" fill="#e4ff13"/>
<rect x="303.00" y="854.60" width="9.40" height="22.30" fill="#f8f500"/>
<rect x="312.00" y="854.60" width="9.40" height="22.30" fill="#29ffce"/>
<rect x="321.00" y="854.60" width="9.40" height="22.30" fill="#a4ff53"/>
<rect x="330.00" y="854.60" width="9.40" height="22.30" fill="#ff4e00"/>
<rect x="339.00" y="854.60" width="18.40" height="22.30" fill="#ffc400"/>
<rect x="357.00" y="854.60" width="9.40" height="22.30" fill="#b60000"/>
<rect x="366.00" y="854.60" width="9.40" height="22.30" fill="#ff6800"/>
<rect x="375.00" y="854.60" width="9.40" height="22.30" fill="#ff9400"/>
<rect x="384.00" y="854.60" width="9.40" height="22.30" fill="#ffc400"/>
<rect x="393.00" y="854.60" width="18.40" height="22.30" fill="#ff9400"/>
<rect x="411.00" y="854.60" width="9.40" height="22.30" fill="#f10800"/>
<rect x="420.00" y="854.60" width="9.40" height="22.30" fill="#800000"/>
<rect x="429.00" y="854.60" width="9.40" height="22.30" fill="#b60000"/>
<rect x="438.00" y="854.60" width="81.40" height="22.30" fill="#800000"/>
<rect x="519.00" y="854.60" width="9.40" height="22.30" fill="#b60000"/>
<rect x="87.00" y="876.50" width="9.40" height="22.30" fill="#800000"/>
<rect x="96.00" y="876.50" width="9.40" height="22.30" fill="#f10800"/>
<rect x="105.00" y="876.50" width="9.40" height="22.30" fill="#004cff"/>
<rect x="114.00" y="876.50" width="18.40" height="22.30" fill="#000080"/>
<rect x="132.00" y="876.50" width="9.40" height="22.30" fill="#0000b6"/>
<rect x="141.00" y="876.50" width="9.40" height="22.30" fill="#004cff"/>
<rect x="150.00" y="876.50" width="9.40" height="22.30" fill="#7dff7a"/>
<rect x="159.00" y="876.50" width="18.40" height="22.30" fill="#ceff29"/>
<rect x="177.00" y="876.50" width="9.40" height="22.30" fill="#ffc400"/>
<rect x="186.00" y="876.50" width="9.40" height="22.30" fill="#ff9400"/>
<rect x="195.00" y="876.50" width="9.40" height="22.30" fill="#f10800"/>
<rect x="204.00" y="876.50" width="9.40" height="22.30" fill="#800000"/>
<rect x="213.00" y="876.50" width="9.40" height="22.30" fill="#b60000"/>
<rect x="222.00" y="876.50" width="9.40" height="22.30" fill="#f10800"/>
<rect x="231.00" y="876.50" width="9.40" height="22.30" fill="#b60000"/>
<rect x="240.00" y="876.50" width="18.40" height="22.30" fill="#ff3800"/>
<rect x="258.00" y="876.50" width="9.40" height="22.30" fill="#f10800"/>
<rect x="267.00" y="876.50" width="9.40" height="22.30" fill="#ffc400"/>
<rect x="276.00" y="876.50" width="9.40" height="22.30" fill="#ceff29"/>
<rect x="285.00" y="876.50" width="9.40" height="22.30" fill="#ff3800"/>
<rect x="294.00" y="876.50" width="18.40" height="22.30" fill="#ffc400"/>
<rect x="312.00" y="876.50" width="9.40" height="22.30" fill="#00e4f8"/>
<rect x="321.00" y="876.50" width="18.40" height="22.30" fill="#ceff29"/>
<rect x="339.00" y="876.50" width="9.40" height="22.30" fill="#7dff7a"/>
<rect x="348.00" y="876.50" width="9.40" height="22.30" fill="#ffc400"/>
<rect x="357.00" y="876.50" width="9.40" height="22.30" fill="#ff9400"/>
<rect x="366.00" y="876.50" width="9.40" height="22.30" fill="#ffc400"/>
<rect x="375.00" y="876.50" width="9.40" height="22.30" fill="#ff3800"/>
<rect x="384.00" y="876.50" width="9.40" height="22.30" fill="#ff6800"/>
<rect x="393.00" y="876.50" width="9.40" height="22.30" fill="#ff9400"/>
<rect x="402.00" y="876.50" width="9.40" height="22.30" fill="#ff3800"/>
<rect x="411.00" y="876.50" width="9.40" height="22.30" fill="#ff6800"/>
<rect x="420.00" y="876.50" width="9.40" height="22.30" fill="#ff3800"/>
<rect x="429.00" y="876.50" width="9.40" height="22.30" fill="#800000"/>
<rect x="438.00" y="876.50" width="9.40" height="22.30" fill="#b60000"/>
<rect x="447.00" y="876.50" width="9.40" height="22.30" fill="#800000"/>
<rect x="456.00" y="876.50" width="9.40" height="22.30" fill="#f10800"/>
<rect x="465.00" y="876.50" width="9.40" height="22.30" fill="#b60000"/>
<rect x="474.00" y="876.50" width="9.40" height="22.30" fill="#800000"/>
<rect x="483.00" y="876.50" width="9.40" height="22.30" fill="#b60000"/>
<rect x="492.00" y="876.50" width="36.40" height="22.30" fill="#800000"/>
<rect x="87.00" y="898.40" width="18.40" height="22.30" fill="#800000"/>
<rect x="105.00" y="898.40" width="9.40" height="22.30" fill="#ff9400"/>
<rect x="114.00" y="898.40" width="9.40" height="22.30" fill="#0000b6"/>
<rect x="123.00" y="898.40" width="18.40" height="22.30" fill="#000080"/>
<rect x="141.00" y="898.40" width="18.40" height="22.30" fill="#0018ff"/>
<rect x="159.00" y="898.40" width="9.40" height="22.30" fill="#ceff29"/>
<rect x="168.00" y="898.40" width="9.40" height="22.30" fill="#ffc400"/>
<rect x="177.00" y="898.40" width="27.40" height="22.30" fill="#ff6800"/>
<rect x="204.00" y="898.40" width="9.40" height="22.30" fill="#ff3800"/>
<rect x="213.00" y="898.40" width="9.40" height="22.30" fill="#f10800"/>
<rect x="222.00" y="898.40" width="9.40" height="22.30" fill="#b60000"/>
<rect x="231.00" y="898.40" width="9.40" height="22.30" fill="#f10800"/>
<rect x="240.00" y="898.40" width="9.40" height="22.30" fill="#b60000"/>
<rect x="249.00" y="898.40" width="9.40" height="22.30" fill="#f10800"/>
<rect x="258.00" y="898.40" width="18.40" height="22.30" fill="#ff6800"/>
<rect x="276.00" y="898.40" width="9.40" height="22.30" fill="#b60000"/>
<rect x="285.00" y="898.40" width="9.40" height="22.30" fill="#f8f500"/>
<rect x="294.00" y="898.40" width="27.40" height="22.30" fill="#ff6800"/>
<rect x="321.00" y="898.40" width="9.40" height="22.30" fill="#a4ff53"/>
<rect x="330.00" y="898.40" width="9.40" height="22.30" fill="#53ffa4"/>
<rect x="339.00" y="898.40" width="9.40" height="22.30" fill="#00e4f8"/>
<rect x="348.00" y="898.40" width="9.40" height="22.30" fill="#a4ff53"/>
<rect x="357.00" y="898.40" width="9.40" height="22.30" fill="#ceff29"/>
<rect x="366.00" y="898.40" width="9.40" height="22.30" fill="#ffc400"/>
<rect x="375.00" y="898.40" width="27.40" height="22.30" fill="#ff9400"/>
<rect x="402.00" y="898.40" width="9.40" height="22.30" fill="#ff6800"/>
<rect x="411.00" y="898.40" width="9.40" height="22.30" fill="#b60000"/>
<rect x="420.00" y="898.40" width="9.40" height="22.30" fill="#ff3800"/>
<rect x="429.00" y="898.40" width="9.40" height="22.30" fill="#ff6800"/>
<rect x="438.00" y="898.40" width="9.40" height="22.30" fill="#ff3800"/>
<rect x="447.00" y="898.40" width="9.40" height="22.30" fill="#800000"/>
<rect x="456.00" y="898.40" width="9.40" height="22.30" fill="#b60000"/>
<rect x="465.00" y="898.40" width="63.40" height="22.30" fill="#800000"/>
<rect x="87.00" y="920.30" width="18.40" height="22.30" fill="#800000"/>
<rect x="105.00" y="920.30" width="9.40" height="22.30" fill="#b60000"/>
<rect x="114.00" y="920.30" width="9.40" height="22.30" fill="#a4ff53"/>
<rect x="123.00" y="920.30" width="9.40" height="22.30" fill="#0080ff"/>
<rect x="132.00" y="920.30" width="9.40" height="22.30" fill="#000080"/>
<rect x="141.00" y="920.30" width="9.40" height="22.30" fill="#0000b6"/>
<rect x="150.00" y="920.30" width="9.40" height="22.30" fill="#0018ff"/>
<rect x="159.00" y="920.30" width="9.40" height="22.30" fill="#00b0ff"/>
<rect x="168.00" y="920.30" width="9.40" height="22.30" fill="#7dff7a"/>
<rect x="177.00" y="920.30" width="9.40" height="22.30" fill="#ffc400"/>
<rect x="186.00" y="920.30" width="9.40" height="22.30" fill="#ff6800"/>
<rect x="195.00" y="920.30" width="9.40" height="22.30" fill="#f10800"/>
<rect x="204.00" y="920.30" width="9.40" height="22.30" fill="#ff3800"/>
<rect x="213.00" y="920.30" width="9.40" height="22.30" fill="#ff6800"/>
<rect x="222.00" y="920.30" width="9.40" height="22.30" fill="#ff3800"/>
<rect x="231.00" y="920.30" width="9.40" height="22.30" fill="#f10800"/>
<rect x="240.00" y="920.30" width="9.40" height="22.30" fill="#b60000"/>
<rect x="249.00" y="920.30" width="9.40" height="22.30" fill="#f10800"/>
<rect x="258.00" y="920.30" width="9.40" height="22.30" fill="#b60000"/>
<rect x="267.00" y="920.30" width="18.40" height="22.30" fill="#ff3800"/>
<rect x="285.00" y="920.30" width="9.40" height="22.30" fill="#ff9400"/>
<rect x="294.00" y="920.30" width="9.40" height="22.30" fill="#ff6800"/>
<rect x="303.00" y="920.30" width="9.40" height="22.30" fill="#f10800"/>
<rect x="312.00" y="920.30" width="18.40" height="22.30" fill="#ff6800"/>
<rect x="330.00" y="920.30" width="9.40" height="22.30" fill="#ff3800"/>
<rect x="339.00" y="920.30" width="9.40" height="22.30" fill="#f8f500"/>
<rect x="348.00" y="920.30" width="9.40" height="22.30" fill="#ffae00"/>
<rect x="357.00" y="920.30" width="9.40" height="22.30" fill="#7dff7a"/>
<rect x="366.00" y="920.30" width="9.40" height="22.30" fill="#f8f500"/>
<rect x="375.00" y="920.30" width="9.40" height="22.30" fill="#a4ff53"/>
<rect x="384.00" y="920.30" width="9.40" height="22.30" fill="#ffc400"/>
<rect x="393.00" y="920.30" width="9.40" height="22.30" fill="#7dff7a"/>
<rect x="402.00" y="920.30" width="9.40" height="22.30" fill="#ff3800"/>
<rect x="411.00" y="920.30" width="9.40" height="22.30" fill="#ff6800"/>
<rect x="420.00" y="920.30" width="9.40" height="22.30" fill="#ff3800"/>
<rect x="429.00" y="920.30" width="18.40" height="22.30" fill="#ff9400"/>
<rect x="447.00" y="920.30" width="9.40" height="22.30" fill="#f10800"/>
<rect x="456.00" y="920.30" width="9.40" height="22.30" fill="#ffc400"/>
<rect x="465.00" y="920.30" width="9.40" height="22.30" fill="#800000"/>
<rect x="474.00" y="920.30" width="18.40" height="22.30" fill="#f10800"/>
<rect x="492.00" y="920.30" width="9.40" height="22.30" fill="#b60000"/>
<rect x="501.00" y="920.30" width="27.40" height="22.30" fill="#800000"/>
<rect x="87.00" y="942.20" width="27.40" height="22.30" fill="#800000"/>
<rect x="114.00" y="942.20" width="9.40" height="22.30" fill="#b60000"/>
<rect x="123.00" y="942.20" width="9.40" height="22.30" fill="#f8f500"/>
<rect x="132.00" y="942.20" width="9.40" height="22.30" fill="#ffc400"/>
<rect x="141.00" y="942.20" width="9.40" height="22.30" fill="#29ffce"/>
<rect x="150.00" y="942.20" width="18.40" height="22.30" fill="#004cff"/>
<rect x="168.00" y="942.20" width="9.40" height="22.30" fill="#0000f1"/>
<rect x="177.00" y="942.20" width="9.40" height="22.30" fill="#0080ff"/>
<rect x="186.00" y="942.20" width="9.40" height="22.30" fill="#f8f500"/>
<rect x="195.00" y="942.20" width="9.40" height="22.30" fill="#ceff29"/>
<rect x="204.00" y="942.20" width="27.40" height="22.30" fill="#ff3800"/>
<rect x="231.00" y="942.20" width="9.40" height="22.30" fill="#800000"/>
<rect x="240.00" y="942.20" width="9.40" height="22.30" fill="#ff6800"/>
<rect x="249.00" y="942.20" width="9.40" height="22.30" fill="#f10800"/>
<rect x="258.00" y="942.20" width="9.40" height="22.30" fill="#ff3800"/>
<rect x="267.00" y="942.20" width="9.40" height="22.30" fill="#f10800"/>
<rect x="276.00" y="942.20" width="9.40" height="22.30" fill="#b60000"/>
<rect x="285.00" y="942.20" width="18.40" height="22.30" fill="#800000"/>
<rect x="303.00" y="942.20" width="18.40" height="22.30" fill="#f10800"/>
<rect x="321.00" y="942.20" width="9.40" height="22.30" fill="#ff3800"/>
<rect x="330.00" y="942.20" width="9.40" height="22.30" fill="#ff6800"/>
<rect x="339.00" y="942.20" width="9.40" height="22.30" fill="#ff3800"/>
<rect x="348.00" y="942.20" width="18.40" height="22.30" fill="#f10800"/>
<rect x="366.00" y="942.20" width="18.40" height="22.30" fill="#ff9400"/>
<rect x="384.00" y="942.20" width="9.40" height="22.30" fill="#baff3c"/>
<rect x="393.00" y="942.20" width="27.40" height="22.30" fill="#f8f500"/>
<rect x="420.00" y="942.20" width="18.40" height="22.30" fill="#ff9400"/>
<rect x="438.00" y="942.20" width="9.40" height="22.30" fill="#ffc400"/>
<rect x="447.00" y="942.20" width="9.40" height="22.30" fill="#f10800"/>
<rect x="456.00" y="942.20" width="9.40" height="22.30" fill="#ff9400"/>
<rect x="465.00" y="942.20" width="9.40" height="22.30" fill="#f8f500"/>
<rect x="474.00" y="942.20" width="9.40" height="22.30" fill="#ff9400"/>
<rect x="483.00" y="942.20" width="18.40" height="22.30" fill="#ff6800"/>
<rect x="501.00" y="942.20" width="9.40" height="22.30" fill="#ff9400"/>
<rect x="510.00" y="942.20" width="9.40" height="22.30" fill="#ff3800"/>
<rect x="519.00" y="942.20" width="9.40" height="22.30" fill="#b60000"/>
<rect x="87.00" y="964.10" width="9.40" height="22.30" fill="#f10800"/>
<rect x="96.00" y="964.10" width="9.40" height="22.30" fill="#b60000"/>
<rect x="105.00" y="964.10" width="36.40" height="22.30" fill="#800000"/>
<rect x="141.00" y="964.10" width="9.40" height="22.30" fill="#b60000"/>
<rect x="150.00" y="964.10" width="36.40" height="22.30" fill="#ff3800"/>
<rect x="186.00" y="964.10" width="9.40" height="22.30" fill="#ff9400"/>
<rect x="195.00" y="964.10" width="9.40" height="22.30" fill="#ffc400"/>
<rect x="204.00" y="964.10" width="9.40" height="22.30" fill="#a4ff53"/>
<rect x="213.00" y="964.10" width="9.40" height="22.30" fill="#53ffa4"/>
<rect x="222.00" y="964.10" width="9.40" height="22.30" fill="#29ffce"/>
<rect x="231.00" y="964.10" width="9.40" height="22.30" fill="#ceff29"/>
<rect x="240.00" y="964.10" width="18.40" height="22.30" fill="#ff6800"/>
<rect x="258.00" y="964.10" width="9.40" height="22.30" fill="#ff9400"/>
<rect x="267.00" y="964.10" width="9.40" height="22.30" fill="#ffc400"/>
<rect x="276.00" y="964.10" width="9.40" height="22.30" fill="#ff3800"/>
<rect x="285.00" y="964.10" width="9.40" height="22.30" fill="#f10800"/>
<rect x="294.00" y="964.10" width="9.40" height="22.30" fill="#ff3800"/>
<rect x="303.00" y="964.10" width="9.40" height="22.30" fill="#b60000"/>
<rect x="312.00" y="964.10" width="18.40" height="22.30" fill="#f10800"/>
<rect x="330.00" y="964.10" width="9.40" height="22.30" fill="#ff3800"/>
<rect x="339.00" y="964.10" width="18.40" height="22.30" fill="#f10800"/>
<rect x="357.00" y="964.10" width="9.40" height="22.30" fill="#b60000"/>
<rect x="366.00" y="964.10" width="54.40" height="22.30" fill="#800000"/>
<rect x="420.00" y="964.10" width="27.40" height="22.30" fill="#f10800"/>
<rect x="447.00" y="964.10" width="18.40" height="22.30" fill="#ff6800"/>
<rect x="465.00" y="964.10" width="18.40" height="22.30" fill="#ff3800"/>
<rect x="483.00" y="964.10" width="9.40" height="22.30" fill="#f10800"/>
<rect x="492.00" y="964.10" width="9.40" height="22.30" fill="#b60000"/>
<rect x="501.00" y="964.10" width="9.40" height="22.30" fill="#ff3800"/>
<rect x="510.00" y="964.10" width="18.40" height="22.30" fill="#ff6800"/>
<rect x="87.00" y="986.00" width="9.40" height="22.30" fill="#7dff7a"/>
<rect x="96.00" y="986.00" width="18.40" height="22.30" fill="#ff6800"/>
<rect x="114.00" y="986.00" width="27.40" height="22.30" fill="#f10800"/>
<rect x="141.00" y="986.00" width="54.40" height="22.30" fill="#b60000"/>
<rect x="195.00" y="986.00" width="9.40" height="22.30" fill="#800000"/>
<rect x="204.00" y="986.00" width="18.40" height="22.30" fill="#b60000"/>
<rect x="222.00" y="986.00" width="306.40" height="22.30" fill="#800000"/>
</g>
<path d="M234.40 769.42L239.50 778.22L234.40 787.02L229.30 778.22Z" fill="#fff" stroke="#000" stroke-width="1.85" stroke-linejoin="miter"/>
<text class="a" x="241.98" y="782.82" textLength="18.5" lengthAdjust="spacingAndGlyphs">40</text>
<text class="a" x="268.13" y="782.82" textLength="25.9" lengthAdjust="spacingAndGlyphs">[%]</text>
<path d="M241.90 791.27L247.00 800.07L241.90 808.87L236.80 800.07Z" fill="#fff" stroke="#000" stroke-width="1.85" stroke-linejoin="miter"/>
<text class="a" x="249.14" y="804.67" textLength="18.8" lengthAdjust="spacingAndGlyphs">50</text>
<text class="a" x="275.63" y="804.67" textLength="25.9" lengthAdjust="spacingAndGlyphs">[%]</text>
<path d="M271.20 813.11L276.30 821.91L271.20 830.71L266.10 821.91Z" fill="#fff" stroke="#000" stroke-width="1.85" stroke-linejoin="miter"/>
<text class="a" x="278.78" y="826.51" textLength="18.6" lengthAdjust="spacingAndGlyphs">45</text>
<text class="a" x="304.93" y="826.51" textLength="25.9" lengthAdjust="spacingAndGlyphs">[%]</text>
<path d="M245.50 834.96L250.60 843.76L245.50 852.56L240.40 843.76Z" fill="#fff" stroke="#000" stroke-width="1.85" stroke-linejoin="miter"/>
<text class="a" x="252.75" y="848.36" textLength="18.8" lengthAdjust="spacingAndGlyphs">50</text>
<text class="a" x="279.23" y="848.36" textLength="25.9" lengthAdjust="spacingAndGlyphs">[%]</text>
<path d="M261.10 856.80L266.20 865.60L261.10 874.40L256.00 865.60Z" fill="#fff" stroke="#000" stroke-width="1.85" stroke-linejoin="miter"/>
<text class="a" x="268.68" y="870.20" textLength="18.6" lengthAdjust="spacingAndGlyphs">45</text>
<text class="a" x="294.83" y="870.20" textLength="25.9" lengthAdjust="spacingAndGlyphs">[%]</text>
<path d="M268.80 878.65L273.90 887.45L268.80 896.25L263.70 887.45Z" fill="#fff" stroke="#000" stroke-width="1.85" stroke-linejoin="miter"/>
<text class="a" x="276.05" y="892.05" textLength="18.9" lengthAdjust="spacingAndGlyphs">55</text>
<text class="a" x="302.53" y="892.05" textLength="25.9" lengthAdjust="spacingAndGlyphs">[%]</text>
<path d="M274.00 900.50L279.10 909.30L274.00 918.10L268.90 909.30Z" fill="#fff" stroke="#000" stroke-width="1.85" stroke-linejoin="miter"/>
<text class="a" x="281.25" y="913.90" textLength="18.8" lengthAdjust="spacingAndGlyphs">60</text>
<text class="a" x="307.73" y="913.90" textLength="25.9" lengthAdjust="spacingAndGlyphs">[%]</text>
<path d="M301.50 922.34L306.60 931.14L301.50 939.94L296.40 931.14Z" fill="#fff" stroke="#000" stroke-width="1.85" stroke-linejoin="miter"/>
<text class="a" x="308.75" y="935.74" textLength="18.9" lengthAdjust="spacingAndGlyphs">65</text>
<text class="a" x="335.23" y="935.74" textLength="25.9" lengthAdjust="spacingAndGlyphs">[%]</text>
<path d="M332.20 944.19L337.30 952.99L332.20 961.79L327.10 952.99Z" fill="#fff" stroke="#000" stroke-width="1.85" stroke-linejoin="miter"/>
<text class="a" x="339.44" y="957.59" textLength="18.8" lengthAdjust="spacingAndGlyphs">60</text>
<text class="a" x="365.93" y="957.59" textLength="25.9" lengthAdjust="spacingAndGlyphs">[%]</text>
<path d="M425.30 966.03L430.40 974.83L425.30 983.63L420.20 974.83Z" fill="#fff" stroke="#000" stroke-width="1.85" stroke-linejoin="miter"/>
<text class="a" x="432.73" y="979.43" textLength="18.6" lengthAdjust="spacingAndGlyphs">70</text>
<text class="a" x="459.03" y="979.43" textLength="25.9" lengthAdjust="spacingAndGlyphs">[%]</text>
<rect x="87.80" y="767.30" width="440.00" height="240.30" fill="none" stroke="#000" stroke-width="1.6"/>
<line x1="87.80" y1="1007.60" x2="87.80" y2="1015.30" stroke="#000" stroke-width="1.6"/>
<text class="t" x="86.75" y="1037.40" text-anchor="middle" textLength="11.2" lengthAdjust="spacingAndGlyphs">0</text>
<line x1="177.60" y1="1007.60" x2="177.60" y2="1015.30" stroke="#000" stroke-width="1.6"/>
<text class="t" x="176.10" y="1037.40" text-anchor="middle" textLength="22.4" lengthAdjust="spacingAndGlyphs">10</text>
<line x1="267.39" y1="1007.60" x2="267.39" y2="1015.30" stroke="#000" stroke-width="1.6"/>
<text class="t" x="265.89" y="1037.40" text-anchor="middle" textLength="22.4" lengthAdjust="spacingAndGlyphs">20</text>
<line x1="357.19" y1="1007.60" x2="357.19" y2="1015.30" stroke="#000" stroke-width="1.6"/>
<text class="t" x="355.69" y="1037.40" text-anchor="middle" textLength="22.4" lengthAdjust="spacingAndGlyphs">30</text>
<line x1="446.98" y1="1007.60" x2="446.98" y2="1015.30" stroke="#000" stroke-width="1.6"/>
<text class="t" x="445.48" y="1037.40" text-anchor="middle" textLength="22.4" lengthAdjust="spacingAndGlyphs">40</text>
<line x1="80.10" y1="996.68" x2="87.80" y2="996.68" stroke="#000" stroke-width="1.6"/>
<text class="t" x="71.80" y="1004.28" text-anchor="end" textLength="10.9" lengthAdjust="spacingAndGlyphs">0</text>
<line x1="80.10" y1="952.99" x2="87.80" y2="952.99" stroke="#000" stroke-width="1.6"/>
<text class="t" x="71.80" y="960.59" text-anchor="end" textLength="32.8" lengthAdjust="spacingAndGlyphs">100</text>
<line x1="80.10" y1="909.30" x2="87.80" y2="909.30" stroke="#000" stroke-width="1.6"/>
<text class="t" x="71.80" y="916.90" text-anchor="end" textLength="32.8" lengthAdjust="spacingAndGlyphs">200</text>
<line x1="80.10" y1="865.60" x2="87.80" y2="865.60" stroke="#000" stroke-width="1.6"/>
<text class="t" x="71.80" y="873.20" text-anchor="end" textLength="32.8" lengthAdjust="spacingAndGlyphs">300</text>
<line x1="80.10" y1="821.91" x2="87.80" y2="821.91" stroke="#000" stroke-width="1.6"/>
<text class="t" x="71.80" y="829.51" text-anchor="end" textLength="32.8" lengthAdjust="spacingAndGlyphs">400</text>
<line x1="80.10" y1="778.22" x2="87.80" y2="778.22" stroke="#000" stroke-width="1.6"/>
<text class="t" x="71.80" y="785.82" text-anchor="end" textLength="32.8" lengthAdjust="spacingAndGlyphs">500</text>
<text class="l" x="251.72" y="1065.70" textLength="32.4" lengthAdjust="spacingAndGlyphs">BO</text>
<text class="l" x="289.98" y="1065.70" textLength="48.3" lengthAdjust="spacingAndGlyphs">steps</text>
<text class="l" x="345.73" y="1065.70" textLength="7.4" lengthAdjust="spacingAndGlyphs"><tspan font-style="italic">t</tspan></text>
<text class="s" x="353.91" y="1068.70" textLength="8.4" lengthAdjust="spacingAndGlyphs">b</text>
<g transform="translate(25.20 887.45) rotate(-90)">
<text class="l" x="-126.07" y="0.00" textLength="93.8" lengthAdjust="spacingAndGlyphs">Maximum</text>
<text class="l" x="-24.88" y="0.00" textLength="32.6" lengthAdjust="spacingAndGlyphs">GD</text>
<text class="l" x="11.06" y="0.00" textLength="86.1" lengthAdjust="spacingAndGlyphs">iteration</text>
<text class="l" x="104.05" y="0.00" textLength="15.2" lengthAdjust="spacingAndGlyphs"><tspan font-style="italic">T</tspan></text>
<text class="s" x="117.19" y="3.20" textLength="7.8" lengthAdjust="spacingAndGlyphs">g</text>
</g>
<text class="ti" x="95.30" y="755.30" textLength="36.1" lengthAdjust="spacingAndGlyphs">(E)</text>
<text class="ti" x="140.60" y="755.30" textLength="155.2" lengthAdjust="spacingAndGlyphs">Neighborhood</text>
<text class="ti" x="303.50" y="755.30" textLength="68.4" lengthAdjust="spacingAndGlyphs">search</text>
<text class="ti" x="381.95" y="755.30" textLength="43.3" lengthAdjust="spacingAndGlyphs">rate</text>
<text class="ti" x="434.70" y="755.30" textLength="24.4" lengthAdjust="spacingAndGlyphs">(<tspan font-style="italic">β</tspan></text>
<text class="ti" x="466.50" y="755.30" textLength="18.9" lengthAdjust="spacingAndGlyphs">=</text>
<text class="ti" x="493.00" y="755.30" textLength="22.5" lengthAdjust="spacingAndGlyphs">1)</text>
<rect x="555.00" y="767.30" width="12.00" height="240.30" fill="url(#jet)" stroke="#000" stroke-width="1.6"/>
<line x1="567.00" y1="1007.60" x2="574.70" y2="1007.60" stroke="#000" stroke-width="1.6"/>
<text class="t" x="581.30" y="1015.20" textLength="28.2" lengthAdjust="spacingAndGlyphs">0.0</text>
<line x1="567.00" y1="959.54" x2="574.70" y2="959.54" stroke="#000" stroke-width="1.6"/>
<text class="t" x="581.30" y="967.14" textLength="28.2" lengthAdjust="spacingAndGlyphs">0.2</text>
<line x1="567.00" y1="911.48" x2="574.70" y2="911.48" stroke="#000" stroke-width="1.6"/>
<text class="t" x="581.30" y="919.08" textLength="28.2" lengthAdjust="spacingAndGlyphs">0.4</text>
<line x1="567.00" y1="863.42" x2="574.70" y2="863.42" stroke="#000" stroke-width="1.6"/>
<text class="t" x="581.30" y="871.02" textLength="28.2" lengthAdjust="spacingAndGlyphs">0.6</text>
<line x1="567.00" y1="815.36" x2="574.70" y2="815.36" stroke="#000" stroke-width="1.6"/>
<text class="t" x="581.30" y="822.96" textLength="28.2" lengthAdjust="spacingAndGlyphs">0.8</text>
<line x1="567.00" y1="767.30" x2="574.70" y2="767.30" stroke="#000" stroke-width="1.6"/>
<text class="t" x="581.30" y="774.90" textLength="28.2" lengthAdjust="spacingAndGlyphs">1.0</text>
<g transform="translate(633.10 887.95) rotate(-90)">
<text class="l" x="-22.28" y="0.00" textLength="44.7" lengthAdjust="spacingAndGlyphs">Rate</text>
</g>
<g shape-rendering="crispEdges">
<rect x="747.10" y="767.00" width="81.40" height="22.30" fill="#000080"/>
<rect x="828.10" y="767.00" width="27.40" height="22.30" fill="#0000b6"/>
<rect x="855.10" y="767.00" width="9.40" height="22.30" fill="#0000f1"/>
<rect x="864.10" y="767.00" width="18.40" height="22.30" fill="#0000b6"/>
<rect x="882.10" y="767.00" width="9.40" height="22.30" fill="#0000f1"/>
<rect x="891.10" y="767.00" width="18.40" height="22.30" fill="#0000b6"/>
<rect x="909.10" y="767.00" width="18.40" height="22.30" fill="#00009b"/>
<rect x="927.10" y="767.00" width="9.40" height="22.30" fill="#0000f1"/>
<rect x="936.10" y="767.00" width="9.40" height="22.30" fill="#0018ff"/>
<rect x="945.10" y="767.00" width="9.40" height="22.30" fill="#004cff"/>
<rect x="954.10" y="767.00" width="9.40" height="22.30" fill="#0080ff"/>
<rect x="963.10" y="767.00" width="9.40" height="22.30" fill="#7dff7a"/>
<rect x="972.10" y="767.00" width="9.40" height="22.30" fill="#a4ff53"/>
<rect x="981.10" y="767.00" width="27.40" height="22.30" fill="#7dff7a"/>
<rect x="1008.10" y="767.00" width="9.40" height="22.30" fill="#ceff29"/>
<rect x="1017.10" y="767.00" width="9.40" height="22.30" fill="#0080ff"/>
<rect x="1026.10" y="767.00" width="18.40" height="22.30" fill="#00e4f8"/>
<rect x="1044.10" y="767.00" width="9.40" height="22.30" fill="#29ffce"/>
<rect x="1053.10" y="767.00" width="9.40" height="22.30" fill="#66ff90"/>
<rect x="1062.10" y="767.00" width="9.40" height="22.30" fill="#ff9400"/>
<rect x="1071.10" y="767.00" width="9.40" height="22.30" fill="#ffc400"/>
<rect x="1080.10" y="767.00" width="9.40" height="22.30" fill="#b60000"/>
<rect x="1089.10" y="767.00" width="9.40" height="22.30" fill="#f10800"/>
<rect x="1098.10" y="767.00" width="27.40" height="22.30" fill="#b60000"/>
<rect x="1125.10" y="767.00" width="18.40" height="22.30" fill="#800000"/>
<rect x="1143.10" y="767.00" width="9.40" height="22.30" fill="#f10800"/>
<rect x="1152.10" y="767.00" width="36.40" height="22.30" fill="#800000"/>
<rect x="747.10" y="788.90" width="81.40" height="22.30" fill="#000080"/>
<rect x="828.10" y="788.90" width="18.40" height="22.30" fill="#0000b6"/>
<rect x="846.10" y="788.90" width="9.40" height="22.30" fill="#0000f1"/>
<rect x="855.10" y="788.90" width="9.40" height="22.30" fill="#0080ff"/>
<rect x="864.10" y="788.90" width="18.40" height="22.30" fill="#004cff"/>
<rect x="882.10" y="788.90" width="9.40" height="22.30" fill="#0000b6"/>
<rect x="891.10" y="788.90" width="9.40" height="22.30" fill="#0018ff"/>
<rect x="900.10" y="788.90" width="9.40" height="22.30" fill="#0000f1"/>
<rect x="909.10" y="788.90" width="18.40" height="22.30" fill="#0000b6"/>
<rect x="927.10" y="788.90" width="9.40" height="22.30" fill="#0080ff"/>
<rect x="936.10" y="788.90" width="9.40" height="22.30" fill="#000080"/>
<rect x="945.10" y="788.90" width="18.40" height="22.30" fill="#0018ff"/>
<rect x="963.10" y="788.90" width="9.40" height="22.30" fill="#00e4f8"/>
<rect x="972.10" y="788.90" width="9.40" height="22.30" fill="#0080ff"/>
<rect x="981.10" y="788.90" width="9.40" height="22.30" fill="#a4ff53"/>
<rect x="990.10" y="788.90" width="9.40" height="22.30" fill="#00e4f8"/>
<rect x="999.10" y="788.90" width="9.40" height="22.30" fill="#90ff66"/>
<rect x="1008.10" y="788.90" width="9.40" height="22.30" fill="#a4ff53"/>
<rect x="1017.10" y="788.90" width="9.40" height="22.30" fill="#ffae00"/>
<rect x="1026.10" y="788.90" width="9.40" height="22.30" fill="#00e4f8"/>
<rect x="1035.10" y="788.90" width="9.40" height="22.30" fill="#0080ff"/>
<rect x="1044.10" y="788.90" width="18.40" height="22.30" fill="#29ffce"/>
<rect x="1062.10" y="788.90" width="9.40" height="22.30" fill="#7dff7a"/>
<rect x="1071.10" y="788.90" width="9.40" height="22.30" fill="#f8f500"/>
<rect x="1080.10" y="788.90" width="18.40" height="22.30" fill="#ff6800"/>
<rect x="1098.10" y="788.90" width="27.40" height="22.30" fill="#f10800"/>
<rect x="1125.10" y="788.90" width="18.40" height="22.30" fill="#800000"/>
<rect x="1143.10" y="788.90" width="9.40" height="22.30" fill="#b60000"/>
<rect x="1152.10" y="788.90" width="27.40" height="22.30" fill="#800000"/>
<rect x="1179.10" y="788.90" width="9.40" height="22.30" fill="#b60000"/>
<rect x="747.10" y="810.80" width="72.40" height="22.30" fill="#000080"/>
<rect x="819.10" y="810.80" width="9.40" height="22.30" fill="#0018ff"/>
<rect x="828.10" y="810.80" width="9.40" height="22.30" fill="#0000f1"/>
<rect x="837.10" y="810.80" width="9.40" height="22.30" fill="#0000b6"/>
<rect x="846.10" y="810.80" width="9.40" height="22.30" fill="#0080ff"/>
<rect x="855.10" y="810.80" width="9.40" height="22.30" fill="#0018ff"/>
<rect x="864.10" y="810.80" width="9.40" height="22.30" fill="#004cff"/>
<rect x="873.10" y="810.80" width="27.40" height="22.30" fill="#0000f1"/>
<rect x="900.10" y="810.80" width="9.40" height="22.30" fill="#0000b6"/>
<rect x="909.10" y="810.80" width="18.40" height="22.30" fill="#0000f1"/>
<rect x="927.10" y="810.80" width="9.40" height="22.30" fill="#0000b6"/>
<rect x="936.10" y="810.80" width="9.40" height="22.30" fill="#004cff"/>
<rect x="945.10" y="810.80" width="9.40" height="22.30" fill="#0000f1"/>
<rect x="954.10" y="810.80" width="9.40" height="22.30" fill="#00b0ff"/>
<rect x="963.10" y="810.80" width="9.40" height="22.30" fill="#a4ff53"/>
<rect x="972.10" y="810.80" width="9.40" height="22.30" fill="#ceff29"/>
<rect x="981.10" y="810.80" width="9.40" height="22.30" fill="#0080ff"/>
<rect x="990.10" y="810.80" width="18.40" height="22.30" fill="#7dff7a"/>
<rect x="1008.10" y="810.80" width="9.40" height="22.30" fill="#00e4f8"/>
<rect x="1017.10" y="810.80" width="9.40" height="22.30" fill="#53ffa4"/>
<rect x="1026.10" y="810.80" width="9.40" height="22.30" fill="#29ffce"/>
<rect x="1035.10" y="810.80" width="9.40" height="22.30" fill="#7dff7a"/>
<rect x="1044.10" y="810.80" width="9.40" height="22.30" fill="#00b0ff"/>
<rect x="1053.10" y="810.80" width="9.40" height="22.30" fill="#00e4f8"/>
<rect x="1062.10" y="810.80" width="9.40" height="22.30" fill="#7dff7a"/>
<rect x="1071.10" y="810.80" width="18.40" height="22.30" fill="#ff6800"/>
<rect x="1089.10" y="810.80" width="9.40" height="22.30" fill="#ff3800"/>
<rect x="1098.10" y="810.80" width="9.40" height="22.30" fill="#b60000"/>
<rect x="1107.10" y="810.80" width="9.40" height="22.30" fill="#ff6800"/>
<rect x="1116.10" y="810.80" width="9.40" height="22.30" fill="#800000"/>
<rect x="1125.10" y="810.80" width="9.40" height="22.30" fill="#b60000"/>
<rect x="1134.10" y="810.80" width="9.40" height="22.30" fill="#ff6800"/>
<rect x="1143.10" y="810.80" width="9.40" height="22.30" fill="#800000"/>
<rect x="1152.10" y="810.80" width="9.40" height="22.30" fill="#b60000"/>
<rect x="1161.10" y="810.80" width="9.40" height="22.30" fill="#800000"/>
<rect x="1170.10" y="810.80" width="9.40" height="22.30" fill="#b60000"/>
<rect x="1179.10" y="810.80" width="9.40" height="22.30" fill="#800000"/>
<rect x="747.10" y="832.70" width="72.40" height="22.30" fill="#000080"/>
<rect x="819.10" y="832.70" width="18.40" height="22.30" fill="#0000f1"/>
<rect x="837.10" y="832.70" width="9.40" height="22.30" fill="#004cff"/>
<rect x="846.10" y="832.70" width="9.40" height="22.30" fill="#0018ff"/>
<rect x="855.10" y="832.70" width="9.40" height="22.30" fill="#000080"/>
<rect x="864.10" y="832.70" width="9.40" height="22.30" fill="#0000f1"/>
<rect x="873.10" y="832.70" width="9.40" height="22.30" fill="#0018ff"/>
<rect x="882.10" y="832.70" width="9.40" height="22.30" fill="#0080ff"/>
<rect x="891.10" y="832.70" width="27.40" height="22.30" fill="#0018ff"/>
<rect x="918.10" y="832.70" width="9.40" height="22.30" fill="#0000b6"/>
<rect x="927.10" y="832.70" width="9.40" height="22.30" fill="#0018ff"/>
<rect x="936.10" y="832.70" width="9.40" height="22.30" fill="#0080ff"/>
<rect x="945.10" y="832.70" width="9.40" height="22.30" fill="#0000f1"/>
<rect x="954.10" y="832.70" width="9.40" height="22.30" fill="#7dff7a"/>
<rect x="963.10" y="832.70" width="27.40" height="22.30" fill="#29ffce"/>
<rect x="990.10" y="832.70" width="36.40" height="22.30" fill="#ceff29"/>
<rect x="1026.10" y="832.70" width="9.40" height="22.30" fill="#00e4f8"/>
<rect x="1035.10" y="832.70" width="18.40" height="22.30" fill="#0080ff"/>
<rect x="1053.10" y="832.70" width="9.40" height="22.30" fill="#29ffce"/>
<rect x="1062.10" y="832.70" width="9.40" height="22.30" fill="#a4ff53"/>
<rect x="1071.10" y="832.70" width="9.40" height="22.30" fill="#ceff29"/>
<rect x="1080.10" y="832.70" width="9.40" height="22.30" fill="#f8f500"/>
<rect x="1089.10" y="832.70" width="18.40" height="22.30" fill="#f10800"/>
<rect x="1107.10" y="832.70" width="9.40" height="22.30" fill="#ff6800"/>
<rect x="1116.10" y="832.70" width="9.40" height="22.30" fill="#800000"/>
<rect x="1125.10" y="832.70" width="9.40" height="22.30" fill="#f10800"/>
<rect x="1134.10" y="832.70" width="9.40" height="22.30" fill="#800000"/>
<rect x="1143.10" y="832.70" width="9.40" height="22.30" fill="#ff3800"/>
<rect x="1152.10" y="832.70" width="9.40" height="22.30" fill="#800000"/>
<rect x="1161.10" y="832.70" width="27.40" height="22.30" fill="#b60000"/>
<rect x="747.10" y="854.60" width="99.40" height="22.30" fill="#000080"/>
<rect x="846.10" y="854.60" width="9.40" height="22.30" fill="#004cff"/>
<rect x="855.10" y="854.60" width="9.40" height="22.30" fill="#0000f1"/>
<rect x="864.10" y="854.60" width="45.40" height="22.30" fill="#0000b6"/>
<rect x="909.10" y="854.60" width="9.40" height="22.30" fill="#00009b"/>
<rect x="918.10" y="854.60" width="18.40" height="22.30" fill="#0000b6"/>
<rect x="936.10" y="854.60" width="27.40" height="22.30" fill="#00b0ff"/>
<rect x="963.10" y="854.60" width="9.40" height="22.30" fill="#00e4f8"/>
<rect x="972.10" y="854.60" width="9.40" height="22.30" fill="#ff9400"/>
<rect x="981.10" y="854.60" width="9.40" height="22.30" fill="#ceff29"/>
<rect x="990.10" y="854.60" width="18.40" height="22.30" fill="#53ffa4"/>
<rect x="1008.10" y="854.60" width="9.40" height="22.30" fill="#29ffce"/>
<rect x="1017.10" y="854.60" width="9.40" height="22.30" fill="#00ccff"/>
<rect x="1026.10" y="854.60" width="18.40" height="22.30" fill="#29ffce"/>
<rect x="1044.10" y="854.60" width="9.40" height="22.30" fill="#53ffa4"/>
<rect x="1053.10" y="854.60" width="9.40" height="22.30" fill="#00ccff"/>
<rect x="1062.10" y="854.60" width="9.40" height="22.30" fill="#00e4f8"/>
<rect x="1071.10" y="854.60" width="9.40" height="22.30" fill="#53ffa4"/>
<rect x="1080.10" y="854.60" width="9.40" height="22.30" fill="#ffc400"/>
<rect x="1089.10" y="854.60" width="9.40" height="22.30" fill="#f10800"/>
<rect x="1098.10" y="854.60" width="9.40" height="22.30" fill="#ff3800"/>
<rect x="1107.10" y="854.60" width="9.40" height="22.30" fill="#b60000"/>
<rect x="1116.10" y="854.60" width="9.40" height="22.30" fill="#f10800"/>
<rect x="1125.10" y="854.60" width="18.40" height="22.30" fill="#b60000"/>
<rect x="1143.10" y="854.60" width="9.40" height="22.30" fill="#800000"/>
<rect x="1152.10" y="854.60" width="18.40" height="22.30" fill="#b60000"/>
<rect x="1170.10" y="854.60" width="9.40" height="22.30" fill="#800000"/>
<rect x="1179.10" y="854.60" width="9.40" height="22.30" fill="#ff3800"/>
<rect x="747.10" y="876.50" width="81.40" height="22.30" fill="#000080"/>
<rect x="828.10" y="876.50" width="9.40" height="22.30" fill="#0000b6"/>
<rect x="837.10" y="876.50" width="36.40" height="22.30" fill="#000080"/>
<rect x="873.10" y="876.50" width="9.40" height="22.30" fill="#0000b6"/>
<rect x="882.10" y="876.50" width="9.40" height="22.30" fill="#000080"/>
<rect x="891.10" y="876.50" width="27.40" height="22.30" fill="#0000b6"/>
<rect x="918.10" y="876.50" width="9.40" height="22.30" fill="#0000f1"/>
<rect x="927.10" y="876.50" width="9.40" height="22.30" fill="#00e4f8"/>
<rect x="936.10" y="876.50" width="18.40" height="22.30" fill="#29ffce"/>
<rect x="954.10" y="876.50" width="9.40" height="22.30" fill="#f8f500"/>
<rect x="963.10" y="876.50" width="18.40" height="22.30" fill="#ffc400"/>
<rect x="981.10" y="876.50" width="9.40" height="22.30" fill="#7dff7a"/>
<rect x="990.10" y="876.50" width="9.40" height="22.30" fill="#ceff29"/>
<rect x="999.10" y="876.50" width="9.40" height="22.30" fill="#ffae00"/>
<rect x="1008.10" y="876.50" width="9.40" height="22.30" fill="#ceff29"/>
<rect x="1017.10" y="876.50" width="9.40" height="22.30" fill="#f8f500"/>
<rect x="1026.10" y="876.50" width="9.40" height="22.30" fill="#e4ff13"/>
<rect x="1035.10" y="876.50" width="9.40" height="22.30" fill="#00e4f8"/>
<rect x="1044.10" y="876.50" width="9.40" height="22.30" fill="#29ffce"/>
<rect x="1053.10" y="876.50" width="9.40" height="22.30" fill="#004cff"/>
<rect x="1062.10" y="876.50" width="18.40" height="22.30" fill="#00e4f8"/>
<rect x="1080.10" y="876.50" width="18.40" height="22.30" fill="#ceff29"/>
<rect x="1098.10" y="876.50" width="9.40" height="22.30" fill="#f8f500"/>
<rect x="1107.10" y="876.50" width="9.40" height="22.30" fill="#800000"/>
<rect x="1116.10" y="876.50" width="9.40" height="22.30" fill="#ff3800"/>
<rect x="1125.10" y="876.50" width="18.40" height="22.30" fill="#f10800"/>
<rect x="1143.10" y="876.50" width="9.40" height="22.30" fill="#b60000"/>
<rect x="1152.10" y="876.50" width="18.40" height="22.30" fill="#800000"/>
<rect x="1170.10" y="876.50" width="18.40" height="22.30" fill="#b60000"/>
<rect x="747.10" y="898.40" width="117.40" height="22.30" fill="#000080"/>
<rect x="864.10" y="898.40" width="9.40" height="22.30" fill="#0000b6"/>
<rect x="873.10" y="898.40" width="18.40" height="22.30" fill="#000080"/>
<rect x="891.10" y="898.40" width="27.40" height="22.30" fill="#0000b6"/>
<rect x="918.10" y="898.40" width="9.40" height="22.30" fill="#000080"/>
<rect x="927.10" y="898.40" width="9.40" height="22.30" fill="#0000f1"/>
<rect x="936.10" y="898.40" width="9.40" height="22.30" fill="#29ffce"/>
<rect x="945.10" y="898.40" width="9.40" height="22.30" fill="#a4ff53"/>
<rect x="954.10" y="898.40" width="9.40" height="22.30" fill="#ff9400"/>
<rect x="963.10" y="898.40" width="9.40" height="22.30" fill="#f10800"/>
<rect x="972.10" y="898.40" width="18.40" height="22.30" fill="#ff6800"/>
<rect x="990.10" y="898.40" width="9.40" height="22.30" fill="#f8f500"/>
<rect x="999.10" y="898.40" width="18.40" height="22.30" fill="#a4ff53"/>
<rect x="1017.10" y="898.40" width="9.40" height="22.30" fill="#00b0ff"/>
<rect x="1026.10" y="898.40" width="9.40" height="22.30" fill="#53ffa4"/>
<rect x="1035.10" y="898.40" width="9.40" height="22.30" fill="#00e4f8"/>
<rect x="1044.10" y="898.40" width="9.40" height="22.30" fill="#29ffce"/>
<rect x="1053.10" y="898.40" width="9.40" height="22.30" fill="#0000f1"/>
<rect x="1062.10" y="898.40" width="18.40" height="22.30" fill="#0080ff"/>
<rect x="1080.10" y="898.40" width="9.40" height="22.30" fill="#004cff"/>
<rect x="1089.10" y="898.40" width="9.40" height="22.30" fill="#53ffa4"/>
<rect x="1098.10" y="898.40" width="9.40" height="22.30" fill="#ffc400"/>
<rect x="1107.10" y="898.40" width="9.40" height="22.30" fill="#ceff29"/>
<rect x="1116.10" y="898.40" width="9.40" height="22.30" fill="#f10800"/>
<rect x="1125.10" y="898.40" width="18.40" height="22.30" fill="#ff6800"/>
<rect x="1143.10" y="898.40" width="18.40" height="22.30" fill="#f10800"/>
<rect x="1161.10" y="898.40" width="9.40" height="22.30" fill="#b60000"/>
<rect x="1170.10" y="898.40" width="9.40" height="22.30" fill="#ff3800"/>
<rect x="1179.10" y="898.40" width="9.40" height="22.30" fill="#800000"/>
<rect x="747.10" y="920.30" width="144.40" height="22.30" fill="#000080"/>
<rect x="891.10" y="920.30" width="9.40" height="22.30" fill="#0000b6"/>
<rect x="900.10" y="920.30" width="9.40" height="22.30" fill="#0018ff"/>
<rect x="909.10" y="920.30" width="9.40" height="22.30" fill="#0000b6"/>
<rect x="918.10" y="920.30" width="9.40" height="22.30" fill="#0000f1"/>
<rect x="927.10" y="920.30" width="9.40" height="22.30" fill="#004cff"/>
<rect x="936.10" y="920.30" width="9.40" height="22.30" fill="#0080ff"/>
<rect x="945.10" y="920.30" width="9.40" height="22.30" fill="#29ffce"/>
<rect x="954.10" y="920.30" width="9.40" height="22.30" fill="#ff9400"/>
<rect x="963.10" y="920.30" width="9.40" height="22.30" fill="#ff6800"/>
<rect x="972.10" y="920.30" width="18.40" height="22.30" fill="#800000"/>
<rect x="990.10" y="920.30" width="9.40" height="22.30" fill="#b60000"/>
<rect x="999.10" y="920.30" width="9.40" height="22.30" fill="#f8f500"/>
<rect x="1008.10" y="920.30" width="9.40" height="22.30" fill="#a4ff53"/>
<rect x="1017.10" y="920.30" width="9.40" height="22.30" fill="#00b0ff"/>
<rect x="1026.10" y="920.30" width="27.40" height="22.30" fill="#29ffce"/>
<rect x="1053.10" y="920.30" width="9.40" height="22.30" fill="#a4ff53"/>
<rect x="1062.10" y="920.30" width="9.40" height="22.30" fill="#7dff7a"/>
<rect x="1071.10" y="920.30" width="9.40" height="22.30" fill="#53ffa4"/>
<rect x="1080.10" y="920.30" width="9.40" height="22.30" fill="#00b0ff"/>
<rect x="1089.10" y="920.30" width="9.40" height="22.30" fill="#29ffce"/>
<rect x="1098.10" y="920.30" width="9.40" height="22.30" fill="#00e4f8"/>
<rect x="1107.10" y="920.30" width="9.40" height="22.30" fill="#a4ff53"/>
<rect x="1116.10" y="920.30" width="9.40" height="22.30" fill="#ceff29"/>
<rect x="1125.10" y="920.30" width="9.40" height="22.30" fill="#f8f500"/>
<rect x="1134.10" y="920.30" width="9.40" height="22.30" fill="#ceff29"/>
<rect x="1143.10" y="920.30" width="9.40" height="22.30" fill="#ff3800"/>
<rect x="1152.10" y="920.30" width="9.40" height="22.30" fill="#f10800"/>
<rect x="1161.10" y="920.30" width="18.40" height="22.30" fill="#ff6800"/>
<rect x="1179.10" y="920.30" width="9.40" height="22.30" fill="#b60000"/>
<rect x="747.10" y="942.20" width="162.40" height="22.30" fill="#000080"/>
<rect x="909.10" y="942.20" width="9.40" height="22.30" fill="#0000b6"/>
<rect x="918.10" y="942.20" width="9.40" height="22.30" fill="#0000f1"/>
<rect x="927.10" y="942.20" width="9.40" height="22.30" fill="#0000b6"/>
<rect x="936.10" y="942.20" width="9.40" height="22.30" fill="#0000f1"/>
<rect x="945.10" y="942.20" width="9.40" height="22.30" fill="#004cff"/>
<rect x="954.10" y="942.20" width="9.40" height="22.30" fill="#00e4f8"/>
<rect x="963.10" y="942.20" width="9.40" height="22.30" fill="#0080ff"/>
<rect x="972.10" y="942.20" width="9.40" height="22.30" fill="#f8f500"/>
<rect x="981.10" y="942.20" width="9.40" height="22.30" fill="#ff3800"/>
<rect x="990.10" y="942.20" width="9.40" height="22.30" fill="#f10800"/>
<rect x="999.10" y="942.20" width="9.40" height="22.30" fill="#b60000"/>
<rect x="1008.10" y="942.20" width="36.40" height="22.30" fill="#800000"/>
<rect x="1044.10" y="942.20" width="18.40" height="22.30" fill="#b60000"/>
<rect x="1062.10" y="942.20" width="9.40" height="22.30" fill="#ff9400"/>
<rect x="1071.10" y="942.20" width="9.40" height="22.30" fill="#f8f500"/>
<rect x="1080.10" y="942.20" width="9.40" height="22.30" fill="#7dff7a"/>
<rect x="1089.10" y="942.20" width="9.40" height="22.30" fill="#00e4f8"/>
<rect x="1098.10" y="942.20" width="27.40" height="22.30" fill="#53ffa4"/>
<rect x="1125.10" y="942.20" width="9.40" height="22.30" fill="#29ffce"/>
<rect x="1134.10" y="942.20" width="9.40" height="22.30" fill="#00e4f8"/>
<rect x="1143.10" y="942.20" width="9.40" height="22.30" fill="#29ffce"/>
<rect x="1152.10" y="942.20" width="9.40" height="22.30" fill="#ceff29"/>
<rect x="1161.10" y="942.20" width="9.40" height="22.30" fill="#ffc400"/>
<rect x="1170.10" y="942.20" width="9.40" height="22.30" fill="#ff9400"/>
<rect x="1179.10" y="942.20" width="9.40" height="22.30" fill="#ffc400"/>
<rect x="747.10" y="964.10" width="243.40" height="22.30" fill="#000080"/>
<rect x="990.10" y="964.10" width="9.40" height="22.30" fill="#0000f1"/>
<rect x="999.10" y="964.10" width="9.40" height="22.30" fill="#00e4f8"/>
<rect x="1008.10" y="964.10" width="9.40" height="22.30" fill="#7dff7a"/>
<rect x="1017.10" y="964.10" width="9.40" height="22.30" fill="#ffc400"/>
<rect x="1026.10" y="964.10" width="9.40" height="22.30" fill="#7dff7a"/>
<rect x="1035.10" y="964.10" width="9.40" height="22.30" fill="#ff6800"/>
<rect x="1044.10" y="964.10" width="9.40" height="22.30" fill="#f10800"/>
<rect x="1053.10" y="964.10" width="18.40" height="22.30" fill="#b60000"/>
<rect x="1071.10" y="964.10" width="90.40" height="22.30" fill="#800000"/>
<rect x="1161.10" y="964.10" width="9.40" height="22.30" fill="#f10800"/>
<rect x="1170.10" y="964.10" width="9.40" height="22.30" fill="#ff9400"/>
<rect x="1179.10" y="964.10" width="9.40" height="22.30" fill="#53ffa4"/>
<rect x="747.10" y="986.00" width="441.40" height="22.30" fill="#000080"/>
</g>
<path d="M1000.30 769.42L1005.40 778.22L1000.30 787.02L995.20 778.22Z" fill="#fff" stroke="#000" stroke-width="1.85" stroke-linejoin="miter"/>
<text class="a" x="1006.37" y="782.82" textLength="28.7" lengthAdjust="spacingAndGlyphs">100</text>
<text class="a" x="1043.23" y="782.82" textLength="25.8" lengthAdjust="spacingAndGlyphs">[%]</text>
<path d="M1007.10 791.27L1012.20 800.07L1007.10 808.87L1002.00 800.07Z" fill="#fff" stroke="#000" stroke-width="1.85" stroke-linejoin="miter"/>
<text class="a" x="1014.34" y="804.67" textLength="18.9" lengthAdjust="spacingAndGlyphs">95</text>
<text class="a" x="1040.84" y="804.67" textLength="25.9" lengthAdjust="spacingAndGlyphs">[%]</text>
<path d="M998.00 813.11L1003.10 821.91L998.00 830.71L992.90 821.91Z" fill="#fff" stroke="#000" stroke-width="1.85" stroke-linejoin="miter"/>
<text class="a" x="1005.25" y="826.51" textLength="18.9" lengthAdjust="spacingAndGlyphs">95</text>
<text class="a" x="1031.74" y="826.51" textLength="25.9" lengthAdjust="spacingAndGlyphs">[%]</text>
<path d="M1002.60 834.96L1007.70 843.76L1002.60 852.56L997.50 843.76Z" fill="#fff" stroke="#000" stroke-width="1.85" stroke-linejoin="miter"/>
<text class="a" x="1008.66" y="848.36" textLength="28.7" lengthAdjust="spacingAndGlyphs">100</text>
<text class="a" x="1045.53" y="848.36" textLength="25.8" lengthAdjust="spacingAndGlyphs">[%]</text>
<path d="M992.60 856.80L997.70 865.60L992.60 874.40L987.50 865.60Z" fill="#fff" stroke="#000" stroke-width="1.85" stroke-linejoin="miter"/>
<text class="a" x="998.66" y="870.20" textLength="28.7" lengthAdjust="spacingAndGlyphs">100</text>
<text class="a" x="1035.53" y="870.20" textLength="25.8" lengthAdjust="spacingAndGlyphs">[%]</text>
<path d="M985.80 878.65L990.90 887.45L985.80 896.25L980.70 887.45Z" fill="#fff" stroke="#000" stroke-width="1.85" stroke-linejoin="miter"/>
<text class="a" x="991.87" y="892.05" textLength="28.7" lengthAdjust="spacingAndGlyphs">100</text>
<text class="a" x="1028.73" y="892.05" textLength="25.8" lengthAdjust="spacingAndGlyphs">[%]</text>
<path d="M990.80 900.50L995.90 909.30L990.80 918.10L985.70 909.30Z" fill="#fff" stroke="#000" stroke-width="1.85" stroke-linejoin="miter"/>
<text class="a" x="996.87" y="913.90" textLength="28.7" lengthAdjust="spacingAndGlyphs">100</text>
<text class="a" x="1033.73" y="913.90" textLength="25.8" lengthAdjust="spacingAndGlyphs">[%]</text>
<path d="M990.40 922.34L995.50 931.14L990.40 939.94L985.30 931.14Z" fill="#fff" stroke="#000" stroke-width="1.85" stroke-linejoin="miter"/>
<text class="a" x="996.47" y="935.74" textLength="28.7" lengthAdjust="spacingAndGlyphs">100</text>
<text class="a" x="1033.34" y="935.74" textLength="25.8" lengthAdjust="spacingAndGlyphs">[%]</text>
<path d="M1018.40 944.19L1023.50 952.99L1018.40 961.79L1013.30 952.99Z" fill="#fff" stroke="#000" stroke-width="1.85" stroke-linejoin="miter"/>
<text class="a" x="1024.46" y="957.59" textLength="28.7" lengthAdjust="spacingAndGlyphs">100</text>
<text class="a" x="1061.34" y="957.59" textLength="25.8" lengthAdjust="spacingAndGlyphs">[%]</text>
<path d="M1078.00 966.03L1083.10 974.83L1078.00 983.63L1072.90 974.83Z" fill="#fff" stroke="#000" stroke-width="1.85" stroke-linejoin="miter"/>
<text class="a" x="1084.06" y="979.43" textLength="28.7" lengthAdjust="spacingAndGlyphs">100</text>
<text class="a" x="1120.93" y="979.43" textLength="25.8" lengthAdjust="spacingAndGlyphs">[%]</text>
<rect x="747.90" y="767.30" width="440.00" height="240.30" fill="none" stroke="#000" stroke-width="1.6"/>
<line x1="747.90" y1="1007.60" x2="747.90" y2="1015.30" stroke="#000" stroke-width="1.6"/>
<text class="t" x="746.85" y="1037.40" text-anchor="middle" textLength="11.2" lengthAdjust="spacingAndGlyphs">0</text>
<line x1="837.70" y1="1007.60" x2="837.70" y2="1015.30" stroke="#000" stroke-width="1.6"/>
<text class="t" x="836.20" y="1037.40" text-anchor="middle" textLength="22.4" lengthAdjust="spacingAndGlyphs">10</text>
<line x1="927.49" y1="1007.60" x2="927.49" y2="1015.30" stroke="#000" stroke-width="1.6"/>
<text class="t" x="925.99" y="1037.40" text-anchor="middle" textLength="22.4" lengthAdjust="spacingAndGlyphs">20</text>
<line x1="1017.29" y1="1007.60" x2="1017.29" y2="1015.30" stroke="#000" stroke-width="1.6"/>
<text class="t" x="1015.79" y="1037.40" text-anchor="middle" textLength="22.4" lengthAdjust="spacingAndGlyphs">30</text>
<line x1="1107.08" y1="1007.60" x2="1107.08" y2="1015.30" stroke="#000" stroke-width="1.6"/>
<text class="t" x="1105.58" y="1037.40" text-anchor="middle" textLength="22.4" lengthAdjust="spacingAndGlyphs">40</text>
<line x1="740.20" y1="996.68" x2="747.90" y2="996.68" stroke="#000" stroke-width="1.6"/>
<text class="t" x="731.90" y="1004.28" text-anchor="end" textLength="10.9" lengthAdjust="spacingAndGlyphs">0</text>
<line x1="740.20" y1="952.99" x2="747.90" y2="952.99" stroke="#000" stroke-width="1.6"/>
<text class="t" x="731.90" y="960.59" text-anchor="end" textLength="32.8" lengthAdjust="spacingAndGlyphs">100</text>
<line x1="740.20" y1="909.30" x2="747.90" y2="909.30" stroke="#000" stroke-width="1.6"/>
<text class="t" x="731.90" y="916.90" text-anchor="end" textLength="32.8" lengthAdjust="spacingAndGlyphs">200</text>
<line x1="740.20" y1="865.60" x2="747.90" y2="865.60" stroke="#000" stroke-width="1.6"/>
<text class="t" x="731.90" y="873.20" text-anchor="end" textLength="32.8" lengthAdjust="spacingAndGlyphs">300</text>
<line x1="740.20" y1="821.91" x2="747.90" y2="821.91" stroke="#000" stroke-width="1.6"/>
<text class="t" x="731.90" y="829.51" text-anchor="end" textLength="32.8" lengthAdjust="spacingAndGlyphs">400</text>
<line x1="740.20" y1="778.22" x2="747.90" y2="778.22" stroke="#000" stroke-width="1.6"/>
<text class="t" x="731.90" y="785.82" text-anchor="end" textLength="32.8" lengthAdjust="spacingAndGlyphs">500</text>
<text class="l" x="911.82" y="1065.70" textLength="32.4" lengthAdjust="spacingAndGlyphs">BO</text>
<text class="l" x="950.08" y="1065.70" textLength="48.3" lengthAdjust="spacingAndGlyphs">steps</text>
<text class="l" x="1005.83" y="1065.70" textLength="7.4" lengthAdjust="spacingAndGlyphs"><tspan font-style="italic">t</tspan></text>
<text class="s" x="1014.01" y="1068.70" textLength="8.4" lengthAdjust="spacingAndGlyphs">b</text>
<g transform="translate(685.30 887.45) rotate(-90)">
<text class="l" x="-126.07" y="0.00" textLength="93.8" lengthAdjust="spacingAndGlyphs">Maximum</text>
<text class="l" x="-24.88" y="0.00" textLength="32.6" lengthAdjust="spacingAndGlyphs">GD</text>
<text class="l" x="11.06" y="0.00" textLength="86.1" lengthAdjust="spacingAndGlyphs">iteration</text>
<text class="l" x="104.05" y="0.00" textLength="15.2" lengthAdjust="spacingAndGlyphs"><tspan font-style="italic">T</tspan></text>
<text class="s" x="117.19" y="3.20" textLength="7.8" lengthAdjust="spacingAndGlyphs">g</text>
</g>
<text class="ti" x="755.40" y="755.30" textLength="36.1" lengthAdjust="spacingAndGlyphs">(F)</text>
<text class="ti" x="800.70" y="755.30" textLength="155.2" lengthAdjust="spacingAndGlyphs">Neighborhood</text>
<text class="ti" x="963.60" y="755.30" textLength="68.4" lengthAdjust="spacingAndGlyphs">search</text>
<text class="ti" x="1042.05" y="755.30" textLength="43.3" lengthAdjust="spacingAndGlyphs">rate</text>
<text class="ti" x="1094.80" y="755.30" textLength="24.4" lengthAdjust="spacingAndGlyphs">(<tspan font-style="italic">β</tspan></text>
<text class="ti" x="1126.60" y="755.30" textLength="18.9" lengthAdjust="spacingAndGlyphs">=</text>
<text class="ti" x="1155.20" y="755.30" textLength="20.4" lengthAdjust="spacingAndGlyphs">5)</text>
<rect x="1215.10" y="767.30" width="12.00" height="240.30" fill="url(#jet)" stroke="#000" stroke-width="1.6"/>
<line x1="1227.10" y1="1007.60" x2="1234.80" y2="1007.60" stroke="#000" stroke-width="1.6"/>
<text class="t" x="1241.40" y="1015.20" textLength="28.2" lengthAdjust="spacingAndGlyphs">0.0</text>
<line x1="1227.10" y1="959.54" x2="1234.80" y2="959.54" stroke="#000" stroke-width="1.6"/>
<text class="t" x="1241.40" y="967.14" textLength="28.2" lengthAdjust="spacingAndGlyphs">0.2</text>
<line x1="1227.10" y1="911.48" x2="1234.80" y2="911.48" stroke="#000" stroke-width="1.6"/>
<text class="t" x="1241.40" y="919.08" textLength="28.2" lengthAdjust="spacingAndGlyphs">0.4</text>
<line x1="1227.10" y1="863.42" x2="1234.80" y2="863.42" stroke="#000" stroke-width="1.6"/>
<text class="t" x="1241.40" y="871.02" textLength="28.2" lengthAdjust="spacingAndGlyphs">0.6</text>
<line x1="1227.10" y1="815.36" x2="1234.80" y2="815.36" stroke="#000" stroke-width="1.6"/>
<text class="t" x="1241.40" y="822.96" textLength="28.2" lengthAdjust="spacingAndGlyphs">0.8</text>
<line x1="1227.10" y1="767.30" x2="1234.80" y2="767.30" stroke="#000" stroke-width="1.6"/>
<text class="t" x="1241.40" y="774.90" textLength="28.2" lengthAdjust="spacingAndGlyphs">1.0</text>
<g transform="translate(1293.20 887.95) rotate(-90)">
<text class="l" x="-22.28" y="0.00" textLength="44.7" lengthAdjust="spacingAndGlyphs">Rate</text>
</g>
</svg></body></html>
